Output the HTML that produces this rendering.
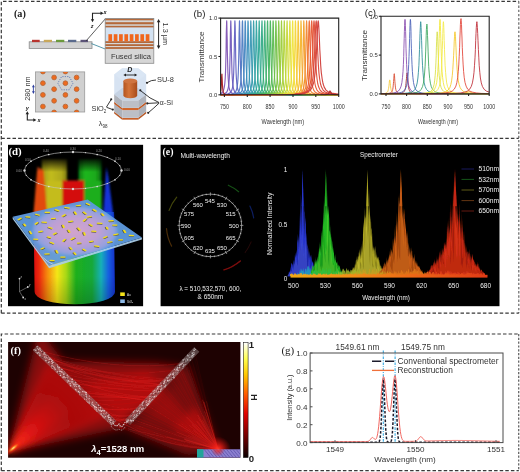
<!DOCTYPE html>
<html><head><meta charset="utf-8"><title>Figure</title>
<style>html,body{margin:0;padding:0;background:#fff;}body{width:520px;height:472px;overflow:hidden;}svg{display:block;filter:blur(0.5px);}</style>
</head><body>
<svg width="520" height="472" viewBox="0 0 520 472">
<defs><linearGradient id="cylg" x1="0" x2="1" y1="0" y2="0"><stop offset="0" stop-color="#b4541f"/><stop offset="0.4" stop-color="#d4743a"/><stop offset="1" stop-color="#a84c1c"/></linearGradient>
<filter id="blur05" x="-5%" y="-5%" width="110%" height="110%"><feGaussianBlur stdDeviation="0.5"/></filter>
<filter id="blur1" x="-10%" y="-10%" width="120%" height="120%"><feGaussianBlur stdDeviation="1.1"/></filter>
<filter id="blur2" x="-10%" y="-10%" width="120%" height="120%"><feGaussianBlur stdDeviation="2.2"/></filter>
<filter id="blur3" x="-20%" y="-20%" width="140%" height="140%"><feGaussianBlur stdDeviation="3.2"/></filter>
<filter id="blur4" x="-20%" y="-20%" width="140%" height="140%"><feGaussianBlur stdDeviation="4.5"/></filter>
<linearGradient id="dyel" x1="0" x2="1" y1="0" y2="0"><stop offset="0" stop-color="#a09a16"/><stop offset="0.35" stop-color="#c2bc1e"/><stop offset="0.8" stop-color="#aea81a"/><stop offset="1" stop-color="#7a760e"/></linearGradient>
<linearGradient id="dgrn" x1="0" x2="1" y1="0" y2="0"><stop offset="0" stop-color="#0d7a10"/><stop offset="0.3" stop-color="#1fb81f"/><stop offset="0.75" stop-color="#1aa81a"/><stop offset="1" stop-color="#0c6a0e"/></linearGradient>
<linearGradient id="dfade" x1="0" x2="0" y1="0" y2="1"><stop offset="0" stop-color="#000" stop-opacity="1"/><stop offset="0.35" stop-color="#000" stop-opacity="0.95"/><stop offset="1" stop-color="#000" stop-opacity="0"/></linearGradient>
<linearGradient id="drain" gradientUnits="userSpaceOnUse" x1="33.5" x2="115" y1="0" y2="0">
<stop offset="0" stop-color="#d80a0a"/><stop offset="0.07" stop-color="#ee2a0c"/><stop offset="0.17" stop-color="#f58a10"/><stop offset="0.29" stop-color="#f4e614"/><stop offset="0.40" stop-color="#a8d818"/><stop offset="0.52" stop-color="#1fb01c"/><stop offset="0.72" stop-color="#12a83a"/><stop offset="0.83" stop-color="#12b0b8"/><stop offset="0.92" stop-color="#1560e0"/><stop offset="1" stop-color="#1230c8"/></linearGradient>
<linearGradient id="dshade" x1="0" x2="0" y1="0" y2="1"><stop offset="0" stop-color="#000" stop-opacity="0"/><stop offset="0.7" stop-color="#000" stop-opacity="0"/><stop offset="1" stop-color="#000" stop-opacity="0.18"/></linearGradient>
<radialGradient id="dpink" cx="0.5" cy="0.5" r="0.5"><stop offset="0" stop-color="#d2a4cc"/><stop offset="0.55" stop-color="#bea0d4"/><stop offset="0.9" stop-color="#94a0de"/><stop offset="1" stop-color="#7aa0e2" stop-opacity="0.6"/></radialGradient>

<linearGradient id="eband" gradientUnits="userSpaceOnUse" x1="290" x2="487" y1="0" y2="0"><stop offset="0" stop-color="#f0a818"/><stop offset="0.3" stop-color="#f29018"/><stop offset="0.6" stop-color="#ee6a14"/><stop offset="1" stop-color="#e03a12"/></linearGradient>

<radialGradient id="fsrc" gradientUnits="userSpaceOnUse" cx="8" cy="452.5" r="110"><stop offset="0" stop-color="#ff9a30"/><stop offset="0.08" stop-color="#ff3014"/><stop offset="0.3" stop-color="#d01212" stop-opacity="0.9"/><stop offset="0.6" stop-color="#a00d0d" stop-opacity="0.6"/><stop offset="1" stop-color="#800a0a" stop-opacity="0"/></radialGradient>
<radialGradient id="fsrc3" gradientUnits="userSpaceOnUse" cx="8" cy="452.5" r="80"><stop offset="0" stop-color="#ff9a30"/><stop offset="0.1" stop-color="#ff3014"/><stop offset="0.4" stop-color="#e01414" stop-opacity="0.8"/><stop offset="1" stop-color="#c01010" stop-opacity="0"/></radialGradient>
<radialGradient id="fsrc2" cx="0.5" cy="0.5" r="0.5"><stop offset="0" stop-color="#fff2a0"/><stop offset="0.2" stop-color="#ffa030" stop-opacity="0.9"/><stop offset="0.5" stop-color="#ff3010" stop-opacity="0.5"/><stop offset="1" stop-color="#e01010" stop-opacity="0"/></radialGradient>
<radialGradient id="ffoc" cx="0.5" cy="0.5" r="0.5"><stop offset="0" stop-color="#ff3c28"/><stop offset="0.3" stop-color="#f02018" stop-opacity="0.8"/><stop offset="1" stop-color="#d01010" stop-opacity="0"/></radialGradient>
<linearGradient id="hot" x1="0" x2="0" y1="1" y2="0"><stop offset="0" stop-color="#0a0000"/><stop offset="0.18" stop-color="#700000"/><stop offset="0.38" stop-color="#e00000"/><stop offset="0.55" stop-color="#ff5a00"/><stop offset="0.72" stop-color="#ffc800"/><stop offset="0.86" stop-color="#ffff50"/><stop offset="1" stop-color="#ffffff"/></linearGradient>
</defs>
<rect width="520" height="472" fill="#fff"/>
<path d="M1.3 313.2 V1.3 H518.8" stroke="#383838" stroke-width="1.2" fill="none" stroke-dasharray="3.5 2.1"/>
<path d="M518.8 1.3 V313.2" stroke="#666" stroke-width="1.2" fill="none" stroke-dasharray="2.4 1.8"/>
<path d="M1.3 313.2 H518.8" stroke="#383838" stroke-width="1.2" fill="none" stroke-dasharray="3.5 2.1"/>
<path d="M1.3 138.3 H518.8" stroke="#383838" stroke-width="1.2" fill="none" stroke-dasharray="3.5 2.1"/>
<path d="M1.3 470.7 V334 H518.8" stroke="#383838" stroke-width="1.2" fill="none" stroke-dasharray="3.5 2.1"/>
<path d="M518.7 334 V470.7" stroke="#666" stroke-width="1.3" fill="none" stroke-dasharray="2.2 1.6"/>
<path d="M1.3 470.7 H518.8" stroke="#383838" stroke-width="1.2" fill="none" stroke-dasharray="3.5 2.1"/>
<g id="pa">
<text x="13.9" y="16.9" font-family="Liberation Serif, serif" font-weight="bold" font-size="10.2" fill="#222">(a)</text>
<rect x="29.2" y="41.8" width="62.8" height="6.6" fill="#d2d2d2" stroke="#8a8a8a" stroke-width="0.8"/>
<rect x="32" y="39.8" width="7.7" height="2.3" fill="#b8332d"/>
<rect x="43.8" y="39.8" width="8.2" height="2.3" fill="#c9a85a"/>
<rect x="56" y="39.8" width="8.3" height="2.3" fill="#6c9a3c"/>
<rect x="68" y="39.8" width="8.3" height="2.3" fill="#5a6a8c"/>
<rect x="80.5" y="39.8" width="7.5" height="2.3" fill="#5c5478"/>
<path d="M92.5 20 V13.3 H101" stroke="#222" stroke-width="1.1" fill="none"/>
<path d="M100.5 11.6 L103.6 13.3 L100.5 15 Z" fill="#222"/>
<path d="M90.8 19.2 L92.5 22.3 L94.2 19.2 Z" fill="#222"/>
<text x="103.6" y="13.5" font-family="Liberation Sans, sans-serif" font-style="italic" font-weight="bold" font-size="5.5" fill="#222">x</text>
<text x="90.8" y="28" font-family="Liberation Sans, sans-serif" font-style="italic" font-weight="bold" font-size="5.5" fill="#222">z</text>
<path d="M86 41 L105.2 19" stroke="#333" stroke-width="0.8" fill="none"/>
<path d="M91.5 43.6 L105.2 49" stroke="#2d7f95" stroke-width="0.8" fill="none"/>
<rect x="105.2" y="18.5" width="48.6" height="44.8" fill="#d6d6d6"/>
<rect x="105.2" y="26.5" width="48.6" height="15" fill="#d3e2f2"/>
<rect x="105.2" y="18.5" width="48.6" height="1.8" fill="#b4683a"/>
<rect x="105.2" y="22.2" width="48.6" height="2.1" fill="#b4683a"/>
<rect x="105.2" y="25.8" width="48.6" height="1.6" fill="#b4683a"/>
<rect x="105.2" y="41.2" width="48.6" height="1.8" fill="#b4683a"/>
<rect x="105.2" y="44.2" width="48.6" height="1.8" fill="#b4683a"/>
<rect x="105.2" y="47.1" width="48.6" height="1.8" fill="#b4683a"/>
<rect x="108.40" y="34.2" width="3.7" height="7" fill="#f0661c"/>
<rect x="113.73" y="34.2" width="3.7" height="7" fill="#f0661c"/>
<rect x="119.06" y="34.2" width="3.7" height="7" fill="#f0661c"/>
<rect x="124.39" y="34.2" width="3.7" height="7" fill="#f0661c"/>
<rect x="129.72" y="34.2" width="3.7" height="7" fill="#f0661c"/>
<rect x="135.05" y="34.2" width="3.7" height="7" fill="#f0661c"/>
<rect x="140.38" y="34.2" width="3.7" height="7" fill="#f0661c"/>
<rect x="145.71" y="34.2" width="3.7" height="7" fill="#f0661c"/>
<rect x="105.2" y="18.5" width="48.6" height="44.8" fill="none" stroke="#8c8c8c" stroke-width="0.8"/>
<text x="131" y="58.7" text-anchor="middle" font-family="Liberation Sans, sans-serif" font-size="7.8" fill="#333" textLength="40" lengthAdjust="spacingAndGlyphs">Fused silica</text>
<path d="M158.6 21.5 V46.5" stroke="#222" stroke-width="1" fill="none"/>
<path d="M156.8 22.3 L158.6 19 L160.4 22.3 Z" fill="#222"/>
<path d="M156.8 45.6 L158.6 48.9 L160.4 45.6 Z" fill="#222"/>
<text transform="translate(162.8 33.8) rotate(90)" text-anchor="middle" font-family="Liberation Sans, sans-serif" font-size="7.3" fill="#333">1.3 µm</text>
<clipPath id="latclip"><rect x="35.4" y="71.9" width="49.3" height="40.1"/></clipPath>
<rect x="35.4" y="71.9" width="49.3" height="40.1" fill="#d0d0d0" stroke="#9a9a9a" stroke-width="0.8"/>
<g clip-path="url(#latclip)">
<circle cx="42.9" cy="71.6" r="2.35" fill="#ee6a1e" stroke="#b8693a" stroke-width="0.9"/>
<circle cx="42.9" cy="83.2" r="2.35" fill="#ee6a1e" stroke="#b8693a" stroke-width="0.9"/>
<circle cx="42.9" cy="94.9" r="2.35" fill="#ee6a1e" stroke="#b8693a" stroke-width="0.9"/>
<circle cx="42.9" cy="106.5" r="2.35" fill="#ee6a1e" stroke="#b8693a" stroke-width="0.9"/>
<circle cx="54.1" cy="77.5" r="2.35" fill="#ee6a1e" stroke="#b8693a" stroke-width="0.9"/>
<circle cx="54.1" cy="89.2" r="2.35" fill="#ee6a1e" stroke="#b8693a" stroke-width="0.9"/>
<circle cx="54.1" cy="100.8" r="2.35" fill="#ee6a1e" stroke="#b8693a" stroke-width="0.9"/>
<circle cx="54.1" cy="112.4" r="2.35" fill="#ee6a1e" stroke="#b8693a" stroke-width="0.9"/>
<circle cx="65.4" cy="71.6" r="2.35" fill="#ee6a1e" stroke="#b8693a" stroke-width="0.9"/>
<circle cx="65.4" cy="83.2" r="2.35" fill="#ee6a1e" stroke="#b8693a" stroke-width="0.9"/>
<circle cx="65.4" cy="94.9" r="2.35" fill="#ee6a1e" stroke="#b8693a" stroke-width="0.9"/>
<circle cx="65.4" cy="106.5" r="2.35" fill="#ee6a1e" stroke="#b8693a" stroke-width="0.9"/>
<circle cx="76.6" cy="77.5" r="2.35" fill="#ee6a1e" stroke="#b8693a" stroke-width="0.9"/>
<circle cx="76.6" cy="89.2" r="2.35" fill="#ee6a1e" stroke="#b8693a" stroke-width="0.9"/>
<circle cx="76.6" cy="100.8" r="2.35" fill="#ee6a1e" stroke="#b8693a" stroke-width="0.9"/>
<circle cx="76.6" cy="112.4" r="2.35" fill="#ee6a1e" stroke="#b8693a" stroke-width="0.9"/>
</g>
<polygon points="73.0,83.2 69.2,89.8 61.6,89.8 57.8,83.2 61.6,76.6 69.2,76.6" fill="none" stroke="#4f6fb0" stroke-width="0.8" stroke-dasharray="1.2 1.2"/>
<text transform="translate(29.6 88.6) rotate(-90)" text-anchor="middle" font-family="Liberation Sans, sans-serif" font-size="7.3" fill="#333">280 nm</text>
<path d="M33.4 86.5 V92" stroke="#2c3e9e" stroke-width="0.9"/>
<path d="M32 87.2 L33.4 84.6 L34.8 87.2 Z" fill="#2c3e9e"/><path d="M32 91.3 L33.4 93.9 L34.8 91.3 Z" fill="#2c3e9e"/>
<path d="M27.3 113.5 V120 H34" stroke="#222" stroke-width="1.1" fill="none"/>
<path d="M25.6 114.3 L27.3 111.2 L29 114.3 Z" fill="#222"/><path d="M33.3 118.3 L36.4 120 L33.3 121.7 Z" fill="#222"/>
<text x="25.8" y="109.6" font-family="Liberation Sans, sans-serif" font-style="italic" font-weight="bold" font-size="5.5" fill="#222">y</text>
<text x="37.6" y="121.8" font-family="Liberation Sans, sans-serif" font-style="italic" font-weight="bold" font-size="5.5" fill="#222">x</text>
<polygon points="114.2,111.6 122.2,117.8 122.2,119.7 114.2,113.5" fill="#b85a28" /><polygon points="122.2,117.8 138.2,117.8 138.2,119.7 122.2,119.7" fill="#c8602a" /><polygon points="138.2,117.8 146.2,111.6 146.2,113.5 138.2,119.7" fill="#b85a28" />
<polygon points="114.2,103.9 122.2,110.1 122.2,117.8 114.2,111.6" fill="#aeb2ba" /><polygon points="122.2,110.1 138.2,110.1 138.2,117.8 122.2,117.8" fill="#bcbfc6" /><polygon points="138.2,110.1 146.2,103.9 146.2,111.6 138.2,117.8" fill="#aeb2ba" />
<polygon points="114.2,101.7 122.2,107.9 122.2,110.1 114.2,103.9" fill="#c05c28" /><polygon points="122.2,107.9 138.2,107.9 138.2,110.1 122.2,110.1" fill="#d0662c" /><polygon points="138.2,107.9 146.2,101.7 146.2,103.9 138.2,110.1" fill="#c05c28" />
<polygon points="114.2,94.3 122.2,100.5 122.2,107.9 114.2,101.7" fill="#aeb2ba" /><polygon points="122.2,100.5 138.2,100.5 138.2,107.9 122.2,107.9" fill="#bcbfc6" /><polygon points="138.2,100.5 146.2,94.3 146.2,101.7 138.2,107.9" fill="#aeb2ba" />
<polygon points="146.2,94.3 138.2,100.5 122.2,100.5 114.2,94.3 122.2,88.1 138.2,88.1" fill="#b9bcc3" />
<polygon points="114.2,74.5 122.2,68.3 138.2,68.3 146.2,74.5 146.2,94.3 138.2,100.5 122.2,100.5 114.2,94.3" fill="#c9d9ee" opacity="0.75"/>
<polygon points="146.2,74.5 138.2,80.7 122.2,80.7 114.2,74.5 122.2,68.3 138.2,68.3" fill="#dbe6f4" opacity="0.8"/>
<path d="M123.4 81 V95.6 A6.9 2.6 0 0 0 137.2 95.6 V81 Z" fill="url(#cylg)"/>
<ellipse cx="130.3" cy="81" rx="6.9" ry="2.4" fill="#cf7440"/>
<text x="129.8" y="72.3" text-anchor="middle" font-family="Liberation Sans, sans-serif" font-style="italic" font-weight="bold" font-size="7" fill="#222">D</text>
<path d="M125.2 75 H135.4" stroke="#222" stroke-width="0.9"/><path d="M126 73.6 L123.4 75 L126 76.4 Z" fill="#222"/><path d="M134.6 73.6 L137.2 75 L134.6 76.4 Z" fill="#222"/>
<text x="157" y="82.3" font-family="Liberation Sans, sans-serif" font-size="7.4" fill="#333">SU-8</text>
<text x="159.6" y="104.6" font-family="Liberation Sans, sans-serif" font-size="7.4" fill="#333">α-Si</text>
<text x="91.5" y="110.6" font-family="Liberation Sans, sans-serif" font-size="7.4" fill="#333">SiO<tspan font-size="4.5" dy="2">2</tspan></text>
<text x="98.8" y="126.4" font-family="Liberation Sans, sans-serif" font-size="7.4" fill="#333">λ<tspan font-size="4.5" dy="1.6">98</tspan></text>
<path d="M156 80 Q151 80 147.5 82.5" stroke="#222" stroke-width="0.9" fill="none"/><circle cx="147" cy="82.8" r="1.1" fill="#222"/>
<path d="M159 102.5 Q150 99 141 91" stroke="#222" stroke-width="0.9" fill="none"/><circle cx="140.3" cy="90.3" r="1.1" fill="#222"/>
<path d="M159 102.8 L148 103.4" stroke="#222" stroke-width="0.9" fill="none"/><circle cx="147.3" cy="103.4" r="1.1" fill="#222"/>
<path d="M159 103.2 Q154 108 148.8 112.3" stroke="#222" stroke-width="0.9" fill="none"/><circle cx="148.2" cy="112.8" r="1.1" fill="#222"/>
<path d="M106.5 107 L110.8 100" stroke="#222" stroke-width="0.9" fill="none"/><circle cx="111.2" cy="99.3" r="1.1" fill="#222"/>
<path d="M106.5 107.3 L112 109.3" stroke="#222" stroke-width="0.9" fill="none"/><circle cx="112.8" cy="109.6" r="1.1" fill="#222"/>
</g>
<g id="pb">
<clipPath id="bclip"><rect x="220.6" y="18.1" width="118.1" height="77.3"/></clipPath>
<g clip-path="url(#bclip)" fill="none" stroke-width="1.15" stroke-linejoin="round">
<path d="M220.6,93.5 L221.5,93.1 L222.7,92.0 L223.6,90.1 L224.3,87.1 L224.8,83.5 L225.2,78.5 L225.5,72.6 L225.7,65.5 L225.9,57.8 L226.1,49.4 L226.2,39.8 L226.3,32.8 L226.5,26.7 L226.6,22.4 L226.7,20.8 L226.8,22.4 L226.9,26.7 L227.0,32.8 L227.2,39.8 L227.3,49.4 L227.5,57.8 L227.7,65.5 L227.9,72.6 L228.2,78.5 L228.6,83.5 L229.0,87.1 L229.7,90.1 L230.7,92.0 L231.9,93.1 L233.7,93.9 L236.1,94.3 L239.9,94.5 L245.5,94.7 L254.9,94.7 L269.0,94.8 L292.6,94.8 L338.7,94.8" stroke="#8153b4" opacity="0.95"/>
<path d="M220.6,94.3 L221.4,94.3 L223.7,93.9 L225.6,93.1 L226.8,92.0 L227.7,90.1 L228.4,87.1 L228.9,83.5 L229.3,78.5 L229.6,72.6 L229.8,65.5 L230.0,57.8 L230.2,49.4 L230.3,39.8 L230.4,32.8 L230.6,26.7 L230.7,22.4 L230.8,20.8 L230.9,22.4 L231.0,26.7 L231.2,32.8 L231.3,39.8 L231.4,49.4 L231.6,57.8 L231.8,65.5 L232.0,72.6 L232.3,78.5 L232.7,83.5 L233.2,87.1 L233.9,90.1 L234.8,92.0 L236.0,93.1 L237.9,93.9 L240.2,94.3 L244.0,94.5 L249.6,94.7 L259.0,94.7 L273.2,94.8 L296.7,94.8 L338.7,94.8" stroke="#725abb" opacity="0.95"/>
<path d="M220.6,94.6 L221.7,94.5 L225.5,94.3 L227.9,93.9 L229.7,93.1 L230.9,92.0 L231.9,90.1 L232.6,87.1 L233.0,83.5 L233.4,78.5 L233.7,72.6 L233.9,65.5 L234.1,57.8 L234.3,49.4 L234.4,39.8 L234.6,32.8 L234.7,26.7 L234.8,22.4 L234.9,20.8 L235.0,22.4 L235.2,26.7 L235.3,32.8 L235.4,39.8 L235.6,49.4 L235.7,57.8 L235.9,65.5 L236.1,72.6 L236.4,78.5 L236.8,83.5 L237.3,87.1 L238.0,90.1 L238.9,92.0 L240.1,93.1 L242.0,93.9 L244.3,94.3 L248.1,94.5 L253.7,94.7 L263.2,94.7 L277.3,94.8 L300.8,94.8 L338.7,94.8" stroke="#6260c2" opacity="0.95"/>
<path d="M220.6,94.7 L220.7,94.7 L226.3,94.5 L230.1,94.3 L232.4,93.9 L234.3,93.1 L235.5,92.0 L236.4,90.1 L237.1,87.1 L237.6,83.5 L238.0,78.5 L238.3,72.6 L238.5,65.5 L238.7,57.8 L238.9,49.4 L239.0,39.8 L239.1,32.8 L239.3,26.7 L239.4,22.4 L239.5,20.8 L239.6,22.4 L239.7,26.7 L239.8,32.8 L240.0,39.8 L240.1,49.4 L240.3,57.8 L240.5,65.5 L240.7,72.6 L241.0,78.5 L241.4,83.5 L241.8,87.1 L242.5,90.1 L243.5,92.0 L244.7,93.1 L246.5,93.9 L248.9,94.3 L252.7,94.5 L258.3,94.7 L267.7,94.7 L281.8,94.8 L305.4,94.8 L338.7,94.8" stroke="#5570c3" opacity="0.95"/>
<path d="M220.6,94.7 L223.6,94.7 L229.3,94.5 L233.0,94.3 L235.4,93.9 L237.3,93.1 L238.5,92.0 L239.4,90.1 L240.1,87.1 L240.6,83.5 L241.0,78.5 L241.2,72.6 L241.5,65.5 L241.7,57.8 L241.8,49.4 L242.0,39.8 L242.1,32.8 L242.2,26.7 L242.3,22.4 L242.5,20.8 L242.6,22.4 L242.7,26.7 L242.8,32.8 L242.9,39.8 L243.1,49.4 L243.3,57.8 L243.4,65.5 L243.7,72.6 L244.0,78.5 L244.3,83.5 L244.8,87.1 L245.5,90.1 L246.5,92.0 L247.6,93.1 L249.5,93.9 L251.9,94.3 L255.6,94.5 L261.3,94.7 L270.7,94.7 L284.8,94.8 L308.3,94.8 L338.7,94.8" stroke="#4c7cc2" opacity="0.95"/>
<path d="M220.6,94.7 L226.4,94.7 L232.1,94.5 L235.8,94.3 L238.2,93.9 L240.1,93.1 L241.2,92.0 L242.2,90.1 L242.9,87.1 L243.4,83.5 L243.7,78.5 L244.0,72.6 L244.3,65.5 L244.4,57.8 L244.6,49.4 L244.8,39.8 L244.9,32.8 L245.0,26.7 L245.1,22.4 L245.2,20.8 L245.4,22.4 L245.5,26.7 L245.6,32.8 L245.7,39.8 L245.9,49.4 L246.0,57.8 L246.2,65.5 L246.5,72.6 L246.8,78.5 L247.1,83.5 L247.6,87.1 L248.3,90.1 L249.2,92.0 L250.4,93.1 L252.3,93.9 L254.7,94.3 L258.4,94.5 L264.1,94.7 L273.5,94.7 L287.6,94.8 L311.1,94.8 L338.7,94.8" stroke="#4587c1" opacity="0.95"/>
<path d="M220.6,94.7 L229.2,94.7 L234.9,94.5 L238.6,94.3 L241.0,93.9 L242.9,93.1 L244.0,92.0 L245.0,90.1 L245.7,87.1 L246.2,83.5 L246.5,78.5 L246.8,72.6 L247.0,65.5 L247.2,57.8 L247.4,49.4 L247.6,39.8 L247.7,32.8 L247.8,26.7 L247.9,22.4 L248.0,20.8 L248.2,22.4 L248.3,26.7 L248.4,32.8 L248.5,39.8 L248.7,49.4 L248.8,57.8 L249.0,65.5 L249.3,72.6 L249.5,78.5 L249.9,83.5 L250.4,87.1 L251.1,90.1 L252.0,92.0 L253.2,93.1 L255.1,93.9 L257.5,94.3 L261.2,94.5 L266.9,94.7 L276.3,94.7 L290.4,94.8 L313.9,94.8 L338.7,94.8" stroke="#3e91bd" opacity="0.95"/>
<path d="M220.6,94.7 L222.6,94.7 L232.0,94.7 L237.6,94.5 L241.4,94.3 L243.8,93.9 L245.6,93.1 L246.8,92.0 L247.8,90.1 L248.5,87.1 L248.9,83.5 L249.3,78.5 L249.6,72.6 L249.8,65.5 L250.0,57.8 L250.2,49.4 L250.4,39.8 L250.5,32.8 L250.6,26.7 L250.7,22.4 L250.8,20.8 L250.9,22.4 L251.1,26.7 L251.2,32.8 L251.3,39.8 L251.5,49.4 L251.6,57.8 L251.8,65.5 L252.0,72.6 L252.3,78.5 L252.7,83.5 L253.2,87.1 L253.9,90.1 L254.8,92.0 L256.0,93.1 L257.9,93.9 L260.2,94.3 L264.0,94.5 L269.7,94.7 L279.1,94.7 L293.2,94.8 L316.7,94.8 L338.7,94.8" stroke="#3a97b4" opacity="0.95"/>
<path d="M220.6,94.8 L225.4,94.7 L234.8,94.7 L240.4,94.5 L244.2,94.3 L246.6,93.9 L248.4,93.1 L249.6,92.0 L250.6,90.1 L251.3,87.1 L251.7,83.5 L252.1,78.5 L252.4,72.6 L252.6,65.5 L252.8,57.8 L253.0,49.4 L253.1,39.8 L253.3,32.8 L253.4,26.7 L253.5,22.4 L253.6,20.8 L253.7,22.4 L253.9,26.7 L254.0,32.8 L254.1,39.8 L254.3,49.4 L254.4,57.8 L254.6,65.5 L254.8,72.6 L255.1,78.5 L255.5,83.5 L256.0,87.1 L256.7,90.1 L257.6,92.0 L258.8,93.1 L260.7,93.9 L263.0,94.3 L266.8,94.5 L272.4,94.7 L281.9,94.7 L296.0,94.8 L319.5,94.8 L338.7,94.8" stroke="#369dab" opacity="0.95"/>
<path d="M220.6,94.8 L228.2,94.7 L237.6,94.7 L243.2,94.5 L247.0,94.3 L249.3,93.9 L251.2,93.1 L252.4,92.0 L253.3,90.1 L254.1,87.1 L254.5,83.5 L254.9,78.5 L255.2,72.6 L255.4,65.5 L255.6,57.8 L255.8,49.4 L255.9,39.8 L256.1,32.8 L256.2,26.7 L256.3,22.4 L256.4,20.8 L256.5,22.4 L256.6,26.7 L256.8,32.8 L256.9,39.8 L257.0,49.4 L257.2,57.8 L257.4,65.5 L257.6,72.6 L257.9,78.5 L258.3,83.5 L258.8,87.1 L259.5,90.1 L260.4,92.0 L261.6,93.1 L263.5,93.9 L265.8,94.3 L269.6,94.5 L275.2,94.7 L284.6,94.7 L298.8,94.8 L322.3,94.8 L338.7,94.8" stroke="#32a3a2" opacity="0.95"/>
<path d="M220.6,94.8 L231.0,94.7 L240.4,94.7 L246.0,94.5 L249.8,94.3 L252.1,93.9 L254.0,93.1 L255.2,92.0 L256.1,90.1 L256.8,87.1 L257.3,83.5 L257.7,78.5 L258.0,72.6 L258.2,65.5 L258.4,57.8 L258.6,49.4 L258.7,39.8 L258.8,32.8 L259.0,26.7 L259.1,22.4 L259.2,20.8 L259.3,22.4 L259.4,26.7 L259.5,32.8 L259.7,39.8 L259.8,49.4 L260.0,57.8 L260.2,65.5 L260.4,72.6 L260.7,78.5 L261.1,83.5 L261.5,87.1 L262.3,90.1 L263.2,92.0 L264.4,93.1 L266.3,93.9 L268.6,94.3 L272.4,94.5 L278.0,94.7 L287.4,94.7 L301.6,94.8 L325.1,94.8 L338.7,94.8" stroke="#30a997" opacity="0.95"/>
<path d="M220.6,94.8 L233.7,94.7 L243.2,94.7 L248.8,94.5 L252.6,94.3 L254.9,93.9 L256.8,93.1 L258.0,92.0 L258.9,90.1 L259.6,87.1 L260.1,83.5 L260.5,78.5 L260.8,72.6 L261.0,65.5 L261.2,57.8 L261.3,49.4 L261.5,39.8 L261.6,32.8 L261.7,26.7 L261.9,22.4 L262.0,20.8 L262.1,22.4 L262.2,26.7 L262.3,32.8 L262.5,39.8 L262.6,49.4 L262.8,57.8 L263.0,65.5 L263.2,72.6 L263.5,78.5 L263.9,83.5 L264.3,87.1 L265.0,90.1 L266.0,92.0 L267.2,93.1 L269.0,93.9 L271.4,94.3 L275.2,94.5 L280.8,94.7 L290.2,94.7 L304.3,94.8 L327.9,94.8 L338.7,94.8" stroke="#35ab88" opacity="0.95"/>
<path d="M220.6,94.8 L222.4,94.8 L236.5,94.7 L245.9,94.7 L251.6,94.5 L255.4,94.3 L257.7,93.9 L259.6,93.1 L260.8,92.0 L261.7,90.1 L262.4,87.1 L262.9,83.5 L263.3,78.5 L263.5,72.6 L263.8,65.5 L264.0,57.8 L264.1,49.4 L264.3,39.8 L264.4,32.8 L264.5,26.7 L264.7,22.4 L264.8,20.8 L264.9,22.4 L265.0,26.7 L265.1,32.8 L265.2,39.8 L265.4,49.4 L265.6,57.8 L265.8,65.5 L266.0,72.6 L266.3,78.5 L266.7,83.5 L267.1,87.1 L267.8,90.1 L268.8,92.0 L269.9,93.1 L271.8,93.9 L274.2,94.3 L277.9,94.5 L283.6,94.7 L293.0,94.7 L307.1,94.8 L330.7,94.8 L338.7,94.8" stroke="#3bae78" opacity="0.95"/>
<path d="M220.6,94.8 L225.2,94.8 L239.3,94.7 L248.7,94.7 L254.4,94.5 L258.1,94.3 L260.5,93.9 L262.4,93.1 L263.6,92.0 L264.5,90.1 L265.2,87.1 L265.7,83.5 L266.1,78.5 L266.3,72.6 L266.6,65.5 L266.8,57.8 L266.9,49.4 L267.1,39.8 L267.2,32.8 L267.3,26.7 L267.4,22.4 L267.6,20.8 L267.7,22.4 L267.8,26.7 L267.9,32.8 L268.0,39.8 L268.2,49.4 L268.4,57.8 L268.5,65.5 L268.8,72.6 L269.1,78.5 L269.4,83.5 L269.9,87.1 L270.6,90.1 L271.6,92.0 L272.7,93.1 L274.6,93.9 L277.0,94.3 L280.7,94.5 L286.4,94.7 L295.8,94.7 L309.9,94.8 L333.5,94.8 L338.7,94.8" stroke="#40b168" opacity="0.95"/>
<path d="M220.6,94.8 L228.0,94.8 L242.1,94.7 L251.5,94.7 L257.2,94.5 L260.9,94.3 L263.3,93.9 L265.2,93.1 L266.3,92.0 L267.3,90.1 L268.0,87.1 L268.5,83.5 L268.8,78.5 L269.1,72.6 L269.4,65.5 L269.5,57.8 L269.7,49.4 L269.9,39.8 L270.0,32.8 L270.1,26.7 L270.2,22.4 L270.3,20.8 L270.5,22.4 L270.6,26.7 L270.7,32.8 L270.8,39.8 L271.0,49.4 L271.1,57.8 L271.3,65.5 L271.6,72.6 L271.9,78.5 L272.2,83.5 L272.7,87.1 L273.4,90.1 L274.3,92.0 L275.5,93.1 L277.4,93.9 L279.8,94.3 L283.5,94.5 L289.2,94.7 L298.6,94.7 L312.7,94.8 L336.2,94.8 L338.7,94.8" stroke="#47b459" opacity="0.95"/>
<path d="M220.6,94.8 L230.8,94.8 L244.9,94.7 L254.3,94.7 L260.0,94.5 L263.7,94.3 L266.1,93.9 L268.0,93.1 L269.1,92.0 L270.1,90.1 L270.8,87.1 L271.3,83.5 L271.6,78.5 L271.9,72.6 L272.1,65.5 L272.3,57.8 L272.5,49.4 L272.7,39.8 L272.8,32.8 L272.9,26.7 L273.0,22.4 L273.1,20.8 L273.3,22.4 L273.4,26.7 L273.5,32.8 L273.6,39.8 L273.8,49.4 L273.9,57.8 L274.1,65.5 L274.4,72.6 L274.6,78.5 L275.0,83.5 L275.5,87.1 L276.2,90.1 L277.1,92.0 L278.3,93.1 L280.2,93.9 L282.6,94.3 L286.3,94.5 L292.0,94.7 L301.4,94.7 L315.5,94.8 L338.7,94.8" stroke="#5cba52" opacity="0.95"/>
<path d="M220.6,94.8 L233.6,94.8 L247.7,94.7 L257.1,94.7 L262.7,94.5 L266.5,94.3 L268.9,93.9 L270.7,93.1 L271.9,92.0 L272.9,90.1 L273.6,87.1 L274.0,83.5 L274.4,78.5 L274.7,72.6 L274.9,65.5 L275.1,57.8 L275.3,49.4 L275.5,39.8 L275.6,32.8 L275.7,26.7 L275.8,22.4 L275.9,20.8 L276.0,22.4 L276.2,26.7 L276.3,32.8 L276.4,39.8 L276.6,49.4 L276.7,57.8 L276.9,65.5 L277.2,72.6 L277.4,78.5 L277.8,83.5 L278.3,87.1 L279.0,90.1 L279.9,92.0 L281.1,93.1 L283.0,93.9 L285.3,94.3 L289.1,94.5 L294.8,94.7 L304.2,94.7 L318.3,94.8 L338.7,94.8" stroke="#71c04a" opacity="0.95"/>
<path d="M220.6,94.8 L236.4,94.8 L250.5,94.7 L259.9,94.7 L265.5,94.5 L269.3,94.3 L271.7,93.9 L273.5,93.1 L274.7,92.0 L275.7,90.1 L276.4,87.1 L276.8,83.5 L277.2,78.5 L277.5,72.6 L277.7,65.5 L277.9,57.8 L278.1,49.4 L278.2,39.8 L278.4,32.8 L278.5,26.7 L278.6,22.4 L278.7,20.8 L278.8,22.4 L279.0,26.7 L279.1,32.8 L279.2,39.8 L279.4,49.4 L279.5,57.8 L279.7,65.5 L279.9,72.6 L280.2,78.5 L280.6,83.5 L281.1,87.1 L281.8,90.1 L282.7,92.0 L283.9,93.1 L285.8,93.9 L288.1,94.3 L291.9,94.5 L297.5,94.7 L307.0,94.7 L321.1,94.8 L338.7,94.8" stroke="#86c642" opacity="0.95"/>
<path d="M220.6,94.8 L239.1,94.8 L253.3,94.7 L262.7,94.7 L268.3,94.5 L272.1,94.3 L274.4,93.9 L276.3,93.1 L277.5,92.0 L278.4,90.1 L279.2,87.1 L279.6,83.5 L280.0,78.5 L280.3,72.6 L280.5,65.5 L280.7,57.8 L280.9,49.4 L281.0,39.8 L281.2,32.8 L281.3,26.7 L281.4,22.4 L281.5,20.8 L281.6,22.4 L281.7,26.7 L281.9,32.8 L282.0,39.8 L282.1,49.4 L282.3,57.8 L282.5,65.5 L282.7,72.6 L283.0,78.5 L283.4,83.5 L283.9,87.1 L284.6,90.1 L285.5,92.0 L286.7,93.1 L288.6,93.9 L290.9,94.3 L294.7,94.5 L300.3,94.7 L309.7,94.7 L323.9,94.8 L338.7,94.8" stroke="#9ccc3a" opacity="0.95"/>
<path d="M220.6,94.8 L241.9,94.8 L256.1,94.7 L265.5,94.7 L271.1,94.5 L274.9,94.3 L277.2,93.9 L279.1,93.1 L280.3,92.0 L281.2,90.1 L281.9,87.1 L282.4,83.5 L282.8,78.5 L283.1,72.6 L283.3,65.5 L283.5,57.8 L283.7,49.4 L283.8,39.8 L283.9,32.8 L284.1,26.7 L284.2,22.4 L284.3,20.8 L284.4,22.4 L284.5,26.7 L284.6,32.8 L284.8,39.8 L284.9,49.4 L285.1,57.8 L285.3,65.5 L285.5,72.6 L285.8,78.5 L286.2,83.5 L286.6,87.1 L287.4,90.1 L288.3,92.0 L289.5,93.1 L291.4,93.9 L293.7,94.3 L297.5,94.5 L303.1,94.7 L312.5,94.7 L326.7,94.8 L338.7,94.8" stroke="#b1d23a" opacity="0.95"/>
<path d="M220.6,94.8 L221.2,94.8 L244.7,94.8 L258.8,94.7 L268.3,94.7 L273.9,94.5 L277.7,94.3 L280.0,93.9 L281.9,93.1 L283.1,92.0 L284.0,90.1 L284.7,87.1 L285.2,83.5 L285.6,78.5 L285.9,72.6 L286.1,65.5 L286.3,57.8 L286.4,49.4 L286.6,39.8 L286.7,32.8 L286.8,26.7 L287.0,22.4 L287.1,20.8 L287.2,22.4 L287.3,26.7 L287.4,32.8 L287.6,39.8 L287.7,49.4 L287.9,57.8 L288.1,65.5 L288.3,72.6 L288.6,78.5 L289.0,83.5 L289.4,87.1 L290.1,90.1 L291.1,92.0 L292.3,93.1 L294.1,93.9 L296.5,94.3 L300.3,94.5 L305.9,94.7 L315.3,94.7 L329.4,94.8 L338.7,94.8" stroke="#c6d83a" opacity="0.95"/>
<path d="M220.6,94.8 L224.0,94.8 L247.5,94.8 L261.6,94.7 L271.0,94.7 L276.7,94.5 L280.5,94.3 L282.8,93.9 L284.7,93.1 L285.9,92.0 L286.8,90.1 L287.5,87.1 L288.0,83.5 L288.4,78.5 L288.6,72.6 L288.9,65.5 L289.1,57.8 L289.2,49.4 L289.4,39.8 L289.5,32.8 L289.6,26.7 L289.8,22.4 L289.9,20.8 L290.0,22.4 L290.1,26.7 L290.2,32.8 L290.3,39.8 L290.5,49.4 L290.7,57.8 L290.9,65.5 L291.1,72.6 L291.4,78.5 L291.8,83.5 L292.2,87.1 L292.9,90.1 L293.9,92.0 L295.0,93.1 L296.9,93.9 L299.3,94.3 L303.0,94.5 L308.7,94.7 L318.1,94.7 L332.2,94.8 L338.7,94.8" stroke="#dbdd3a" opacity="0.95"/>
<path d="M220.6,94.8 L226.8,94.8 L250.3,94.8 L264.4,94.7 L273.8,94.7 L279.5,94.5 L283.2,94.3 L285.6,93.9 L287.5,93.1 L288.7,92.0 L289.6,90.1 L290.3,87.1 L290.8,83.5 L291.2,78.5 L291.4,72.6 L291.7,65.5 L291.9,57.8 L292.0,49.4 L292.2,39.8 L292.3,32.8 L292.4,26.7 L292.5,22.4 L292.7,20.8 L292.8,22.4 L292.9,26.7 L293.0,32.8 L293.1,39.8 L293.3,49.4 L293.5,57.8 L293.6,65.5 L293.9,72.6 L294.2,78.5 L294.5,83.5 L295.0,87.1 L295.7,90.1 L296.7,92.0 L297.8,93.1 L299.7,93.9 L302.1,94.3 L305.8,94.5 L311.5,94.7 L320.9,94.7 L335.0,94.8 L338.7,94.8" stroke="#f0e33a" opacity="0.95"/>
<path d="M220.6,94.8 L229.6,94.8 L253.1,94.8 L267.2,94.7 L276.6,94.7 L282.3,94.5 L286.0,94.3 L288.4,93.9 L290.3,93.1 L291.4,92.0 L292.4,90.1 L293.1,87.1 L293.6,83.5 L293.9,78.5 L294.2,72.6 L294.5,65.5 L294.6,57.8 L294.8,49.4 L295.0,39.8 L295.1,32.8 L295.2,26.7 L295.3,22.4 L295.4,20.8 L295.6,22.4 L295.7,26.7 L295.8,32.8 L295.9,39.8 L296.1,49.4 L296.2,57.8 L296.4,65.5 L296.7,72.6 L297.0,78.5 L297.3,83.5 L297.8,87.1 L298.5,90.1 L299.4,92.0 L300.6,93.1 L302.5,93.9 L304.9,94.3 L308.6,94.5 L314.3,94.7 L323.7,94.7 L337.8,94.8 L338.7,94.8" stroke="#f3d637" opacity="0.95"/>
<path d="M220.6,94.8 L232.3,94.8 L255.9,94.8 L270.0,94.7 L279.4,94.7 L285.1,94.5 L288.8,94.3 L291.2,93.9 L293.1,93.1 L294.2,92.0 L295.2,90.1 L295.9,87.1 L296.4,83.5 L296.7,78.5 L297.0,72.6 L297.2,65.5 L297.4,57.8 L297.6,49.4 L297.8,39.8 L297.9,32.8 L298.0,26.7 L298.1,22.4 L298.2,20.8 L298.4,22.4 L298.5,26.7 L298.6,32.8 L298.7,39.8 L298.9,49.4 L299.0,57.8 L299.2,65.5 L299.5,72.6 L299.7,78.5 L300.1,83.5 L300.6,87.1 L301.3,90.1 L302.2,92.0 L303.4,93.1 L305.3,93.9 L307.7,94.3 L311.4,94.5 L317.1,94.7 L326.5,94.7 L338.7,94.8" stroke="#f4c534" opacity="0.95"/>
<path d="M220.6,94.8 L235.1,94.8 L258.7,94.8 L272.8,94.7 L282.2,94.7 L287.8,94.5 L291.6,94.3 L294.0,93.9 L295.8,93.1 L297.0,92.0 L298.0,90.1 L298.7,87.1 L299.1,83.5 L299.5,78.5 L299.8,72.6 L300.0,65.5 L300.2,57.8 L300.4,49.4 L300.6,39.8 L300.7,32.8 L300.8,26.7 L300.9,22.4 L301.0,20.8 L301.1,22.4 L301.3,26.7 L301.4,32.8 L301.5,39.8 L301.7,49.4 L301.8,57.8 L302.0,65.5 L302.3,72.6 L302.5,78.5 L302.9,83.5 L303.4,87.1 L304.1,90.1 L305.0,92.0 L306.2,93.1 L308.1,93.9 L310.4,94.3 L314.2,94.5 L319.9,94.7 L329.3,94.7 L338.7,94.8" stroke="#f4b530" opacity="0.95"/>
<path d="M220.6,94.8 L236.3,94.8 L260.4,94.8 L274.9,94.7 L284.5,94.7 L290.3,94.5 L294.2,94.3 L296.6,93.9 L298.5,93.1 L299.7,92.0 L300.7,90.1 L301.4,87.1 L301.9,83.5 L302.3,78.5 L302.6,72.6 L302.8,65.5 L303.0,57.8 L303.2,49.4 L303.3,39.8 L303.5,32.8 L303.6,26.7 L303.7,22.4 L303.8,20.8 L303.9,22.4 L304.1,26.7 L304.2,32.8 L304.3,39.8 L304.5,49.4 L304.6,57.8 L304.8,65.5 L305.1,72.6 L305.4,78.5 L305.7,83.5 L306.2,87.1 L306.9,90.1 L307.9,92.0 L309.1,93.1 L311.0,93.9 L313.5,94.3 L317.3,94.5 L323.1,94.7 L332.7,94.7 L338.7,94.8" stroke="#f4a22f" opacity="0.95"/>
<path d="M220.6,94.8 L227.3,94.8 L255.6,94.8 L272.6,94.7 L283.9,94.7 L290.7,94.5 L295.3,94.3 L298.1,93.9 L300.4,93.1 L301.8,92.0 L302.9,90.1 L303.8,87.1 L304.3,83.5 L304.8,78.5 L305.1,72.6 L305.4,65.5 L305.6,57.8 L305.8,49.4 L306.0,39.8 L306.2,32.8 L306.3,26.7 L306.5,22.4 L306.6,20.8 L306.7,22.4 L306.9,26.7 L307.0,32.8 L307.2,39.8 L307.4,49.4 L307.6,57.8 L307.8,65.5 L308.1,72.6 L308.4,78.5 L308.9,83.5 L309.4,87.1 L310.3,90.1 L311.4,92.0 L312.8,93.1 L315.1,93.9 L317.9,94.3 L322.5,94.5 L329.3,94.7 L338.7,94.7" stroke="#f08731" opacity="0.95"/>
<path d="M220.6,94.8 L248.1,94.8 L268.5,94.7 L282.1,94.7 L290.2,94.5 L295.7,94.3 L299.1,93.9 L301.8,93.1 L303.5,92.0 L304.8,90.1 L305.9,87.1 L306.5,83.5 L307.1,78.5 L307.5,72.6 L307.8,65.5 L308.1,57.8 L308.3,49.4 L308.6,39.8 L308.7,32.8 L308.9,26.7 L309.1,22.4 L309.3,20.8 L309.4,22.4 L309.6,26.7 L309.8,32.8 L309.9,39.8 L310.2,49.4 L310.4,57.8 L310.7,65.5 L311.0,72.6 L311.4,78.5 L312.0,83.5 L312.7,87.1 L313.7,90.1 L315.0,92.0 L316.7,93.1 L319.4,93.9 L322.8,94.3 L328.3,94.5 L336.4,94.7 L338.7,94.7" stroke="#ed6d33" opacity="0.95"/>
<path d="M220.6,94.8 L239.4,94.8 L263.5,94.7 L279.6,94.7 L289.2,94.5 L295.6,94.3 L299.7,93.9 L302.9,93.1 L304.9,92.0 L306.5,90.1 L307.7,87.1 L308.5,83.5 L309.2,78.5 L309.6,72.6 L310.0,65.5 L310.4,57.8 L310.6,49.4 L310.9,39.8 L311.1,32.8 L311.3,26.7 L311.5,22.4 L311.7,20.8 L311.9,22.4 L312.1,26.7 L312.3,32.8 L312.5,39.8 L312.8,49.4 L313.1,57.8 L313.4,65.5 L313.8,72.6 L314.3,78.5 L314.9,83.5 L315.7,87.1 L317.0,90.1 L318.6,92.0 L320.6,93.1 L323.8,93.9 L327.8,94.3 L334.2,94.5 L338.7,94.6" stroke="#e85834" opacity="0.95"/>
<path d="M220.6,94.8 L230.0,94.8 L258.0,94.7 L276.7,94.7 L287.9,94.5 L295.3,94.3 L300.0,93.9 L303.7,93.1 L306.1,92.0 L307.9,90.1 L309.3,87.1 L310.3,83.5 L311.0,78.5 L311.6,72.6 L312.1,65.5 L312.4,57.8 L312.8,49.4 L313.1,39.8 L313.3,32.8 L313.5,26.7 L313.8,22.4 L314.0,20.8 L314.2,22.4 L314.5,26.7 L314.7,32.8 L314.9,39.8 L315.3,49.4 L315.6,57.8 L316.0,65.5 L316.4,72.6 L317.0,78.5 L317.7,83.5 L318.7,87.1 L320.1,90.1 L321.9,92.0 L324.3,93.1 L328.0,93.9 L332.7,94.3 L338.7,94.5" stroke="#e04f37" opacity="0.95"/>
<path d="M220.6,94.8 L252.3,94.7 L273.6,94.7 L286.4,94.5 L294.9,94.3 L300.2,93.9 L304.4,93.1 L307.1,92.0 L309.2,90.1 L310.8,87.1 L311.9,83.5 L312.8,78.5 L313.4,72.6 L313.9,65.5 L314.4,57.8 L314.7,49.4 L315.1,39.8 L315.4,32.8 L315.6,26.7 L315.9,22.4 L316.2,20.8 L316.4,22.4 L316.7,26.7 L317.0,32.8 L317.2,39.8 L317.6,49.4 L318.0,57.8 L318.4,65.5 L318.9,72.6 L319.6,78.5 L320.4,83.5 L321.5,87.1 L323.1,90.1 L325.2,92.0 L327.9,93.1 L332.1,93.9 L337.5,94.3 L338.7,94.3" stroke="#d84739" opacity="0.95"/>
<path d="M220.6,94.8 L246.3,94.7 L270.3,94.7 L284.6,94.5 L294.2,94.3 L300.2,93.9 L305.0,93.1 L308.0,92.0 L310.4,90.1 L312.2,87.1 L313.4,83.5 L314.4,78.5 L315.1,72.6 L315.7,65.5 L316.2,57.8 L316.6,49.4 L317.0,39.8 L317.3,32.8 L317.6,26.7 L317.9,22.4 L318.2,20.8 L318.5,22.4 L318.8,26.7 L319.1,32.8 L319.4,39.8 L319.8,49.4 L320.3,57.8 L320.7,65.5 L321.3,72.6 L322.1,78.5 L323.0,83.5 L324.2,87.1 L326.0,90.1 L328.4,92.0 L331.4,93.1 L336.2,93.9 L338.7,94.1" stroke="#d13f3b" opacity="0.95"/>
<path d="M220.6,91.6 L220.9,90.2 L221.0,88.6 L221.2,86.6 L221.3,84.4 L221.4,82.1 L221.6,79.4 L221.6,77.5 L221.7,75.7 L221.8,74.5 L221.9,74.1 L222.0,74.5 L222.0,75.7 L222.1,77.5 L222.2,79.4 L222.3,82.1 L222.4,84.4 L222.6,86.6 L222.7,88.6 L222.9,90.2 L223.2,91.6 L223.5,92.7 L224.0,93.5 L224.6,94.0 L225.4,94.3 L226.7,94.5 L228.3,94.7 L230.9,94.7 L233.5,94.8" stroke="#b02a2a"/>
<path d="M320.4,94.7 L322.6,94.7 L324.3,94.7 L325.6,94.6 L326.7,94.4 L327.3,94.2 L327.9,94.0 L328.3,93.7 L328.6,93.3 L328.9,92.9 L329.1,92.4 L329.3,92.0 L329.5,91.6 L329.7,91.3 L329.8,91.0 L330.0,91.0 L330.2,91.0 L330.3,91.3 L330.5,91.6 L330.7,92.0 L330.9,92.4 L331.2,92.9 L331.4,93.3 L331.8,93.7 L332.2,94.0 L332.7,94.2 L333.4,94.4 L334.4,94.6 L335.7,94.7 L337.4,94.7 L338.7,94.7" stroke="#b02a2a"/>
</g>
<path d="M220.6 18.1 H338.7 V94.8 H220.6 Z" stroke="#222" stroke-width="1.1" fill="none"/>
<path d="M218.4 94.8 H220.6" stroke="#222" stroke-width="1.1" fill="none"/>
<path d="M218.4 56.5 H220.6" stroke="#222" stroke-width="1.1" fill="none"/>
<path d="M218.4 18.1 H220.6" stroke="#222" stroke-width="1.1" fill="none"/>
<path d="M224.4 94.8 V97.0" stroke="#222" stroke-width="1.1" fill="none"/>
<path d="M247.3 94.8 V97.0" stroke="#222" stroke-width="1.1" fill="none"/>
<path d="M270.1 94.8 V97.0" stroke="#222" stroke-width="1.1" fill="none"/>
<path d="M293.0 94.8 V97.0" stroke="#222" stroke-width="1.1" fill="none"/>
<path d="M315.8 94.8 V97.0" stroke="#222" stroke-width="1.1" fill="none"/>
<path d="M338.7 94.8 V97.0" stroke="#222" stroke-width="1.1" fill="none"/>
<text x="217.2" y="97.0" text-anchor="end" font-size="6.2" textLength="8.2" lengthAdjust="spacingAndGlyphs" font-family="Liberation Sans, sans-serif" fill="#333">0.0</text>
<text x="217.2" y="58.7" text-anchor="end" font-size="6.2" textLength="8.2" lengthAdjust="spacingAndGlyphs" font-family="Liberation Sans, sans-serif" fill="#333">0.5</text>
<text x="217.2" y="20.3" text-anchor="end" font-size="6.2" textLength="8.2" lengthAdjust="spacingAndGlyphs" font-family="Liberation Sans, sans-serif" fill="#333">1.0</text>
<text x="224.4" y="109.3" text-anchor="middle" font-size="6.4" textLength="9" lengthAdjust="spacingAndGlyphs" font-family="Liberation Sans, sans-serif" fill="#333">750</text>
<text x="247.3" y="109.3" text-anchor="middle" font-size="6.4" textLength="9" lengthAdjust="spacingAndGlyphs" font-family="Liberation Sans, sans-serif" fill="#333">800</text>
<text x="270.1" y="109.3" text-anchor="middle" font-size="6.4" textLength="9" lengthAdjust="spacingAndGlyphs" font-family="Liberation Sans, sans-serif" fill="#333">850</text>
<text x="293.0" y="109.3" text-anchor="middle" font-size="6.4" textLength="9" lengthAdjust="spacingAndGlyphs" font-family="Liberation Sans, sans-serif" fill="#333">900</text>
<text x="315.8" y="109.3" text-anchor="middle" font-size="6.4" textLength="9" lengthAdjust="spacingAndGlyphs" font-family="Liberation Sans, sans-serif" fill="#333">950</text>
<text x="338.7" y="109.3" text-anchor="middle" font-size="6.4" textLength="12" lengthAdjust="spacingAndGlyphs" font-family="Liberation Sans, sans-serif" fill="#333">1000</text>
<text x="282.8" y="123.8" text-anchor="middle" font-size="6.8" textLength="42.5" lengthAdjust="spacingAndGlyphs" font-family="Liberation Sans, sans-serif" fill="#333">Wavelength (nm)</text>
<text transform="translate(203.6 57) rotate(-90)" text-anchor="middle" font-size="7.2" textLength="51" lengthAdjust="spacingAndGlyphs" font-family="Liberation Sans, sans-serif" fill="#333">Transmittance</text>
<text x="193.6" y="16.8" font-size="9.7" font-family="Liberation Sans, sans-serif" fill="#222">(b)</text>
</g>
<g id="pc">
<clipPath id="cclip"><rect x="381" y="16.3" width="108.2" height="78.2"/></clipPath>
<g clip-path="url(#cclip)" fill="none" stroke-width="0.95" stroke-linejoin="round">
<path d="M381.0,93.7 L381.7,93.7 L383.8,93.6 L385.2,93.4 L386.2,93.0 L387.0,92.5 L387.6,91.8 L388.0,90.8 L388.3,89.7 L388.6,88.4 L388.8,86.9 L389.0,85.3 L389.2,83.5 L389.3,82.2 L389.4,81.0 L389.6,80.2 L389.7,79.9 L389.9,80.2 L390.0,81.0 L390.1,82.2 L390.3,83.5 L390.4,85.3 L390.6,86.9 L390.8,88.4 L391.1,89.7 L391.4,90.8 L391.9,91.8 L392.4,92.5 L393.2,93.0 L394.3,93.4 L395.6,93.6 L397.7,93.7 L400.4,93.8 L404.7,93.8 L411.1,93.9 L421.8,93.9 L437.8,93.9 L464.5,93.9 L489.2,93.9" stroke="#f5c93a" opacity="0.92"/>
<path d="M381.0,93.8 L384.5,93.8 L387.0,93.6 L388.9,93.4 L390.1,93.1 L391.1,92.6 L391.8,91.8 L392.3,90.8 L392.7,89.5 L393.0,87.9 L393.2,85.9 L393.4,83.8 L393.6,81.5 L393.8,78.9 L393.9,77.0 L394.0,75.3 L394.1,74.2 L394.3,73.7 L394.4,74.2 L394.5,75.3 L394.6,77.0 L394.7,78.9 L394.9,81.5 L395.1,83.8 L395.3,85.9 L395.5,87.9 L395.8,89.5 L396.2,90.8 L396.7,91.8 L397.4,92.6 L398.4,93.1 L399.6,93.4 L401.5,93.6 L404.0,93.8 L407.9,93.8 L413.7,93.9 L423.4,93.9 L438.0,93.9 L462.3,93.9 L489.2,93.9" stroke="#d84a30" opacity="0.92"/>
<path d="M381.0,93.9 L382.8,93.9 L390.1,93.8 L394.9,93.7 L398.0,93.6 L400.4,93.4 L401.9,93.1 L403.1,92.6 L404.0,91.7 L404.6,90.7 L405.1,89.3 L405.5,87.6 L405.8,85.6 L406.0,83.4 L406.2,81.1 L406.5,78.3 L406.6,76.4 L406.8,74.6 L406.9,73.4 L407.1,72.9 L407.2,73.4 L407.4,74.6 L407.5,76.4 L407.7,78.3 L407.9,81.1 L408.1,83.4 L408.3,85.6 L408.6,87.6 L409.0,89.3 L409.5,90.7 L410.1,91.7 L411.0,92.6 L412.2,93.1 L413.7,93.4 L416.2,93.6 L419.2,93.7 L424.1,93.8 L431.4,93.9 L443.5,93.9 L461.7,93.9 L489.2,93.9" stroke="#a02830" opacity="0.92"/>
<path d="M381.0,93.7 L383.2,93.6 L389.4,93.4 L393.3,93.0 L396.4,92.2 L398.4,91.0 L399.9,89.1 L401.1,86.2 L401.9,82.5 L402.5,77.5 L403.0,71.6 L403.4,64.4 L403.7,56.7 L403.9,48.2 L404.2,38.6 L404.4,31.5 L404.6,25.3 L404.8,21.0 L405.0,19.4 L405.2,21.0 L405.4,25.3 L405.6,31.5 L405.8,38.6 L406.0,48.2 L406.3,56.7 L406.6,64.4 L407.0,71.6 L407.5,77.5 L408.1,82.5 L408.9,86.2 L410.1,89.1 L411.6,91.0 L413.5,92.2 L416.7,93.0 L420.5,93.4 L426.8,93.6 L436.1,93.8 L451.6,93.8 L475.0,93.9 L489.2,93.9" stroke="#8a4fb0" opacity="0.92"/>
<path d="M381.0,93.7 L388.6,93.6 L394.8,93.4 L398.7,93.0 L401.8,92.2 L403.8,91.0 L405.3,89.1 L406.5,86.2 L407.3,82.5 L407.9,77.5 L408.3,71.6 L408.7,64.4 L409.0,56.7 L409.3,48.2 L409.6,38.6 L409.8,31.5 L410.0,25.3 L410.2,21.0 L410.4,19.4 L410.6,21.0 L410.8,25.3 L411.0,31.5 L411.1,38.6 L411.4,48.2 L411.7,56.7 L412.0,64.4 L412.4,71.6 L412.9,77.5 L413.5,82.5 L414.3,86.2 L415.4,89.1 L417.0,91.0 L418.9,92.2 L422.0,93.0 L425.9,93.4 L432.1,93.6 L441.5,93.8 L457.0,93.8 L480.3,93.9 L489.2,93.9" stroke="#4a62b8" opacity="0.92"/>
<path d="M381.0,93.8 L385.7,93.8 L396.2,93.6 L403.2,93.4 L407.6,93.0 L411.1,92.2 L413.3,91.1 L415.0,89.3 L416.3,86.4 L417.2,82.9 L417.9,78.0 L418.4,72.3 L418.9,65.3 L419.2,57.8 L419.5,49.6 L419.8,40.3 L420.0,33.5 L420.3,27.5 L420.5,23.3 L420.7,21.7 L420.9,23.3 L421.1,27.5 L421.3,33.5 L421.6,40.3 L421.9,49.6 L422.2,57.8 L422.5,65.3 L423.0,72.3 L423.5,78.0 L424.2,82.9 L425.1,86.4 L426.4,89.3 L428.1,91.1 L430.3,92.2 L433.8,93.0 L438.2,93.4 L445.2,93.6 L455.7,93.8 L473.2,93.8 L489.2,93.9" stroke="#2f8f9a" opacity="0.92"/>
<path d="M381.0,93.8 L391.9,93.8 L402.4,93.6 L409.4,93.4 L413.8,93.0 L417.3,92.3 L419.5,91.2 L421.2,89.4 L422.5,86.7 L423.4,83.2 L424.1,78.5 L424.6,73.0 L425.1,66.3 L425.4,59.0 L425.7,51.1 L426.0,42.0 L426.2,35.4 L426.4,29.6 L426.7,25.5 L426.9,24.1 L427.1,25.5 L427.3,29.6 L427.5,35.4 L427.8,42.0 L428.1,51.1 L428.4,59.0 L428.7,66.3 L429.2,73.0 L429.7,78.5 L430.4,83.2 L431.3,86.7 L432.6,89.4 L434.3,91.2 L436.5,92.3 L440.0,93.0 L444.4,93.4 L451.4,93.6 L461.9,93.8 L479.4,93.8 L489.2,93.9" stroke="#3fa860" opacity="0.92"/>
<path d="M381.0,93.9 L390.6,93.9 L406.1,93.8 L415.4,93.7 L421.7,93.5 L425.6,93.1 L428.7,92.5 L430.6,91.5 L432.2,89.9 L433.3,87.5 L434.1,84.4 L434.7,80.2 L435.2,75.3 L435.6,69.3 L435.9,62.9 L436.2,55.8 L436.4,47.8 L436.6,41.9 L436.8,36.8 L437.0,33.1 L437.2,31.8 L437.4,33.1 L437.6,36.8 L437.8,41.9 L438.0,47.8 L438.3,55.8 L438.5,62.9 L438.8,69.3 L439.2,75.3 L439.7,80.2 L440.3,84.4 L441.1,87.5 L442.3,89.9 L443.8,91.5 L445.8,92.5 L448.9,93.1 L452.8,93.5 L459.0,93.7 L468.3,93.8 L483.9,93.9 L489.2,93.9" stroke="#d8e04a" opacity="0.92"/>
<path d="M381.0,93.9 L390.4,93.8 L406.9,93.8 L416.9,93.6 L423.5,93.4 L427.6,93.0 L430.9,92.2 L433.0,91.0 L434.6,89.1 L435.8,86.2 L436.7,82.5 L437.3,77.5 L437.8,71.6 L438.2,64.4 L438.6,56.7 L438.9,48.2 L439.2,38.6 L439.4,31.5 L439.6,25.3 L439.8,21.0 L440.0,19.4 L440.2,21.0 L440.4,25.3 L440.6,31.5 L440.8,38.6 L441.1,48.2 L441.4,56.7 L441.7,64.4 L442.1,71.6 L442.6,77.5 L443.3,82.5 L444.1,86.2 L445.3,89.1 L447.0,91.0 L449.1,92.2 L452.4,93.0 L456.5,93.4 L463.1,93.6 L473.0,93.8 L489.2,93.8" stroke="#f2e83a" opacity="0.92"/>
<path d="M381.0,93.9 L393.8,93.8 L410.4,93.8 L420.3,93.6 L426.9,93.4 L431.0,93.0 L434.3,92.2 L436.4,91.1 L438.0,89.3 L439.3,86.4 L440.1,82.9 L440.8,78.0 L441.3,72.3 L441.7,65.3 L442.0,57.8 L442.3,49.6 L442.6,40.3 L442.8,33.5 L443.0,27.5 L443.2,23.3 L443.4,21.7 L443.6,23.3 L443.8,27.5 L444.0,33.5 L444.2,40.3 L444.5,49.6 L444.8,57.8 L445.1,65.3 L445.6,72.3 L446.1,78.0 L446.7,82.9 L447.5,86.4 L448.8,89.3 L450.4,91.1 L452.5,92.2 L455.8,93.0 L459.9,93.4 L466.5,93.6 L476.4,93.8 L489.2,93.8" stroke="#f4ea4a" opacity="0.92"/>
<path d="M381.0,93.9 L393.7,93.9 L414.2,93.8 L426.4,93.7 L434.6,93.5 L439.7,93.1 L443.7,92.5 L446.3,91.5 L448.3,89.9 L449.9,87.5 L450.9,84.4 L451.7,80.2 L452.3,75.3 L452.8,69.3 L453.2,62.9 L453.6,55.8 L454.0,47.8 L454.2,41.9 L454.5,36.8 L454.7,33.1 L455.0,31.8 L455.2,33.1 L455.5,36.8 L455.7,41.9 L456.0,47.8 L456.3,55.8 L456.7,62.9 L457.1,69.3 L457.6,75.3 L458.2,80.2 L459.1,84.4 L460.1,87.5 L461.6,89.9 L463.6,91.5 L466.2,92.5 L470.3,93.1 L475.4,93.5 L483.5,93.7 L489.2,93.7" stroke="#f6c830" opacity="0.92"/>
<path d="M381.0,93.9 L399.7,93.8 L420.1,93.8 L432.4,93.6 L440.6,93.4 L445.7,92.9 L449.7,92.1 L452.3,91.0 L454.3,89.1 L455.9,86.1 L456.9,82.4 L457.7,77.3 L458.3,71.4 L458.8,64.1 L459.2,56.3 L459.6,47.7 L459.9,38.0 L460.2,30.9 L460.4,24.6 L460.7,20.2 L461.0,18.6 L461.2,20.2 L461.5,24.6 L461.7,30.9 L462.0,38.0 L462.3,47.7 L462.7,56.3 L463.1,64.1 L463.6,71.4 L464.2,77.3 L465.0,82.4 L466.1,86.1 L467.6,89.1 L469.6,91.0 L472.2,92.1 L476.3,92.9 L481.4,93.4 L489.2,93.6" stroke="#e2463a" opacity="0.92"/>
<path d="M381.0,93.9 L409.8,93.8 L432.2,93.8 L445.6,93.6 L454.5,93.4 L460.1,93.0 L464.6,92.2 L467.4,91.1 L469.6,89.3 L471.3,86.4 L472.4,82.9 L473.3,78.0 L474.0,72.3 L474.5,65.3 L475.0,57.8 L475.4,49.6 L475.7,40.3 L476.0,33.5 L476.3,27.5 L476.6,23.3 L476.9,21.7 L477.1,23.3 L477.4,27.5 L477.7,33.5 L478.0,40.3 L478.4,49.6 L478.8,57.8 L479.2,65.3 L479.8,72.3 L480.4,78.0 L481.3,82.9 L482.4,86.4 L484.1,89.3 L486.4,91.1 L489.2,92.2 L489.2,92.2" stroke="#c0303a" opacity="0.92"/>
<path d="M447.9,93.9 L452.6,93.8 L456.2,93.8 L459.1,93.7 L461.3,93.6 L462.8,93.5 L463.9,93.3 L464.8,93.1 L465.5,92.8 L466.1,92.5 L466.6,92.2 L467.1,91.9 L467.5,91.6 L467.9,91.4 L468.2,91.2 L468.6,91.2 L469.0,91.2 L469.3,91.4 L469.7,91.6 L470.1,91.9 L470.6,92.2 L471.1,92.5 L471.7,92.8 L472.4,93.1 L473.3,93.3 L474.4,93.5 L475.9,93.6 L478.1,93.7 L481.0,93.8 L484.6,93.8 L489.2,93.9" stroke="#f0a030"/>
</g>
<path d="M381 16.3 H489.2 V93.9 H381 Z" stroke="#222" stroke-width="1.1" fill="none"/>
<path d="M378.8 93.9 H381" stroke="#222" stroke-width="1.1" fill="none"/>
<path d="M378.8 55.1 H381" stroke="#222" stroke-width="1.1" fill="none"/>
<path d="M378.8 16.3 H381" stroke="#222" stroke-width="1.1" fill="none"/>
<path d="M386.0 93.9 V96.10000000000001" stroke="#222" stroke-width="1.1" fill="none"/>
<path d="M406.6 93.9 V96.10000000000001" stroke="#222" stroke-width="1.1" fill="none"/>
<path d="M427.3 93.9 V96.10000000000001" stroke="#222" stroke-width="1.1" fill="none"/>
<path d="M447.9 93.9 V96.10000000000001" stroke="#222" stroke-width="1.1" fill="none"/>
<path d="M468.6 93.9 V96.10000000000001" stroke="#222" stroke-width="1.1" fill="none"/>
<path d="M489.2 93.9 V96.10000000000001" stroke="#222" stroke-width="1.1" fill="none"/>
<text x="377.8" y="96.1" text-anchor="end" font-size="6.2" textLength="8.2" lengthAdjust="spacingAndGlyphs" font-family="Liberation Sans, sans-serif" fill="#333">0.0</text>
<text x="377.8" y="57.3" text-anchor="end" font-size="6.2" textLength="8.2" lengthAdjust="spacingAndGlyphs" font-family="Liberation Sans, sans-serif" fill="#333">0.5</text>
<text x="377.8" y="18.5" text-anchor="end" font-size="6.2" textLength="8.2" lengthAdjust="spacingAndGlyphs" font-family="Liberation Sans, sans-serif" fill="#333">1.0</text>
<text x="386.0" y="109.4" text-anchor="middle" font-size="6.4" textLength="9" lengthAdjust="spacingAndGlyphs" font-family="Liberation Sans, sans-serif" fill="#333">750</text>
<text x="406.6" y="109.4" text-anchor="middle" font-size="6.4" textLength="9" lengthAdjust="spacingAndGlyphs" font-family="Liberation Sans, sans-serif" fill="#333">800</text>
<text x="427.3" y="109.4" text-anchor="middle" font-size="6.4" textLength="9" lengthAdjust="spacingAndGlyphs" font-family="Liberation Sans, sans-serif" fill="#333">850</text>
<text x="447.9" y="109.4" text-anchor="middle" font-size="6.4" textLength="9" lengthAdjust="spacingAndGlyphs" font-family="Liberation Sans, sans-serif" fill="#333">900</text>
<text x="468.6" y="109.4" text-anchor="middle" font-size="6.4" textLength="9" lengthAdjust="spacingAndGlyphs" font-family="Liberation Sans, sans-serif" fill="#333">950</text>
<text x="489.2" y="109.4" text-anchor="middle" font-size="6.4" textLength="12" lengthAdjust="spacingAndGlyphs" font-family="Liberation Sans, sans-serif" fill="#333">1000</text>
<text x="438" y="124.4" text-anchor="middle" font-size="6.8" textLength="40" lengthAdjust="spacingAndGlyphs" font-family="Liberation Sans, sans-serif" fill="#333">Wavelength (nm)</text>
<text transform="translate(366.6 55.4) rotate(-90)" text-anchor="middle" font-size="7.2" textLength="51" lengthAdjust="spacingAndGlyphs" font-family="Liberation Sans, sans-serif" fill="#333">Transmittance</text>
<text x="364.8" y="16.4" font-size="9.7" font-family="Liberation Sans, sans-serif" fill="#222">(c)</text>
</g>
<g id="pd">
<clipPath id="dclip"><rect x="8" y="144.8" width="135.1" height="161.4"/></clipPath>
<rect x="8" y="144.8" width="135.1" height="161.4" fill="#000"/>
<g clip-path="url(#dclip)">
<g filter="url(#blur1)">
<rect x="41.8" y="158.5" width="25.2" height="62" fill="url(#dyel)"/>
<rect x="78.5" y="158.5" width="23" height="62" fill="url(#dgrn)"/>
<polygon points="37.4,166.5 33,220 47.5,220 43.6,170" fill="#e2480e"/>
<polygon points="106.4,166.5 102.8,220 114,220 108.5,178" fill="#1234d8"/>
<rect x="62.5" y="180.5" width="22" height="40" fill="#d40f10"/>
<rect x="47" y="181" width="15" height="40" fill="#c4bc1c"/>
<rect x="84.5" y="181" width="17" height="40" fill="#1fae1c"/>
</g>
<rect x="30" y="150" width="90" height="22" fill="url(#dfade)"/>
<path d="M33.5 212 L34.6 292 A40.2 12.3 0 0 0 115 292 L113.8 212 Z" fill="url(#drain)" filter="url(#blur05)"/>
<path d="M33.5 212 L34.6 292 A40.2 12.3 0 0 0 115 292 L113.8 212 Z" fill="url(#dshade)"/>
<ellipse cx="73" cy="170.5" rx="48.5" ry="18.5" fill="none" stroke="#c4c4c4" stroke-width="0.75" opacity="0.85"/>
<circle cx="121.5" cy="170.5" r="1.2" fill="#e6e6e6" opacity="0.9"/>
<circle cx="119.8" cy="175.3" r="0.6" fill="#e6e6e6" opacity="0.9"/>
<circle cx="115.0" cy="179.8" r="0.85" fill="#e6e6e6" opacity="0.9"/>
<circle cx="107.3" cy="183.6" r="0.6" fill="#e6e6e6" opacity="0.9"/>
<circle cx="97.2" cy="186.5" r="0.85" fill="#e6e6e6" opacity="0.9"/>
<circle cx="85.6" cy="188.4" r="0.6" fill="#e6e6e6" opacity="0.9"/>
<circle cx="73.0" cy="189.0" r="1.2" fill="#e6e6e6" opacity="0.9"/>
<circle cx="60.4" cy="188.4" r="0.6" fill="#e6e6e6" opacity="0.9"/>
<circle cx="48.8" cy="186.5" r="0.85" fill="#e6e6e6" opacity="0.9"/>
<circle cx="38.7" cy="183.6" r="0.6" fill="#e6e6e6" opacity="0.9"/>
<circle cx="31.0" cy="179.8" r="0.85" fill="#e6e6e6" opacity="0.9"/>
<circle cx="26.2" cy="175.3" r="0.6" fill="#e6e6e6" opacity="0.9"/>
<circle cx="24.5" cy="170.5" r="1.2" fill="#e6e6e6" opacity="0.9"/>
<circle cx="26.2" cy="165.7" r="0.6" fill="#e6e6e6" opacity="0.9"/>
<circle cx="31.0" cy="161.2" r="0.85" fill="#e6e6e6" opacity="0.9"/>
<circle cx="38.7" cy="157.4" r="0.6" fill="#e6e6e6" opacity="0.9"/>
<circle cx="48.7" cy="154.5" r="0.85" fill="#e6e6e6" opacity="0.9"/>
<circle cx="60.4" cy="152.6" r="0.6" fill="#e6e6e6" opacity="0.9"/>
<circle cx="73.0" cy="152.0" r="1.2" fill="#e6e6e6" opacity="0.9"/>
<circle cx="85.6" cy="152.6" r="0.6" fill="#e6e6e6" opacity="0.9"/>
<circle cx="97.2" cy="154.5" r="0.85" fill="#e6e6e6" opacity="0.9"/>
<circle cx="107.3" cy="157.4" r="0.6" fill="#e6e6e6" opacity="0.9"/>
<circle cx="115.0" cy="161.2" r="0.85" fill="#e6e6e6" opacity="0.9"/>
<circle cx="119.8" cy="165.7" r="0.6" fill="#e6e6e6" opacity="0.9"/>
<text x="127" y="171.4" text-anchor="middle" font-family="Liberation Sans, sans-serif" font-size="3" fill="#9a9a9a">0.00</text>
<text x="118" y="159.5" text-anchor="middle" font-family="Liberation Sans, sans-serif" font-size="3" fill="#9a9a9a">0.10</text>
<text x="99" y="151.8" text-anchor="middle" font-family="Liberation Sans, sans-serif" font-size="3" fill="#9a9a9a">0.20</text>
<text x="73" y="149.6" text-anchor="middle" font-family="Liberation Sans, sans-serif" font-size="3" fill="#9a9a9a">0.30</text>
<text x="46" y="152.4" text-anchor="middle" font-family="Liberation Sans, sans-serif" font-size="3" fill="#9a9a9a">0.40</text>
<text x="28" y="160.8" text-anchor="middle" font-family="Liberation Sans, sans-serif" font-size="3" fill="#9a9a9a">0.50</text>
<text x="19" y="171.6" text-anchor="middle" font-family="Liberation Sans, sans-serif" font-size="3" fill="#9a9a9a">0.60</text>
<polygon points="12.7,216.7 49.1,265.8 141.9,237.4 141.9,239.6 49.1,268.2 12.7,218.89999999999998" fill="#a9cdea" opacity="0.92"/>
<clipPath id="plclip"><polygon points="12.7,216.7 87.6,199.6 141.9,237.4 49.1,265.8"/></clipPath>
<polygon points="12.7,216.7 87.6,199.6 141.9,237.4 49.1,265.8" fill="#5e9ade" opacity="0.95"/>
<g clip-path="url(#plclip)">
<ellipse cx="75" cy="231" rx="43" ry="25" fill="url(#dpink)" filter="url(#blur1)"/>
<path d="M30 240 Q38 258 56 266" stroke="#cfe0f4" stroke-width="1" fill="none" opacity="0.7"/>
</g>
<g transform="translate(19.8 219.1) scale(1 0.62) rotate(-42)"><rect x="-2.6" y="-0.3" width="5.2" height="2.0" rx="0.8" fill="#4a4420" opacity="0.75"/><rect x="-2.6" y="-1.3" width="5.2" height="2.0" rx="0.8" fill="#f0dc1c"/></g>
<g transform="translate(24.5 225.1) scale(1 0.62) rotate(65)"><rect x="-2.4" y="-0.3" width="4.7" height="2.0" rx="0.8" fill="#4a4420" opacity="0.75"/><rect x="-2.4" y="-1.3" width="4.7" height="2.0" rx="0.8" fill="#f0dc1c"/></g>
<g transform="translate(30.3 232.6) scale(1 0.62) rotate(69)"><rect x="-2.8" y="-0.3" width="5.6" height="2.0" rx="0.8" fill="#4a4420" opacity="0.75"/><rect x="-2.8" y="-1.3" width="5.6" height="2.0" rx="0.8" fill="#f0dc1c"/></g>
<g transform="translate(35.6 239.4) scale(1 0.62) rotate(7)"><rect x="-2.6" y="-0.3" width="5.3" height="2.0" rx="0.8" fill="#4a4420" opacity="0.75"/><rect x="-2.6" y="-1.3" width="5.3" height="2.0" rx="0.8" fill="#f0dc1c"/></g>
<g transform="translate(42.6 248.5) scale(1 0.62) rotate(-34)"><rect x="-2.4" y="-0.3" width="4.8" height="2.0" rx="0.8" fill="#4a4420" opacity="0.75"/><rect x="-2.4" y="-1.3" width="4.8" height="2.0" rx="0.8" fill="#f0dc1c"/></g>
<g transform="translate(47.0 254.2) scale(1 0.62) rotate(-3)"><rect x="-2.8" y="-0.3" width="5.6" height="2.0" rx="0.8" fill="#4a4420" opacity="0.75"/><rect x="-2.8" y="-1.3" width="5.6" height="2.0" rx="0.8" fill="#f0dc1c"/></g>
<g transform="translate(52.0 260.7) scale(1 0.62) rotate(8)"><rect x="-2.6" y="-0.3" width="5.3" height="2.0" rx="0.8" fill="#4a4420" opacity="0.75"/><rect x="-2.6" y="-1.3" width="5.3" height="2.0" rx="0.8" fill="#f0dc1c"/></g>
<g transform="translate(27.9 217.2) scale(1 0.62) rotate(10)"><rect x="-2.6" y="-0.3" width="5.2" height="2.0" rx="0.8" fill="#4a4420" opacity="0.75"/><rect x="-2.6" y="-1.3" width="5.2" height="2.0" rx="0.8" fill="#f0dc1c"/></g>
<g transform="translate(36.6 223.5) scale(1 0.62) rotate(-52)"><rect x="-2.4" y="-0.3" width="4.9" height="2.0" rx="0.8" fill="#4a4420" opacity="0.75"/><rect x="-2.4" y="-1.3" width="4.9" height="2.0" rx="0.8" fill="#f0dc1c"/></g>
<g transform="translate(40.6 231.7) scale(1 0.62) rotate(-19)"><rect x="-2.6" y="-0.3" width="5.2" height="2.0" rx="0.8" fill="#4a4420" opacity="0.75"/><rect x="-2.6" y="-1.3" width="5.2" height="2.0" rx="0.8" fill="#f0dc1c"/></g>
<g transform="translate(49.0 237.5) scale(1 0.62) rotate(27)"><rect x="-2.3" y="-0.3" width="4.7" height="2.0" rx="0.8" fill="#4a4420" opacity="0.75"/><rect x="-2.3" y="-1.3" width="4.7" height="2.0" rx="0.8" fill="#f0dc1c"/></g>
<g transform="translate(51.8 243.1) scale(1 0.62) rotate(34)"><rect x="-2.6" y="-0.3" width="5.2" height="2.0" rx="0.8" fill="#4a4420" opacity="0.75"/><rect x="-2.6" y="-1.3" width="5.2" height="2.0" rx="0.8" fill="#f0dc1c"/></g>
<g transform="translate(56.6 251.8) scale(1 0.62) rotate(71)"><rect x="-2.8" y="-0.3" width="5.7" height="2.0" rx="0.8" fill="#4a4420" opacity="0.75"/><rect x="-2.8" y="-1.3" width="5.7" height="2.0" rx="0.8" fill="#f0dc1c"/></g>
<g transform="translate(62.9 257.4) scale(1 0.62) rotate(-0)"><rect x="-2.8" y="-0.3" width="5.6" height="2.0" rx="0.8" fill="#4a4420" opacity="0.75"/><rect x="-2.8" y="-1.3" width="5.6" height="2.0" rx="0.8" fill="#f0dc1c"/></g>
<g transform="translate(37.4 214.9) scale(1 0.62) rotate(25)"><rect x="-2.7" y="-0.3" width="5.4" height="2.0" rx="0.8" fill="#4a4420" opacity="0.75"/><rect x="-2.7" y="-1.3" width="5.4" height="2.0" rx="0.8" fill="#f0dc1c"/></g>
<g transform="translate(44.2 222.4) scale(1 0.62) rotate(8)"><rect x="-2.8" y="-0.3" width="5.6" height="2.0" rx="0.8" fill="#4a4420" opacity="0.75"/><rect x="-2.8" y="-1.3" width="5.6" height="2.0" rx="0.8" fill="#f0dc1c"/></g>
<g transform="translate(50.2 227.9) scale(1 0.62) rotate(32)"><rect x="-2.6" y="-0.3" width="5.2" height="2.0" rx="0.8" fill="#4a4420" opacity="0.75"/><rect x="-2.6" y="-1.3" width="5.2" height="2.0" rx="0.8" fill="#f0dc1c"/></g>
<g transform="translate(55.1 233.8) scale(1 0.62) rotate(-40)"><rect x="-2.5" y="-0.3" width="4.9" height="2.0" rx="0.8" fill="#4a4420" opacity="0.75"/><rect x="-2.5" y="-1.3" width="4.9" height="2.0" rx="0.8" fill="#f0dc1c"/></g>
<g transform="translate(64.2 240.4) scale(1 0.62) rotate(-57)"><rect x="-2.6" y="-0.3" width="5.1" height="2.0" rx="0.8" fill="#4a4420" opacity="0.75"/><rect x="-2.6" y="-1.3" width="5.1" height="2.0" rx="0.8" fill="#f0dc1c"/></g>
<g transform="translate(70.6 248.5) scale(1 0.62) rotate(61)"><rect x="-2.5" y="-0.3" width="4.9" height="2.0" rx="0.8" fill="#4a4420" opacity="0.75"/><rect x="-2.5" y="-1.3" width="4.9" height="2.0" rx="0.8" fill="#f0dc1c"/></g>
<g transform="translate(74.7 253.7) scale(1 0.62) rotate(62)"><rect x="-2.4" y="-0.3" width="4.8" height="2.0" rx="0.8" fill="#4a4420" opacity="0.75"/><rect x="-2.4" y="-1.3" width="4.8" height="2.0" rx="0.8" fill="#f0dc1c"/></g>
<g transform="translate(47.3 212.6) scale(1 0.62) rotate(2)"><rect x="-2.8" y="-0.3" width="5.6" height="2.0" rx="0.8" fill="#4a4420" opacity="0.75"/><rect x="-2.8" y="-1.3" width="5.6" height="2.0" rx="0.8" fill="#f0dc1c"/></g>
<g transform="translate(53.4 218.7) scale(1 0.62) rotate(-11)"><rect x="-2.5" y="-0.3" width="5.0" height="2.0" rx="0.8" fill="#4a4420" opacity="0.75"/><rect x="-2.5" y="-1.3" width="5.0" height="2.0" rx="0.8" fill="#f0dc1c"/></g>
<g transform="translate(63.1 226.4) scale(1 0.62) rotate(77)"><rect x="-2.7" y="-0.3" width="5.4" height="2.0" rx="0.8" fill="#4a4420" opacity="0.75"/><rect x="-2.7" y="-1.3" width="5.4" height="2.0" rx="0.8" fill="#f0dc1c"/></g>
<g transform="translate(68.8 231.2) scale(1 0.62) rotate(68)"><rect x="-2.5" y="-0.3" width="5.1" height="2.0" rx="0.8" fill="#4a4420" opacity="0.75"/><rect x="-2.5" y="-1.3" width="5.1" height="2.0" rx="0.8" fill="#f0dc1c"/></g>
<g transform="translate(72.9 238.8) scale(1 0.62) rotate(-40)"><rect x="-2.9" y="-0.3" width="5.8" height="2.0" rx="0.8" fill="#4a4420" opacity="0.75"/><rect x="-2.9" y="-1.3" width="5.8" height="2.0" rx="0.8" fill="#f0dc1c"/></g>
<g transform="translate(79.2 243.3) scale(1 0.62) rotate(-7)"><rect x="-2.3" y="-0.3" width="4.6" height="2.0" rx="0.8" fill="#4a4420" opacity="0.75"/><rect x="-2.3" y="-1.3" width="4.6" height="2.0" rx="0.8" fill="#f0dc1c"/></g>
<g transform="translate(84.2 250.0) scale(1 0.62) rotate(42)"><rect x="-2.3" y="-0.3" width="4.7" height="2.0" rx="0.8" fill="#4a4420" opacity="0.75"/><rect x="-2.3" y="-1.3" width="4.7" height="2.0" rx="0.8" fill="#f0dc1c"/></g>
<g transform="translate(57.0 210.4) scale(1 0.62) rotate(32)"><rect x="-2.7" y="-0.3" width="5.3" height="2.0" rx="0.8" fill="#4a4420" opacity="0.75"/><rect x="-2.7" y="-1.3" width="5.3" height="2.0" rx="0.8" fill="#f0dc1c"/></g>
<g transform="translate(63.9 215.6) scale(1 0.62) rotate(-42)"><rect x="-2.6" y="-0.3" width="5.2" height="2.0" rx="0.8" fill="#4a4420" opacity="0.75"/><rect x="-2.6" y="-1.3" width="5.2" height="2.0" rx="0.8" fill="#f0dc1c"/></g>
<g transform="translate(70.5 221.6) scale(1 0.62) rotate(-16)"><rect x="-2.7" y="-0.3" width="5.5" height="2.0" rx="0.8" fill="#4a4420" opacity="0.75"/><rect x="-2.7" y="-1.3" width="5.5" height="2.0" rx="0.8" fill="#f0dc1c"/></g>
<g transform="translate(78.8 229.3) scale(1 0.62) rotate(62)"><rect x="-2.9" y="-0.3" width="5.7" height="2.0" rx="0.8" fill="#4a4420" opacity="0.75"/><rect x="-2.9" y="-1.3" width="5.7" height="2.0" rx="0.8" fill="#f0dc1c"/></g>
<g transform="translate(84.2 233.9) scale(1 0.62) rotate(77)"><rect x="-2.8" y="-0.3" width="5.5" height="2.0" rx="0.8" fill="#4a4420" opacity="0.75"/><rect x="-2.8" y="-1.3" width="5.5" height="2.0" rx="0.8" fill="#f0dc1c"/></g>
<g transform="translate(91.2 241.6) scale(1 0.62) rotate(-17)"><rect x="-2.5" y="-0.3" width="4.9" height="2.0" rx="0.8" fill="#4a4420" opacity="0.75"/><rect x="-2.5" y="-1.3" width="4.9" height="2.0" rx="0.8" fill="#f0dc1c"/></g>
<g transform="translate(96.8 246.4) scale(1 0.62) rotate(11)"><rect x="-2.8" y="-0.3" width="5.5" height="2.0" rx="0.8" fill="#4a4420" opacity="0.75"/><rect x="-2.8" y="-1.3" width="5.5" height="2.0" rx="0.8" fill="#f0dc1c"/></g>
<g transform="translate(67.0 208.0) scale(1 0.62) rotate(15)"><rect x="-2.8" y="-0.3" width="5.6" height="2.0" rx="0.8" fill="#4a4420" opacity="0.75"/><rect x="-2.8" y="-1.3" width="5.6" height="2.0" rx="0.8" fill="#f0dc1c"/></g>
<g transform="translate(75.1 213.2) scale(1 0.62) rotate(70)"><rect x="-2.7" y="-0.3" width="5.5" height="2.0" rx="0.8" fill="#4a4420" opacity="0.75"/><rect x="-2.7" y="-1.3" width="5.5" height="2.0" rx="0.8" fill="#f0dc1c"/></g>
<g transform="translate(84.8 220.2) scale(1 0.62) rotate(-54)"><rect x="-2.7" y="-0.3" width="5.4" height="2.0" rx="0.8" fill="#4a4420" opacity="0.75"/><rect x="-2.7" y="-1.3" width="5.4" height="2.0" rx="0.8" fill="#f0dc1c"/></g>
<g transform="translate(90.7 225.3) scale(1 0.62) rotate(47)"><rect x="-2.5" y="-0.3" width="5.0" height="2.0" rx="0.8" fill="#4a4420" opacity="0.75"/><rect x="-2.5" y="-1.3" width="5.0" height="2.0" rx="0.8" fill="#f0dc1c"/></g>
<g transform="translate(93.8 231.5) scale(1 0.62) rotate(7)"><rect x="-2.6" y="-0.3" width="5.2" height="2.0" rx="0.8" fill="#4a4420" opacity="0.75"/><rect x="-2.6" y="-1.3" width="5.2" height="2.0" rx="0.8" fill="#f0dc1c"/></g>
<g transform="translate(105.3 237.4) scale(1 0.62) rotate(-35)"><rect x="-2.7" y="-0.3" width="5.4" height="2.0" rx="0.8" fill="#4a4420" opacity="0.75"/><rect x="-2.7" y="-1.3" width="5.4" height="2.0" rx="0.8" fill="#f0dc1c"/></g>
<g transform="translate(109.9 242.2) scale(1 0.62) rotate(-13)"><rect x="-2.8" y="-0.3" width="5.5" height="2.0" rx="0.8" fill="#4a4420" opacity="0.75"/><rect x="-2.8" y="-1.3" width="5.5" height="2.0" rx="0.8" fill="#f0dc1c"/></g>
<g transform="translate(78.4 205.7) scale(1 0.62) rotate(-11)"><rect x="-2.7" y="-0.3" width="5.4" height="2.0" rx="0.8" fill="#4a4420" opacity="0.75"/><rect x="-2.7" y="-1.3" width="5.4" height="2.0" rx="0.8" fill="#f0dc1c"/></g>
<g transform="translate(84.6 213.1) scale(1 0.62) rotate(54)"><rect x="-2.7" y="-0.3" width="5.5" height="2.0" rx="0.8" fill="#4a4420" opacity="0.75"/><rect x="-2.7" y="-1.3" width="5.5" height="2.0" rx="0.8" fill="#f0dc1c"/></g>
<g transform="translate(89.4 217.0) scale(1 0.62) rotate(-18)"><rect x="-2.7" y="-0.3" width="5.3" height="2.0" rx="0.8" fill="#4a4420" opacity="0.75"/><rect x="-2.7" y="-1.3" width="5.3" height="2.0" rx="0.8" fill="#f0dc1c"/></g>
<g transform="translate(99.7 223.5) scale(1 0.62) rotate(5)"><rect x="-2.9" y="-0.3" width="5.8" height="2.0" rx="0.8" fill="#4a4420" opacity="0.75"/><rect x="-2.9" y="-1.3" width="5.8" height="2.0" rx="0.8" fill="#f0dc1c"/></g>
<g transform="translate(106.9 228.2) scale(1 0.62) rotate(71)"><rect x="-2.3" y="-0.3" width="4.6" height="2.0" rx="0.8" fill="#4a4420" opacity="0.75"/><rect x="-2.3" y="-1.3" width="4.6" height="2.0" rx="0.8" fill="#f0dc1c"/></g>
<g transform="translate(116.0 234.6) scale(1 0.62) rotate(-20)"><rect x="-2.9" y="-0.3" width="5.7" height="2.0" rx="0.8" fill="#4a4420" opacity="0.75"/><rect x="-2.9" y="-1.3" width="5.7" height="2.0" rx="0.8" fill="#f0dc1c"/></g>
<g transform="translate(120.6 240.0) scale(1 0.62) rotate(2)"><rect x="-2.4" y="-0.3" width="4.9" height="2.0" rx="0.8" fill="#4a4420" opacity="0.75"/><rect x="-2.4" y="-1.3" width="4.9" height="2.0" rx="0.8" fill="#f0dc1c"/></g>
<g transform="translate(87.9 204.3) scale(1 0.62) rotate(36)"><rect x="-2.6" y="-0.3" width="5.1" height="2.0" rx="0.8" fill="#4a4420" opacity="0.75"/><rect x="-2.6" y="-1.3" width="5.1" height="2.0" rx="0.8" fill="#f0dc1c"/></g>
<g transform="translate(94.5 210.5) scale(1 0.62) rotate(46)"><rect x="-2.7" y="-0.3" width="5.4" height="2.0" rx="0.8" fill="#4a4420" opacity="0.75"/><rect x="-2.7" y="-1.3" width="5.4" height="2.0" rx="0.8" fill="#f0dc1c"/></g>
<g transform="translate(102.5 214.7) scale(1 0.62) rotate(64)"><rect x="-2.4" y="-0.3" width="4.8" height="2.0" rx="0.8" fill="#4a4420" opacity="0.75"/><rect x="-2.4" y="-1.3" width="4.8" height="2.0" rx="0.8" fill="#f0dc1c"/></g>
<g transform="translate(111.1 221.0) scale(1 0.62) rotate(-8)"><rect x="-2.8" y="-0.3" width="5.5" height="2.0" rx="0.8" fill="#4a4420" opacity="0.75"/><rect x="-2.8" y="-1.3" width="5.5" height="2.0" rx="0.8" fill="#f0dc1c"/></g>
<g transform="translate(114.8 225.3) scale(1 0.62) rotate(4)"><rect x="-2.6" y="-0.3" width="5.3" height="2.0" rx="0.8" fill="#4a4420" opacity="0.75"/><rect x="-2.6" y="-1.3" width="5.3" height="2.0" rx="0.8" fill="#f0dc1c"/></g>
<g transform="translate(124.4 231.5) scale(1 0.62) rotate(70)"><rect x="-2.8" y="-0.3" width="5.5" height="2.0" rx="0.8" fill="#4a4420" opacity="0.75"/><rect x="-2.8" y="-1.3" width="5.5" height="2.0" rx="0.8" fill="#f0dc1c"/></g>
<g transform="translate(131.5 235.6) scale(1 0.62) rotate(6)"><rect x="-2.8" y="-0.3" width="5.5" height="2.0" rx="0.8" fill="#4a4420" opacity="0.75"/><rect x="-2.8" y="-1.3" width="5.5" height="2.0" rx="0.8" fill="#f0dc1c"/></g>
<path d="M19.5 279 V291.5 L27.5 287.2 M19.5 291.5 L23 297.2" stroke="#b0b0b0" stroke-width="0.5" fill="none"/>
<circle cx="19.5" cy="278.6" r="0.9" fill="#e0e0e0"/>
<circle cx="27.8" cy="287" r="0.9" fill="#e0e0e0"/>
<circle cx="23.2" cy="297.5" r="0.9" fill="#e0e0e0"/>
<text x="20.6" y="277.8" font-family="Liberation Sans, sans-serif" fill="#d0d0d0" font-size="2.8">z</text><text x="29" y="286.2" font-family="Liberation Sans, sans-serif" fill="#d0d0d0" font-size="2.8">y</text><text x="24.6" y="299.6" font-family="Liberation Sans, sans-serif" fill="#d0d0d0" font-size="2.8">x</text>
<rect x="120.2" y="292.4" width="4.6" height="3.6" fill="#f5e31a"/>
<rect x="120.2" y="299.4" width="4.6" height="3.6" fill="#8db9e6"/>
<text x="127" y="295.6" font-family="Liberation Sans, sans-serif" fill="#e0e0e0" font-size="3">Au</text>
<text x="127" y="302.6" font-family="Liberation Sans, sans-serif" fill="#e0e0e0" font-size="3">SiO<tspan font-size="2" dy="0.8">2</tspan></text>
</g>
<text x="8.4" y="155.2" font-family="Liberation Serif, serif" font-weight="bold" font-size="10.8" fill="#fff">(d)</text>
</g>
<g id="pe">
<clipPath id="eclip"><rect x="160.6" y="144.8" width="338.9" height="161.4"/></clipPath>
<rect x="160.6" y="144.8" width="338.9" height="161.4" fill="#000"/>
<g clip-path="url(#eclip)">
<text x="162.6" y="155" font-family="Liberation Serif, serif" font-weight="bold" font-size="9.8" fill="#fff">(e)</text>
<text x="180.4" y="158.2" font-size="6.6" font-family="Liberation Sans, sans-serif" fill="#f0f0f0">Multi-wavelength</text>
<circle cx="210.4" cy="225.4" r="31.3" fill="none" stroke="#c8c8c8" stroke-width="0.7"/>
<path d="M240.0 225.4 L243.4 225.4" stroke="#d0d0d0" stroke-width="0.6"/>
<path d="M240.6 229.4 L242.2 229.6" stroke="#d0d0d0" stroke-width="0.6"/>
<path d="M239.9 233.3 L241.4 233.7" stroke="#d0d0d0" stroke-width="0.6"/>
<path d="M238.6 237.1 L240.1 237.7" stroke="#d0d0d0" stroke-width="0.6"/>
<path d="M236.0 240.2 L239.0 241.9" stroke="#d0d0d0" stroke-width="0.6"/>
<path d="M234.6 244.0 L235.9 244.9" stroke="#d0d0d0" stroke-width="0.6"/>
<path d="M232.0 247.0 L233.1 248.1" stroke="#d0d0d0" stroke-width="0.6"/>
<path d="M229.0 249.6 L229.9 250.9" stroke="#d0d0d0" stroke-width="0.6"/>
<path d="M225.2 251.0 L226.9 254.0" stroke="#d0d0d0" stroke-width="0.6"/>
<path d="M222.1 253.6 L222.7 255.1" stroke="#d0d0d0" stroke-width="0.6"/>
<path d="M218.3 254.9 L218.7 256.4" stroke="#d0d0d0" stroke-width="0.6"/>
<path d="M214.4 255.6 L214.6 257.2" stroke="#d0d0d0" stroke-width="0.6"/>
<path d="M210.4 255.0 L210.4 258.4" stroke="#d0d0d0" stroke-width="0.6"/>
<path d="M206.4 255.6 L206.2 257.2" stroke="#d0d0d0" stroke-width="0.6"/>
<path d="M202.5 254.9 L202.1 256.4" stroke="#d0d0d0" stroke-width="0.6"/>
<path d="M198.7 253.6 L198.1 255.1" stroke="#d0d0d0" stroke-width="0.6"/>
<path d="M195.6 251.0 L193.9 254.0" stroke="#d0d0d0" stroke-width="0.6"/>
<path d="M191.8 249.6 L190.9 250.9" stroke="#d0d0d0" stroke-width="0.6"/>
<path d="M188.8 247.0 L187.7 248.1" stroke="#d0d0d0" stroke-width="0.6"/>
<path d="M186.2 244.0 L184.9 244.9" stroke="#d0d0d0" stroke-width="0.6"/>
<path d="M184.8 240.2 L181.8 241.9" stroke="#d0d0d0" stroke-width="0.6"/>
<path d="M182.2 237.1 L180.7 237.7" stroke="#d0d0d0" stroke-width="0.6"/>
<path d="M180.9 233.3 L179.4 233.7" stroke="#d0d0d0" stroke-width="0.6"/>
<path d="M180.2 229.4 L178.6 229.6" stroke="#d0d0d0" stroke-width="0.6"/>
<path d="M180.8 225.4 L177.4 225.4" stroke="#d0d0d0" stroke-width="0.6"/>
<path d="M180.2 221.4 L178.6 221.2" stroke="#d0d0d0" stroke-width="0.6"/>
<path d="M180.9 217.5 L179.4 217.1" stroke="#d0d0d0" stroke-width="0.6"/>
<path d="M182.2 213.7 L180.7 213.1" stroke="#d0d0d0" stroke-width="0.6"/>
<path d="M184.8 210.6 L181.8 208.9" stroke="#d0d0d0" stroke-width="0.6"/>
<path d="M186.2 206.8 L184.9 205.9" stroke="#d0d0d0" stroke-width="0.6"/>
<path d="M188.8 203.8 L187.7 202.7" stroke="#d0d0d0" stroke-width="0.6"/>
<path d="M191.8 201.2 L190.9 199.9" stroke="#d0d0d0" stroke-width="0.6"/>
<path d="M195.6 199.8 L193.9 196.8" stroke="#d0d0d0" stroke-width="0.6"/>
<path d="M198.7 197.2 L198.1 195.7" stroke="#d0d0d0" stroke-width="0.6"/>
<path d="M202.5 195.9 L202.1 194.4" stroke="#d0d0d0" stroke-width="0.6"/>
<path d="M206.4 195.2 L206.2 193.6" stroke="#d0d0d0" stroke-width="0.6"/>
<path d="M210.4 195.8 L210.4 192.4" stroke="#d0d0d0" stroke-width="0.6"/>
<path d="M214.4 195.2 L214.6 193.6" stroke="#d0d0d0" stroke-width="0.6"/>
<path d="M218.3 195.9 L218.7 194.4" stroke="#d0d0d0" stroke-width="0.6"/>
<path d="M222.1 197.2 L222.7 195.7" stroke="#d0d0d0" stroke-width="0.6"/>
<path d="M225.2 199.8 L226.9 196.8" stroke="#d0d0d0" stroke-width="0.6"/>
<path d="M229.0 201.2 L229.9 199.9" stroke="#d0d0d0" stroke-width="0.6"/>
<path d="M232.0 203.8 L233.1 202.7" stroke="#d0d0d0" stroke-width="0.6"/>
<path d="M234.6 206.8 L235.9 205.9" stroke="#d0d0d0" stroke-width="0.6"/>
<path d="M236.0 210.6 L239.0 208.9" stroke="#d0d0d0" stroke-width="0.6"/>
<path d="M238.6 213.7 L240.1 213.1" stroke="#d0d0d0" stroke-width="0.6"/>
<path d="M239.9 217.5 L241.4 217.1" stroke="#d0d0d0" stroke-width="0.6"/>
<path d="M240.6 221.4 L242.2 221.2" stroke="#d0d0d0" stroke-width="0.6"/>
<text x="209.9" y="203.2" text-anchor="middle" font-size="6" font-family="Liberation Sans, sans-serif" fill="#f0f0f0">545</text>
<text x="221.9" y="206.5" text-anchor="middle" font-size="6" font-family="Liberation Sans, sans-serif" fill="#f0f0f0">530</text>
<text x="230.7" y="215.6" text-anchor="middle" font-size="6" font-family="Liberation Sans, sans-serif" fill="#f0f0f0">515</text>
<text x="233.9" y="228.0" text-anchor="middle" font-size="6" font-family="Liberation Sans, sans-serif" fill="#f0f0f0">500</text>
<text x="230.7" y="240.4" text-anchor="middle" font-size="6" font-family="Liberation Sans, sans-serif" fill="#f0f0f0">665</text>
<text x="221.9" y="249.5" text-anchor="middle" font-size="6" font-family="Liberation Sans, sans-serif" fill="#f0f0f0">650</text>
<text x="209.9" y="252.8" text-anchor="middle" font-size="6" font-family="Liberation Sans, sans-serif" fill="#f0f0f0">635</text>
<text x="197.9" y="249.5" text-anchor="middle" font-size="6" font-family="Liberation Sans, sans-serif" fill="#f0f0f0">620</text>
<text x="189.1" y="240.4" text-anchor="middle" font-size="6" font-family="Liberation Sans, sans-serif" fill="#f0f0f0">605</text>
<text x="185.9" y="228.0" text-anchor="middle" font-size="6" font-family="Liberation Sans, sans-serif" fill="#f0f0f0">590</text>
<text x="189.1" y="215.6" text-anchor="middle" font-size="6" font-family="Liberation Sans, sans-serif" fill="#f0f0f0">575</text>
<text x="197.9" y="206.5" text-anchor="middle" font-size="6" font-family="Liberation Sans, sans-serif" fill="#f0f0f0">560</text>
<g filter="url(#blur05)">
<path d="M228.3 185.2 A44 44 0 0 1 238.7 191.7" stroke="#2fb02f" stroke-width="1.2" fill="none" opacity="0.45" stroke-linecap="round"/>
<path d="M249.9 206.1 A44 44 0 0 1 253.7 217.8" stroke="#2040d0" stroke-width="1.2" fill="none" opacity="0.45" stroke-linecap="round"/>
<path d="M240.3 261.0 A46.5 46.5 0 0 1 224.0 269.9" stroke="#d01818" stroke-width="1.5" fill="none" opacity="0.6" stroke-linecap="round"/>
<path d="M171.6 246.1 A44 44 0 0 1 166.5 228.5" stroke="#d07a18" stroke-width="1.2" fill="none" opacity="0.35" stroke-linecap="round"/>
<path d="M169.1 210.4 A44 44 0 0 1 176.7 197.1" stroke="#a8b020" stroke-width="1.2" fill="none" opacity="0.4" stroke-linecap="round"/>
<path d="M251.2 241.9 A44 44 0 0 1 245.1 252.5" stroke="#802020" stroke-width="1.2" fill="none" opacity="0.25" stroke-linecap="round"/>
</g>
<text x="210.4" y="291" text-anchor="middle" font-size="6.4" font-family="Liberation Sans, sans-serif" fill="#f0f0f0">λ = 510,532,570, 600,</text>
<text x="210.4" y="298.6" text-anchor="middle" font-size="6.4" font-family="Liberation Sans, sans-serif" fill="#f0f0f0">&amp; 650nm</text>
<text transform="translate(272.2 223.8) rotate(-90)" text-anchor="middle" font-size="6.9" font-family="Liberation Sans, sans-serif" fill="#f0f0f0">Normalized Intensity</text>
<text x="287.4" y="172.2" text-anchor="end" font-size="6.4" font-family="Liberation Sans, sans-serif" fill="#f0f0f0">1</text>
<text x="287.4" y="227.4" text-anchor="end" font-size="6.4" font-family="Liberation Sans, sans-serif" fill="#f0f0f0">0.5</text>
<text x="287.2" y="281" text-anchor="end" font-size="6.4" font-family="Liberation Sans, sans-serif" fill="#f0f0f0">0</text>
<text x="293.4" y="287.9" text-anchor="middle" font-size="6.5" font-family="Liberation Sans, sans-serif" fill="#f0f0f0">500</text>
<text x="325.4" y="287.9" text-anchor="middle" font-size="6.5" font-family="Liberation Sans, sans-serif" fill="#f0f0f0">530</text>
<text x="357.5" y="287.9" text-anchor="middle" font-size="6.5" font-family="Liberation Sans, sans-serif" fill="#f0f0f0">560</text>
<text x="389.5" y="287.9" text-anchor="middle" font-size="6.5" font-family="Liberation Sans, sans-serif" fill="#f0f0f0">590</text>
<text x="421.6" y="287.9" text-anchor="middle" font-size="6.5" font-family="Liberation Sans, sans-serif" fill="#f0f0f0">620</text>
<text x="453.6" y="287.9" text-anchor="middle" font-size="6.5" font-family="Liberation Sans, sans-serif" fill="#f0f0f0">650</text>
<text x="485.6" y="287.9" text-anchor="middle" font-size="6.5" font-family="Liberation Sans, sans-serif" fill="#f0f0f0">680</text>
<text x="386" y="300" text-anchor="middle" font-size="6.3" font-family="Liberation Sans, sans-serif" fill="#f0f0f0">Wavelength (nm)</text>
<text x="379" y="157.2" text-anchor="middle" font-size="6.3" font-family="Liberation Sans, sans-serif" fill="#f0f0f0">Spectrometer</text>
<path d="M461.5 169.0 H474" stroke="#1c1c66" stroke-width="0.9"/>
<text x="478.6" y="171.39999999999998" font-size="6.7" font-family="Liberation Sans, sans-serif" fill="#f0f0f0">510nm</text>
<path d="M461.5 179.4 H474" stroke="#17601c" stroke-width="0.9"/>
<text x="478.6" y="181.79999999999998" font-size="6.7" font-family="Liberation Sans, sans-serif" fill="#f0f0f0">532nm</text>
<path d="M461.5 190.0 H474" stroke="#6a6418" stroke-width="0.9"/>
<text x="478.6" y="192.39999999999998" font-size="6.7" font-family="Liberation Sans, sans-serif" fill="#f0f0f0">570nm</text>
<path d="M461.5 200.60000000000002 H474" stroke="#6e3a14" stroke-width="0.9"/>
<text x="478.6" y="203.0" font-size="6.7" font-family="Liberation Sans, sans-serif" fill="#f0f0f0">600nm</text>
<path d="M461.5 211.0 H474" stroke="#701c12" stroke-width="0.9"/>
<text x="478.6" y="213.39999999999998" font-size="6.7" font-family="Liberation Sans, sans-serif" fill="#f0f0f0">650nm</text>
<g filter="url(#blur05)">
<polygon points="286.5,276.2 286.5,276.2 286.8,276.2 287.1,276.2 287.4,276.2 287.7,275.6 288.0,275.7 288.3,274.1 288.6,274.7 288.9,271.8 289.2,272.6 289.5,271.2 289.8,272.9 290.1,269.7 290.4,270.8 290.7,266.0 291.0,270.4 291.3,262.8 291.6,264.3 291.9,262.4 292.2,265.6 292.5,263.3 292.8,269.0 293.1,259.4 293.4,266.6 293.7,259.9 294.0,265.9 294.3,259.6 294.6,264.4 294.9,254.7 295.2,258.0 295.5,252.2 295.8,257.7 296.1,250.6 296.4,256.2 296.7,249.3 297.0,258.8 297.3,238.9 297.6,242.7 297.9,233.3 298.2,242.0 298.5,234.8 298.8,250.1 299.1,229.1 299.4,249.2 299.7,212.6 300.0,232.3 300.3,203.3 300.6,226.3 300.9,192.9 301.2,205.6 301.5,213.4 301.8,237.0 302.1,178.9 302.4,206.7 302.7,170.2 303.0,181.6 303.3,197.0 303.6,230.6 303.9,196.7 304.2,210.8 304.5,213.1 304.8,239.5 305.1,217.6 305.4,224.2 305.7,214.7 306.0,239.8 306.3,231.6 306.6,250.1 306.9,240.6 307.2,246.7 307.5,244.4 307.8,252.5 308.1,247.2 308.4,258.3 308.7,247.0 309.0,258.8 309.3,249.7 309.6,260.6 309.9,250.9 310.2,260.4 310.5,254.9 310.8,257.3 311.1,254.2 311.4,261.7 311.7,255.6 312.0,263.4 312.3,260.7 312.6,263.0 312.9,261.0 313.2,267.3 313.5,261.2 313.8,266.9 314.1,266.4 314.4,268.1 314.7,267.8 315.0,270.7 315.3,270.1 315.6,272.7 315.9,270.6 316.2,272.6 316.5,272.4 316.8,273.6 317.1,274.3 317.4,274.5 317.7,276.1 318.0,276.1 318.3,276.1 318.6,276.1 318.7,276.2" fill="#2634cc" opacity="1.0"/>
<polygon points="286.5,276.2 286.5,276.2 287.0,276.2 287.5,276.2 288.0,276.2 288.5,275.1 289.0,275.3 289.5,270.5 290.0,272.6 290.5,267.5 291.0,268.7 291.5,267.8 292.0,270.4 292.5,271.5 293.0,273.5 293.5,258.7 294.0,265.1 294.5,259.9 295.0,265.8 295.5,255.4 296.0,260.4 296.5,263.8 297.0,268.6 297.5,249.5 298.0,260.9 298.5,257.7 299.0,262.4 299.5,226.3 300.0,238.0 300.5,245.9 301.0,249.8 301.5,245.5 302.0,259.1 302.5,236.7 303.0,248.3 303.5,253.4 304.0,262.2 304.5,240.0 305.0,249.0 305.5,256.4 306.0,262.8 306.5,232.4 307.0,237.1 307.5,249.2 308.0,254.8 308.5,257.2 309.0,264.8 309.5,269.7 310.0,272.6 310.5,254.2 311.0,258.7 311.5,258.0 312.0,266.0 312.5,264.8 313.0,268.0 313.5,266.1 314.0,269.5 314.5,266.5 315.0,270.6 315.5,271.8 316.0,272.6 316.5,272.8 317.0,273.4 317.5,275.6 318.0,275.7 318.5,276.1 319.0,276.2 318.7,276.2" fill="#141c88" opacity="0.5"/>
<polygon points="286.5,276.2 286.5,276.2 287.1,276.2 287.8,275.5 288.4,275.7 289.1,272.7 289.7,273.2 290.4,271.1 291.0,272.3 291.7,270.6 292.3,271.9 293.0,266.2 293.6,270.4 294.3,263.4 294.9,264.7 295.6,256.8 296.2,260.6 296.9,263.5 297.5,265.9 298.2,251.7 298.8,258.9 299.5,233.0 300.1,251.2 300.8,226.3 301.4,248.2 302.1,225.0 302.7,239.4 303.4,248.3 304.0,254.0 304.7,240.4 305.3,248.8 306.0,232.1 306.6,248.0 307.3,269.0 307.9,271.5 308.6,258.2 309.2,265.0 309.9,268.4 310.5,269.4 311.2,263.6 311.8,267.3 312.5,263.5 313.1,267.8 313.8,268.5 314.4,271.5 315.1,272.4 315.7,273.0 316.4,272.9 317.0,273.4 317.7,276.1 318.3,276.2 318.7,276.2" fill="#5a68e6" opacity="0.4"/>
<polygon points="301.7,206.2 302.6,169.2 303.5,206.2" fill="#2634cc"/>
<polygon points="307.6,276.2 307.6,276.2 307.9,276.2 308.2,276.2 308.5,276.2 308.8,275.6 309.1,275.7 309.4,273.8 309.7,274.6 310.0,273.0 310.3,273.9 310.6,271.4 310.9,273.2 311.2,269.7 311.5,271.2 311.8,267.9 312.1,270.7 312.4,265.0 312.7,266.2 313.0,265.0 313.3,269.7 313.6,265.5 313.9,267.1 314.2,264.2 314.5,266.6 314.8,259.6 315.1,265.3 315.4,256.6 315.7,265.3 316.0,259.6 316.3,264.4 316.6,259.2 316.9,261.9 317.2,256.1 317.5,264.1 317.8,256.4 318.1,261.0 318.4,251.2 318.7,257.0 319.0,247.6 319.3,252.4 319.6,241.6 319.9,248.9 320.2,245.0 320.5,253.9 320.8,240.2 321.1,256.3 321.4,229.9 321.7,239.2 322.0,230.1 322.3,246.4 322.6,221.3 322.9,232.6 323.2,211.6 323.5,226.8 323.8,199.5 324.1,223.5 324.4,192.1 324.7,203.3 325.0,207.6 325.3,216.1 325.6,172.4 325.9,192.9 326.2,172.9 326.5,214.7 326.8,196.6 327.1,215.0 327.4,189.2 327.7,216.9 328.0,204.9 328.3,215.0 328.6,205.3 328.9,213.8 329.2,219.1 329.5,231.8 329.8,229.9 330.1,239.0 330.4,224.2 330.7,235.9 331.0,232.2 331.3,248.7 331.6,236.1 331.9,240.3 332.2,241.8 332.5,250.9 332.8,242.0 333.1,253.6 333.4,246.9 333.7,251.3 334.0,253.8 334.3,263.2 334.6,254.4 334.9,260.0 335.2,253.4 335.5,259.8 335.8,260.5 336.1,263.1 336.4,261.5 336.7,264.0 337.0,262.2 337.3,266.8 337.6,260.2 337.9,266.6 338.2,265.0 338.5,268.0 338.8,263.9 339.1,265.8 339.4,265.7 339.7,267.0 340.0,268.0 340.3,269.0 340.6,270.6 340.9,272.7 341.2,271.1 341.5,272.8 341.8,272.4 342.1,273.2 342.4,274.2 342.7,274.5 343.0,275.7 343.3,275.9 343.6,275.9 343.9,275.9 344.2,276.2" fill="#22b822" opacity="1.0"/>
<polygon points="307.6,276.2 307.6,276.2 308.1,276.2 308.6,276.2 309.1,276.2 309.6,274.5 310.1,274.9 310.6,274.2 311.1,274.7 311.6,271.3 312.1,272.5 312.6,273.5 313.1,273.8 313.6,267.9 314.1,270.5 314.6,262.8 315.1,266.2 315.6,264.9 316.1,267.3 316.6,270.2 317.1,271.8 317.6,263.1 318.1,264.6 318.6,251.4 319.1,260.2 319.6,258.4 320.1,265.6 320.6,253.8 321.1,257.5 321.6,230.7 322.1,243.6 322.6,248.0 323.1,258.8 323.6,227.5 324.1,233.7 324.6,250.0 325.1,254.6 325.6,253.9 326.1,262.4 326.6,241.9 327.1,249.1 327.6,240.5 328.1,252.1 328.6,230.5 329.1,249.4 329.6,232.7 330.1,250.4 330.6,248.1 331.1,258.2 331.6,262.6 332.1,266.2 332.6,260.4 333.1,265.4 333.6,262.3 334.1,266.0 334.6,268.1 335.1,271.2 335.6,261.9 336.1,265.2 336.6,265.1 337.1,266.8 337.6,265.9 338.1,267.5 338.6,271.2 339.1,272.2 339.6,268.2 340.1,269.3 340.6,273.0 341.1,274.1 341.6,272.3 342.1,273.8 342.6,274.7 343.1,274.9 343.6,276.1 344.1,276.1 344.2,276.2" fill="#0f7a14" opacity="0.5"/>
<polygon points="307.6,276.2 307.6,276.2 308.3,276.2 308.9,276.0 309.6,276.0 310.2,274.2 310.9,274.6 311.5,274.2 312.2,274.8 312.8,268.9 313.5,272.1 314.1,271.6 314.8,272.6 315.4,261.5 316.1,263.2 316.7,270.7 317.4,272.2 318.0,258.6 318.7,263.4 319.3,257.6 320.0,264.7 320.6,267.3 321.3,270.9 321.9,265.6 322.6,268.3 323.2,241.2 323.9,250.0 324.5,254.5 325.2,262.9 325.8,247.3 326.5,251.8 327.1,207.0 327.8,215.7 328.4,260.0 329.1,266.9 329.7,230.6 330.4,243.8 331.0,246.8 331.7,256.6 332.3,261.7 333.0,265.6 333.6,264.1 334.3,267.0 334.9,272.2 335.6,273.0 336.2,262.1 336.9,267.5 337.5,268.8 338.2,270.2 338.8,270.9 339.5,272.9 340.1,273.8 340.8,274.5 341.4,275.3 342.1,275.5 342.7,275.3 343.4,275.5 344.0,276.0 344.7,276.1 344.2,276.2" fill="#7ede3a" opacity="0.4"/>
<polygon points="324.9,206.2 325.9,169.2 326.9,206.2" fill="#22b822"/>
<polygon points="348.7,276.2 348.7,276.2 349.0,276.2 349.3,276.1 349.6,276.1 349.9,275.6 350.2,275.8 350.5,273.9 350.8,274.3 351.1,272.3 351.4,272.9 351.7,271.3 352.0,272.0 352.3,268.7 352.6,270.2 352.9,267.3 353.2,268.9 353.5,267.0 353.8,268.8 354.1,266.9 354.4,270.0 354.7,263.7 355.0,269.3 355.3,262.9 355.6,265.9 355.9,259.8 356.2,265.9 356.5,256.1 356.8,260.5 357.1,258.7 357.4,262.5 357.7,255.5 358.0,260.9 358.3,255.4 358.6,257.5 358.9,251.7 359.2,256.7 359.5,249.0 359.8,251.9 360.1,254.7 360.4,259.8 360.7,245.9 361.0,256.8 361.3,245.6 361.6,258.8 361.9,243.1 362.2,253.6 362.5,239.7 362.8,252.9 363.1,220.0 363.4,234.5 363.7,221.8 364.0,227.9 364.3,214.8 364.6,221.1 364.9,207.3 365.2,218.8 365.5,216.6 365.8,231.0 366.1,192.0 366.4,228.6 366.7,180.5 367.0,218.2 367.3,171.6 367.6,201.4 367.9,200.7 368.2,221.6 368.5,192.0 368.8,228.2 369.1,188.3 369.4,214.9 369.7,206.0 370.0,222.9 370.3,215.5 370.6,236.8 370.9,214.4 371.2,230.1 371.5,227.8 371.8,237.4 372.1,232.7 372.4,252.1 372.7,238.7 373.0,255.0 373.3,245.0 373.6,250.8 373.9,247.1 374.2,251.1 374.5,246.3 374.8,259.2 375.1,245.6 375.4,249.2 375.7,255.8 376.0,258.5 376.3,254.0 376.6,260.3 376.9,251.1 377.2,260.2 377.5,256.3 377.8,258.7 378.1,256.4 378.4,262.1 378.7,256.4 379.0,259.7 379.3,260.4 379.6,266.9 379.9,261.8 380.2,266.0 380.5,265.4 380.8,270.0 381.1,265.4 381.4,269.8 381.7,267.2 382.0,269.2 382.3,268.7 382.6,271.4 382.9,269.9 383.2,271.8 383.5,271.1 383.8,272.4 384.1,272.5 384.4,272.9 384.7,274.4 385.0,275.1 385.3,276.1 385.6,276.1 385.9,276.2 386.2,276.2 386.3,276.2" fill="#aca422" opacity="1.0"/>
<polygon points="348.7,276.2 348.7,276.2 349.2,276.2 349.7,276.1 350.2,276.2 350.7,274.4 351.2,274.8 351.7,272.1 352.2,273.6 352.7,272.9 353.2,273.3 353.7,266.7 354.2,268.0 354.7,272.8 355.2,274.3 355.7,269.4 356.2,271.5 356.7,263.5 357.2,268.7 357.7,262.9 358.2,268.6 358.7,269.3 359.2,270.8 359.7,259.5 360.2,263.3 360.7,261.6 361.2,265.7 361.7,261.9 362.2,266.6 362.7,239.6 363.2,245.4 363.7,260.2 364.2,266.7 364.7,221.3 365.2,234.0 365.7,215.5 366.2,238.3 366.7,229.6 367.2,246.4 367.7,199.9 368.2,224.4 368.7,217.5 369.2,223.6 369.7,242.1 370.2,250.9 370.7,227.1 371.2,233.4 371.7,247.3 372.2,256.5 372.7,263.2 373.2,265.1 373.7,266.6 374.2,270.6 374.7,258.1 375.2,263.2 375.7,257.5 376.2,264.0 376.7,257.9 377.2,265.7 377.7,268.4 378.2,270.1 378.7,271.2 379.2,272.9 379.7,264.8 380.2,267.2 380.7,270.9 381.2,273.0 381.7,271.5 382.2,272.4 382.7,272.7 383.2,274.1 383.7,272.9 384.2,273.8 384.7,274.7 385.2,274.9 385.7,276.2 386.2,276.2 386.3,276.2" fill="#6a6612" opacity="0.5"/>
<polygon points="348.7,276.2 348.7,276.2 349.3,276.2 350.0,275.9 350.6,276.0 351.3,272.8 351.9,273.3 352.6,273.6 353.2,274.4 353.9,271.5 354.5,273.0 355.2,269.8 355.8,271.8 356.5,270.7 357.1,272.1 357.8,260.9 358.4,264.9 359.1,257.8 359.7,262.5 360.4,268.0 361.0,269.5 361.7,247.5 362.3,257.6 363.0,266.9 363.6,269.4 364.3,242.3 364.9,250.8 365.6,213.7 366.2,227.6 366.9,212.9 367.5,239.9 368.2,228.7 368.8,236.9 369.5,259.2 370.1,266.3 370.8,234.4 371.4,240.1 372.1,264.9 372.7,267.5 373.4,266.3 374.0,268.2 374.7,259.0 375.3,265.2 376.0,268.3 376.6,269.7 377.3,265.0 377.9,267.1 378.6,268.4 379.2,271.0 379.9,264.3 380.5,266.8 381.2,270.7 381.8,272.1 382.5,271.2 383.1,272.2 383.8,273.0 384.4,274.0 385.1,275.7 385.7,275.8 386.3,276.2" fill="#d4cc40" opacity="0.4"/>
<polygon points="366.4,206.2 367.5,169.2 368.6,206.2" fill="#aca422"/>
<polygon points="376.1,276.2 376.1,276.2 376.4,276.2 376.7,276.2 377.0,276.2 377.3,275.8 377.6,275.9 377.9,274.7 378.2,275.0 378.5,273.2 378.8,274.1 379.1,272.5 379.4,274.0 379.7,270.8 380.0,271.4 380.3,270.4 380.6,272.7 380.9,269.8 381.2,271.7 381.5,268.5 381.8,269.4 382.1,268.3 382.4,271.0 382.7,267.2 383.0,269.2 383.3,263.2 383.6,268.3 383.9,265.5 384.2,268.6 384.5,261.8 384.8,263.7 385.1,263.7 385.4,268.9 385.7,261.9 386.0,267.2 386.3,260.6 386.6,263.7 386.9,257.0 387.2,264.1 387.5,258.9 387.8,265.0 388.1,258.0 388.4,261.4 388.7,255.8 389.0,261.1 389.3,250.3 389.6,257.6 389.9,254.2 390.2,257.3 390.5,246.9 390.8,256.5 391.1,249.2 391.4,252.3 391.7,248.8 392.0,259.0 392.3,251.4 392.6,254.3 392.9,238.1 393.2,250.1 393.5,237.4 393.8,247.9 394.1,237.3 394.4,241.3 394.7,226.6 395.0,244.8 395.3,234.7 395.6,246.5 395.9,223.7 396.2,232.7 396.5,212.0 396.8,227.3 397.1,220.9 397.4,242.8 397.7,213.0 398.0,235.7 398.3,194.1 398.6,216.2 398.9,196.1 399.2,204.3 399.5,203.0 399.8,222.2 400.1,202.9 400.4,216.1 400.7,170.5 401.0,218.0 401.3,178.8 401.6,193.8 401.9,183.5 402.2,222.5 402.5,204.7 402.8,218.9 403.1,213.4 403.4,231.1 403.7,207.0 404.0,215.0 404.3,208.2 404.6,218.4 404.9,219.2 405.2,229.1 405.5,220.6 405.8,227.8 406.1,231.3 406.4,238.5 406.7,232.6 407.0,244.0 407.3,231.0 407.6,248.8 407.9,230.5 408.2,246.1 408.5,242.4 408.8,256.7 409.1,246.4 409.4,254.9 409.7,245.7 410.0,255.6 410.3,247.2 410.6,259.2 410.9,251.3 411.2,258.5 411.5,247.0 411.8,251.6 412.1,251.1 412.4,262.3 412.7,254.7 413.0,259.0 413.3,256.9 413.6,261.8 413.9,256.2 414.2,265.2 414.5,253.5 414.8,257.3 415.1,260.2 415.4,264.0 415.7,260.7 416.0,265.6 416.3,260.2 416.6,265.7 416.9,262.5 417.2,266.8 417.5,261.9 417.8,267.0 418.1,265.3 418.4,267.4 418.7,265.7 419.0,267.0 419.3,265.9 419.6,267.9 419.9,267.8 420.2,269.2 420.5,269.6 420.8,272.3 421.1,270.6 421.4,271.8 421.7,270.2 422.0,272.5 422.3,272.0 422.6,272.6 422.9,272.8 423.2,274.2 423.5,274.3 423.8,275.1 424.1,275.4 424.4,275.6 424.7,276.2 425.0,276.2 425.3,276.2 425.6,276.2 425.7,276.2" fill="#c45a14" opacity="1.0"/>
<polygon points="376.1,276.2 376.1,276.2 376.6,276.2 377.1,276.2 377.6,276.2 378.1,275.3 378.6,275.6 379.1,275.3 379.6,275.5 380.1,271.8 380.6,272.2 381.1,269.8 381.6,271.2 382.1,269.5 382.6,272.5 383.1,270.6 383.6,272.4 384.1,266.4 384.6,270.4 385.1,268.2 385.6,270.4 386.1,261.8 386.6,264.1 387.1,262.7 387.6,268.1 388.1,258.9 388.6,261.2 389.1,261.2 389.6,266.1 390.1,260.8 390.6,267.0 391.1,255.3 391.6,257.5 392.1,258.0 392.6,261.6 393.1,244.7 393.6,256.7 394.1,234.9 394.6,244.4 395.1,256.8 395.6,265.0 396.1,252.0 396.6,258.0 397.1,226.8 397.6,243.3 398.1,208.7 398.6,230.5 399.1,229.9 399.6,248.7 400.1,192.4 400.6,226.1 401.1,193.5 401.6,215.0 402.1,221.6 402.6,235.5 403.1,243.4 403.6,247.7 404.1,208.6 404.6,219.7 405.1,233.8 405.6,251.1 406.1,229.6 406.6,245.8 407.1,233.1 407.6,248.9 408.1,249.5 408.6,253.7 409.1,263.9 409.6,267.1 410.1,268.0 410.6,271.6 411.1,266.5 411.6,267.6 412.1,253.3 412.6,258.4 413.1,265.8 413.6,268.1 414.1,260.1 414.6,265.2 415.1,263.7 415.6,265.8 416.1,272.2 416.6,273.7 417.1,267.7 417.6,271.1 418.1,269.6 418.6,271.2 419.1,272.3 419.6,273.4 420.1,272.4 420.6,273.4 421.1,272.9 421.6,273.6 422.1,274.9 422.6,275.2 423.1,275.2 423.6,275.3 424.1,275.5 424.6,275.7 425.1,276.2 425.6,276.2 425.7,276.2" fill="#84340a" opacity="0.5"/>
<polygon points="376.1,276.2 376.1,276.2 376.8,276.2 377.4,275.8 378.1,275.9 378.7,273.5 379.4,273.9 380.0,271.9 380.7,273.2 381.3,272.3 382.0,273.3 382.6,267.6 383.3,269.9 383.9,269.1 384.6,271.2 385.2,263.6 385.9,267.8 386.5,272.3 387.2,273.1 387.8,259.6 388.5,262.8 389.1,262.5 389.8,265.0 390.4,266.2 391.1,268.6 391.7,269.9 392.4,272.5 393.0,258.8 393.7,263.6 394.3,255.9 395.0,264.7 395.6,240.4 396.3,249.9 396.9,254.5 397.6,261.9 398.2,243.3 398.9,255.4 399.5,257.9 400.2,260.3 400.8,198.5 401.5,215.3 402.1,211.4 402.8,231.0 403.4,221.9 404.1,242.1 404.7,231.3 405.4,242.6 406.0,231.8 406.7,250.2 407.3,242.8 408.0,256.4 408.6,256.1 409.3,258.5 409.9,271.2 410.6,273.0 411.2,266.2 411.9,269.6 412.5,271.1 413.2,271.8 413.8,260.6 414.5,265.5 415.1,268.4 415.8,270.3 416.4,272.9 417.1,274.4 417.7,265.5 418.4,269.1 419.0,270.5 419.7,271.2 420.3,269.0 421.0,271.1 421.6,274.3 422.3,275.0 422.9,273.5 423.6,273.8 424.2,275.9 424.9,276.0 425.5,276.2 426.2,276.2 425.7,276.2" fill="#e87a1e" opacity="0.4"/>
<polygon points="399.5,206.2 400.9,169.2 402.3,206.2" fill="#c45a14"/>
<polygon points="422.9,276.2 422.9,276.2 423.2,276.2 423.6,276.2 423.9,276.2 424.2,275.9 424.5,276.0 424.8,274.9 425.1,275.4 425.4,274.5 425.7,274.8 426.0,273.5 426.3,273.9 426.6,271.9 426.9,272.8 427.2,272.2 427.5,273.0 427.8,269.8 428.1,271.7 428.4,270.9 428.7,272.8 429.0,269.5 429.3,270.8 429.6,269.0 429.9,271.8 430.2,268.1 430.5,269.9 430.8,265.3 431.1,268.8 431.4,264.8 431.7,266.4 432.0,264.2 432.3,268.7 432.6,264.7 432.9,266.1 433.2,262.0 433.5,267.0 433.8,261.3 434.1,267.5 434.4,258.4 434.7,263.7 435.0,260.1 435.3,264.4 435.6,262.3 435.9,265.7 436.2,260.0 436.5,265.9 436.8,255.5 437.1,264.2 437.4,258.4 437.7,261.7 438.0,257.9 438.3,264.3 438.6,254.7 438.9,263.0 439.2,250.9 439.5,253.5 439.8,257.4 440.1,262.8 440.4,250.2 440.7,258.4 441.0,247.6 441.3,255.4 441.6,253.8 441.9,259.5 442.2,248.4 442.5,257.4 442.8,247.3 443.1,252.4 443.4,247.9 443.7,255.7 444.0,241.5 444.3,248.8 444.6,242.0 444.9,246.0 445.2,243.7 445.5,249.4 445.8,241.0 446.1,249.3 446.4,237.0 446.7,248.6 447.0,224.6 447.3,233.6 447.6,220.7 447.9,241.1 448.2,223.2 448.5,243.0 448.8,218.1 449.1,234.1 449.4,227.1 449.7,239.0 450.0,208.2 450.3,225.2 450.6,200.8 450.9,230.0 451.2,216.1 451.5,242.8 451.8,203.8 452.1,225.4 452.4,202.2 452.7,228.7 453.0,188.3 453.3,225.6 453.6,181.3 453.9,205.1 454.2,189.5 454.5,204.5 454.8,170.8 455.1,209.4 455.4,200.1 455.7,226.0 456.0,206.2 456.3,230.0 456.6,190.9 456.9,213.6 457.2,204.9 457.5,222.3 457.8,212.8 458.1,223.1 458.4,213.3 458.7,236.0 459.0,216.4 459.3,228.8 459.6,202.4 459.9,215.3 460.2,224.3 460.5,240.2 460.8,220.2 461.1,241.1 461.4,210.3 461.7,239.0 462.0,223.7 462.3,233.4 462.6,217.6 462.9,241.0 463.2,230.8 463.5,239.4 463.8,240.7 464.1,253.7 464.4,230.5 464.7,248.8 465.0,241.1 465.3,253.2 465.6,243.8 465.9,257.5 466.2,251.4 466.5,253.9 466.8,245.5 467.1,251.4 467.4,251.9 467.7,260.7 468.0,249.5 468.3,259.2 468.6,251.2 468.9,254.3 469.2,253.0 469.5,260.7 469.8,248.3 470.1,254.9 470.4,257.5 470.7,263.3 471.0,253.1 471.3,263.0 471.6,256.5 471.9,260.5 472.2,253.3 472.5,258.9 472.8,254.1 473.1,260.5 473.4,258.6 473.7,261.3 474.0,259.5 474.3,262.4 474.6,261.4 474.9,266.2 475.2,262.3 475.5,265.9 475.8,263.2 476.1,268.1 476.4,263.7 476.7,267.3 477.0,264.0 477.3,267.6 477.6,261.6 477.9,264.7 478.2,263.2 478.5,268.1 478.8,266.1 479.1,270.4 479.4,265.8 479.7,269.2 480.0,268.1 480.3,271.7 480.6,269.2 480.9,271.7 481.2,269.4 481.5,270.3 481.8,269.5 482.1,271.9 482.4,271.1 482.7,273.1 483.0,271.0 483.3,272.7 483.6,272.2 483.9,273.0 484.2,273.0 484.5,274.4 484.8,274.4 485.1,275.0 485.4,275.3 485.7,275.5 486.0,276.1 486.3,276.1 486.6,276.2 486.9,276.2 487.1,276.2" fill="#c42812" opacity="1.0"/>
<polygon points="422.9,276.2 422.9,276.2 423.4,276.2 423.9,276.2 424.4,276.2 424.9,275.2 425.4,275.6 425.9,274.8 426.4,275.2 426.9,273.3 427.4,274.5 427.9,271.7 428.4,273.3 428.9,270.4 429.4,271.7 429.9,273.1 430.4,274.3 430.9,271.6 431.4,272.5 431.9,269.8 432.4,271.8 432.9,264.4 433.4,268.8 433.9,269.5 434.4,271.7 434.9,269.8 435.4,272.6 435.9,271.7 436.4,272.8 436.9,263.5 437.4,265.6 437.9,256.1 438.4,263.0 438.9,259.8 439.4,261.9 439.9,266.8 440.4,268.8 440.9,257.7 441.4,259.8 441.9,252.5 442.4,261.2 442.9,256.2 443.4,264.6 443.9,258.7 444.4,264.2 444.9,265.9 445.4,269.2 445.9,255.8 446.4,261.4 446.9,254.9 447.4,263.3 447.9,247.6 448.4,255.7 448.9,255.1 449.4,259.7 449.9,249.6 450.4,260.7 450.9,241.9 451.4,252.3 451.9,250.1 452.4,256.5 452.9,214.6 453.4,230.4 453.9,210.5 454.4,239.5 454.9,227.7 455.4,243.4 455.9,251.9 456.4,259.4 456.9,253.9 457.4,260.1 457.9,225.0 458.4,239.6 458.9,242.5 459.4,254.7 459.9,260.0 460.4,265.3 460.9,222.4 461.4,235.9 461.9,253.0 462.4,258.0 462.9,258.1 463.4,263.3 463.9,246.2 464.4,249.7 464.9,257.2 465.4,261.9 465.9,246.0 466.4,251.4 466.9,256.2 467.4,260.9 467.9,261.6 468.4,266.1 468.9,265.0 469.4,266.8 469.9,254.8 470.4,261.6 470.9,255.6 471.4,264.6 471.9,269.2 472.4,271.1 472.9,267.2 473.4,270.1 473.9,258.8 474.4,265.7 474.9,270.0 475.4,272.3 475.9,265.0 476.4,269.1 476.9,273.1 477.4,273.9 477.9,269.8 478.4,272.2 478.9,269.8 479.4,271.2 479.9,270.4 480.4,271.7 480.9,271.2 481.4,272.0 481.9,270.3 482.4,272.3 482.9,273.9 483.4,274.2 483.9,274.7 484.4,275.0 484.9,275.0 485.4,275.2 485.9,276.1 486.4,276.1 486.9,276.2 487.4,276.2 487.1,276.2" fill="#801006" opacity="0.5"/>
<polygon points="422.9,276.2 422.9,276.2 423.6,276.2 424.2,276.0 424.9,276.1 425.6,274.5 426.2,275.0 426.9,274.7 427.5,275.3 428.2,273.7 428.8,274.7 429.5,271.9 430.1,273.6 430.8,274.0 431.4,274.9 432.1,273.3 432.7,273.9 433.4,272.7 434.0,273.7 434.7,264.9 435.3,268.1 436.0,271.1 436.6,271.8 437.3,260.8 437.9,267.4 438.6,268.6 439.2,270.7 439.9,259.0 440.5,264.4 441.2,259.0 441.8,265.2 442.5,257.7 443.1,263.9 443.8,263.8 444.4,266.1 445.1,247.6 445.7,252.2 446.4,250.8 447.0,258.5 447.7,241.7 448.3,249.7 449.0,231.8 449.6,239.3 450.3,258.9 450.9,264.4 451.6,229.3 452.2,246.6 452.9,251.9 453.5,262.7 454.2,225.3 454.8,231.4 455.5,199.9 456.1,230.7 456.8,222.3 457.4,238.6 458.1,229.9 458.7,244.3 459.4,219.9 460.0,225.8 460.7,263.5 461.3,266.0 462.0,262.3 462.6,268.4 463.3,258.7 463.9,262.1 464.6,241.8 465.2,255.8 465.9,263.0 466.5,268.8 467.2,260.7 467.8,265.1 468.5,264.9 469.1,268.7 469.8,258.5 470.4,261.3 471.1,267.9 471.7,270.5 472.4,263.9 473.0,266.1 473.7,260.4 474.3,265.4 475.0,265.4 475.6,268.2 476.3,265.6 476.9,269.8 477.6,272.5 478.2,274.0 478.9,267.4 479.5,270.6 480.2,271.7 480.8,273.5 481.5,273.5 482.1,274.7 482.8,273.4 483.4,274.5 484.1,274.4 484.7,275.0 485.4,275.9 486.0,276.0 486.7,276.2 487.3,276.2 487.1,276.2" fill="#ea3e1a" opacity="0.4"/>
<polygon points="453.2,206.2 455.0,169.2 456.8,206.2" fill="#c42812"/>
<polygon points="296,276.2 296.00,276.2 296.60,275.4 297.20,272.2 297.80,273.8 298.40,274.6 299.00,273.8 299.60,271.8 300.20,268.2 300.80,273.1 301.40,268.2 302.00,270.7 302.60,271.1 303.20,267.8 303.80,271.0 304.40,273.7 305.00,269.5 305.60,268.5 306.20,268.8 306.80,271.7 307.40,266.0 308.00,266.7 308.60,265.7 309.20,270.4 309.80,267.3 310.40,268.4 311.00,272.9 311.60,274.1 312.20,273.1 312.80,273.6 313.40,274.0 314.00,272.4 314.60,270.3 315.20,273.2 315.80,272.6 316.40,275.1 317.00,274.7 317.60,273.7 318,276.2" fill="#20a0c0" opacity="0.85"/>
<polygon points="310,276.2 310.00,276.2 310.60,274.7 311.20,273.2 311.80,272.6 312.40,272.3 313.00,273.3 313.60,271.1 314.20,270.6 314.80,270.6 315.40,269.0 316.00,274.0 316.60,268.5 317.20,271.9 317.80,269.6 318.40,272.7 319.00,267.8 319.60,274.2 320.20,269.9 320.80,272.5 321.40,271.2 322.00,271.2 322.60,268.8 323.20,267.5 323.80,271.1 324.40,268.7 325.00,271.1 325.60,271.7 326.20,266.3 326.80,271.3 327.40,273.3 328.00,271.2 328.60,267.7 329.20,272.3 329.80,267.8 330.40,269.5 331.00,268.4 331.60,272.7 332.20,273.3 332.80,273.0 333.40,271.4 334.00,270.9 334.60,274.2 335.20,270.5 335.80,271.4 336.40,272.1 337.00,270.7 337.60,268.1 338.20,273.3 338.80,269.2 339.40,272.8 340.00,270.5 340.60,274.3 341.20,270.1 341.80,273.1 342.40,271.2 343.00,274.5 343.60,274.2 344.20,274.0 344.80,275.7 345,276.2" fill="#30c040" opacity="0.85"/>
<polygon points="335,276.2 335.00,276.2 335.60,274.4 336.20,272.9 336.80,274.3 337.40,274.5 338.00,273.6 338.60,270.4 339.20,274.2 339.80,271.5 340.40,272.7 341.00,270.9 341.60,273.4 342.20,270.7 342.80,268.7 343.40,268.7 344.00,270.1 344.60,270.9 345.20,270.3 345.80,273.5 346.40,268.1 347.00,269.1 347.60,270.9 348.20,269.2 348.80,271.1 349.40,271.3 350.00,272.5 350.60,269.7 351.20,269.9 351.80,270.4 352.40,274.1 353.00,269.6 353.60,271.0 354.20,270.0 354.80,270.1 355.40,267.8 356.00,273.4 356.60,271.3 357.20,268.0 357.80,269.9 358.40,272.7 359.00,270.4 359.60,269.2 360.20,272.7 360.80,270.6 361.40,274.4 362.00,270.9 362.60,273.4 363.20,274.6 363.80,273.2 364.40,274.5 365,276.2" fill="#a0b828" opacity="0.85"/>
<polygon points="350,276.2 350.00,276.2 350.60,274.7 351.20,274.1 351.80,274.4 352.40,272.7 353.00,275.2 353.60,272.4 354.20,272.7 354.80,274.2 355.40,271.8 356.00,273.1 356.60,272.6 357.20,270.9 357.80,274.0 358.40,273.5 359.00,271.5 359.60,274.5 360.20,271.7 360.80,270.3 361.40,271.9 362.00,273.3 362.60,269.9 363.20,269.4 363.80,269.9 364.40,271.2 365.00,268.8 365.60,269.5 366.20,273.6 366.80,272.2 367.40,273.9 368.00,274.3 368.60,272.2 369.20,268.7 369.80,268.8 370.40,273.7 371.00,273.3 371.60,271.8 372.20,268.7 372.80,270.3 373.40,268.3 374.00,274.0 374.60,267.8 375.20,273.1 375.80,270.3 376.40,268.6 377.00,269.7 377.60,273.2 378.20,270.2 378.80,271.8 379.40,274.5 380.00,272.4 380.60,272.6 381.20,270.7 381.80,273.0 382.40,271.1 383.00,270.6 383.60,273.7 384.20,274.1 384.80,271.0 385.40,272.3 386.00,274.2 386.60,274.3 387.20,270.3 387.80,272.1 388.40,273.4 389.00,274.3 389.60,271.0 390.20,272.5 390.80,272.6 391.40,274.1 392.00,274.5 392.60,274.4 393.20,275.2 393.80,274.5 394.40,275.3 395,276.2" fill="#c8a020" opacity="0.85"/>
<polygon points="380,276.2 380.00,276.2 380.60,275.5 381.20,275.1 381.80,274.8 382.40,273.7 383.00,274.8 383.60,273.7 384.20,274.8 384.80,273.7 385.40,274.5 386.00,272.5 386.60,274.3 387.20,272.2 387.80,272.7 388.40,273.4 389.00,271.4 389.60,273.5 390.20,272.0 390.80,272.5 391.40,273.1 392.00,274.8 392.60,273.1 393.20,273.7 393.80,272.8 394.40,270.2 395.00,273.5 395.60,271.4 396.20,271.4 396.80,273.6 397.40,272.7 398.00,274.1 398.60,270.0 399.20,273.4 399.80,272.5 400.40,272.9 401.00,270.1 401.60,269.9 402.20,271.4 402.80,271.6 403.40,274.2 404.00,269.5 404.60,274.2 405.20,272.6 405.80,272.5 406.40,270.4 407.00,270.7 407.60,272.7 408.20,269.3 408.80,269.0 409.40,274.6 410.00,270.9 410.60,271.9 411.20,272.5 411.80,271.9 412.40,272.8 413.00,270.7 413.60,271.1 414.20,269.0 414.80,269.0 415.40,268.9 416.00,272.4 416.60,269.9 417.20,271.0 417.80,270.7 418.40,269.1 419.00,274.4 419.60,272.2 420.20,272.6 420.80,271.2 421.40,273.6 422.00,269.5 422.60,273.8 423.20,272.9 423.80,274.2 424.40,272.9 425.00,271.2 425.60,274.5 426.20,274.2 426.80,271.9 427.40,272.1 428.00,271.6 428.60,273.9 429.20,271.5 429.80,272.0 430.40,271.9 431.00,274.7 431.60,273.4 432.20,275.2 432.80,272.2 433.40,272.0 434.00,272.4 434.60,275.3 435.20,274.4 435.80,274.0 436.40,274.2 437.00,275.3 437.60,274.0 438.20,275.2 438.80,275.1 439.40,275.8 440,276.2" fill="#e07818" opacity="0.85"/>
<polygon points="420,276.2 420.00,276.2 420.60,275.9 421.20,275.8 421.80,275.1 422.40,275.3 423.00,274.2 423.60,275.2 424.20,274.7 424.80,275.5 425.40,275.0 426.00,274.3 426.60,273.9 427.20,274.1 427.80,272.8 428.40,275.1 429.00,272.6 429.60,274.8 430.20,271.9 430.80,273.4 431.40,273.8 432.00,273.0 432.60,271.9 433.20,271.5 433.80,273.6 434.40,275.1 435.00,274.5 435.60,271.7 436.20,272.0 436.80,272.0 437.40,274.4 438.00,272.7 438.60,274.9 439.20,274.6 439.80,273.7 440.40,270.6 441.00,272.0 441.60,271.0 442.20,274.8 442.80,273.0 443.40,274.6 444.00,273.7 444.60,274.4 445.20,270.4 445.80,273.3 446.40,272.5 447.00,271.7 447.60,270.5 448.20,270.2 448.80,272.1 449.40,272.4 450.00,270.3 450.60,272.9 451.20,273.4 451.80,271.1 452.40,273.6 453.00,273.0 453.60,272.7 454.20,272.5 454.80,273.1 455.40,272.7 456.00,272.6 456.60,274.7 457.20,270.7 457.80,274.6 458.40,272.3 459.00,272.2 459.60,272.9 460.20,273.8 460.80,274.5 461.40,273.1 462.00,273.4 462.60,272.6 463.20,273.9 463.80,271.4 464.40,272.7 465.00,275.0 465.60,273.1 466.20,270.5 466.80,275.0 467.40,272.3 468.00,270.7 468.60,273.4 469.20,272.5 469.80,273.5 470.40,273.8 471.00,272.6 471.60,272.7 472.20,273.9 472.80,273.2 473.40,273.2 474.00,272.3 474.60,275.0 475.20,274.9 475.80,274.4 476.40,274.4 477.00,272.6 477.60,273.9 478.20,272.6 478.80,274.1 479.40,274.6 480.00,273.5 480.60,275.3 481.20,272.9 481.80,273.5 482.40,274.8 483.00,274.9 483.60,274.0 484.20,274.3 484.80,274.7 485.40,275.8 486.00,275.1 486.60,276.0 487,276.2" fill="#e04018" opacity="0.85"/>
<rect x="290.5" y="274.8" width="197" height="2.8" fill="url(#eband)"/>
<polygon points="290,276 290.0,273.9 290.9,274.1 291.8,273.2 292.7,273.9 293.6,275.3 294.5,273.2 295.4,273.6 296.3,274.0 297.2,275.4 298.1,273.6 299.0,274.4 299.9,273.8 300.8,273.0 301.7,273.2 302.6,275.2 303.5,273.5 304.4,274.3 305.3,273.6 306.2,274.5 307.1,274.3 308.0,274.4 308.9,275.1 309.8,274.6 310.7,273.6 311.6,275.2 312.5,275.1 313.4,273.4 314.3,273.8 315.2,274.1 316.1,275.1 317.0,275.1 317.9,274.7 318.8,273.1 319.7,274.1 320.6,273.2 321.5,274.9 322.4,274.4 323.3,274.1 324.2,273.4 325.1,275.1 326.0,273.3 326.9,274.3 327.8,275.3 328.7,274.4 329.6,274.5 330.5,273.8 331.4,273.2 332.3,274.2 333.2,273.7 334.1,274.5 335.0,273.5 335.9,275.1 336.8,273.6 337.7,275.0 338.6,274.0 339.5,274.9 340.4,274.6 341.3,275.0 342.2,274.6 343.1,274.0 344.0,274.2 344.9,274.5 345.8,274.0 346.7,273.4 347.6,274.5 348.5,274.0 349.4,274.2 350.3,273.0 351.2,274.6 352.1,273.7 353.0,274.8 353.9,274.8 354.8,273.6 355.7,274.0 356.6,274.8 357.5,275.2 358.4,273.4 359.3,274.5 360.2,273.7 361.1,274.4 362.0,273.9 362.9,274.1 363.8,273.1 364.7,273.2 365.6,274.3 366.5,274.2 367.4,274.8 368.3,273.6 369.2,275.2 370.1,274.7 371.0,273.4 371.9,275.3 372.8,273.7 373.7,274.0 374.6,274.1 375.5,274.6 376.4,275.0 377.3,273.1 378.2,273.6 379.1,273.5 380.0,275.2 380.9,273.5 381.8,274.9 382.7,274.9 383.6,274.1 384.5,273.9 385.4,275.1 386.3,273.6 387.2,274.0 388.1,273.2 389.0,273.2 389.9,273.7 390.8,274.5 391.7,273.1 392.6,273.7 393.5,274.7 394.4,273.3 395.3,273.7 396.2,274.8 397.1,274.8 398.0,275.4 398.9,274.1 399.8,274.8 400.7,274.7 401.6,274.8 402.5,275.1 403.4,274.2 404.3,274.7 405.2,274.7 406.1,274.7 407.0,274.2 407.9,273.3 408.8,275.0 409.7,273.3 410.6,273.3 411.5,273.9 412.4,274.1 413.3,273.6 414.2,274.1 415.1,273.8 416.0,273.2 416.9,273.5 417.8,274.8 418.7,275.3 419.6,273.2 420.5,274.5 421.4,273.5 422.3,274.8 423.2,274.3 424.1,274.5 425.0,273.6 425.9,273.1 426.8,274.2 427.7,274.0 428.6,274.6 429.5,274.8 430.4,273.1 431.3,275.1 432.2,273.1 433.1,273.8 434.0,275.2 434.9,273.2 435.8,275.2 436.7,274.0 437.6,275.1 438.5,273.0 439.4,274.7 440.3,273.3 441.2,275.3 442.1,273.8 443.0,275.2 443.9,275.3 444.8,274.0 445.7,273.0 446.6,273.8 447.5,273.3 448.4,273.5 449.3,274.1 450.2,275.2 451.1,274.1 452.0,275.0 452.9,274.1 453.8,274.5 454.7,274.2 455.6,274.9 456.5,273.7 457.4,274.4 458.3,274.2 459.2,275.2 460.1,274.2 461.0,274.1 461.9,273.1 462.8,274.1 463.7,275.1 464.6,274.7 465.5,274.6 466.4,273.7 467.3,273.1 468.2,273.1 469.1,273.1 470.0,273.2 470.9,273.3 471.8,273.2 472.7,275.4 473.6,274.2 474.5,274.0 475.4,273.8 476.3,273.9 477.2,273.9 478.1,273.2 479.0,275.2 479.9,274.2 480.8,273.1 481.7,275.3 482.6,275.1 483.5,273.3 484.4,273.1 485.3,275.3 486.2,275.3 487.5,276" fill="url(#eband)" opacity="0.9"/>
</g>
</g></g>
<g id="pf">
<clipPath id="fclip"><rect x="8.1" y="342" width="232.3" height="115.7"/></clipPath>
<rect x="8.1" y="342" width="232.3" height="115.7" fill="#1e0202"/>
<g clip-path="url(#fclip)">
<g filter="url(#blur4)">
<polygon points="8,452.5 39.0,328.3 76,379 130.3,426.5" fill="#860a0a"/>
<polygon points="8,452.5 50.7,356.6 113.2,414.2" fill="#b81010"/>
<polygon points="46,361 156,363 186,367 120,424" fill="#8c0c0c"/>
<polygon points="82,384 148,372 168,394 122,422" fill="#b01010"/>
<polygon points="126,430 188,365 218,449.5 188,455.5" fill="#740909"/>
<polygon points="150,412 166,391 218,449.5" fill="#960d0d"/>
<polygon points="173,427.5 196,407.5 220,449.5" fill="#aa1010"/>
</g>
<g filter="url(#blur3)">
<polygon points="8,452.5 123.9,405.7 119.1,395.3 113.4,385.3 106.8,376.0 99.4,367.3 91.2,359.2 82.4,352.0 72.8,345.6 62.8,340.2" fill="url(#fsrc)" opacity="0.9"/>
<polygon points="8,452.5 112.8,384.4 109.8,379.9 106.5,375.5 103.1,371.3 99.4,367.3 95.6,363.3 91.6,359.6 87.5,356.0 83.2,352.7" fill="url(#fsrc3)"/>
</g>
<ellipse transform="rotate(-40 8 452.5)" cx="15" cy="452.5" rx="13" ry="4" fill="url(#fsrc2)"/>
<g filter="url(#blur05)" fill="none">
<path d="M37.3 350.2 Q116.1 372.3 183.9 363.2" stroke="#e82222" stroke-width="0.6" opacity="0.41"/>
<path d="M39.9 352.6 Q105.5 388.5 168.0 379.4" stroke="#e82222" stroke-width="0.6" opacity="0.38"/>
<path d="M41.9 354.6 Q106.7 377.1 168.2 379.1" stroke="#e82222" stroke-width="0.6" opacity="0.34"/>
<path d="M43.5 356.0 Q102.9 380.7 165.1 382.3" stroke="#e82222" stroke-width="0.6" opacity="0.47"/>
<path d="M45.9 358.3 Q111.7 377.3 166.3 381.1" stroke="#e82222" stroke-width="0.6" opacity="0.37"/>
<path d="M46.9 359.3 Q111.2 382.3 162.5 385.0" stroke="#e82222" stroke-width="0.6" opacity="0.23"/>
<path d="M50.5 362.6 Q113.3 379.4 177.2 370.1" stroke="#e82222" stroke-width="0.6" opacity="0.34"/>
<path d="M52.0 364.1 Q114.8 389.6 162.9 384.6" stroke="#e82222" stroke-width="0.6" opacity="0.49"/>
<path d="M54.5 366.4 Q109.1 381.1 163.0 384.4" stroke="#e82222" stroke-width="0.6" opacity="0.20"/>
<path d="M55.2 367.1 Q112.1 378.9 162.6 384.9" stroke="#e82222" stroke-width="0.6" opacity="0.39"/>
<path d="M57.8 369.5 Q115.2 388.2 160.9 386.5" stroke="#e82222" stroke-width="0.6" opacity="0.26"/>
<path d="M60.1 371.7 Q110.3 389.9 167.1 380.3" stroke="#e82222" stroke-width="0.6" opacity="0.16"/>
<path d="M62.7 374.1 Q111.6 385.9 168.0 379.3" stroke="#e82222" stroke-width="0.6" opacity="0.28"/>
<path d="M64.5 375.8 Q103.9 394.3 150.2 397.4" stroke="#e82222" stroke-width="0.6" opacity="0.48"/>
<path d="M65.9 377.2 Q122.1 392.5 164.0 383.5" stroke="#e82222" stroke-width="0.6" opacity="0.27"/>
<path d="M68.3 379.4 Q118.3 385.5 157.7 389.8" stroke="#e82222" stroke-width="0.6" opacity="0.41"/>
<path d="M71.1 382.1 Q113.2 394.2 162.3 385.1" stroke="#e82222" stroke-width="0.6" opacity="0.18"/>
<path d="M72.5 383.3 Q121.5 390.5 156.5 391.0" stroke="#e82222" stroke-width="0.6" opacity="0.47"/>
<path d="M74.9 385.6 Q111.7 395.6 148.9 398.8" stroke="#e82222" stroke-width="0.6" opacity="0.18"/>
<path d="M76.4 387.0 Q123.8 388.8 155.3 392.2" stroke="#e82222" stroke-width="0.6" opacity="0.17"/>
<path d="M79.9 390.3 Q115.7 395.7 149.7 397.9" stroke="#e82222" stroke-width="0.6" opacity="0.36"/>
<path d="M81.7 392.0 Q115.4 395.6 146.9 400.7" stroke="#e82222" stroke-width="0.6" opacity="0.47"/>
<path d="M82.5 392.7 Q120.9 396.6 147.1 400.5" stroke="#e82222" stroke-width="0.6" opacity="0.41"/>
<path d="M86.1 396.1 Q122.1 396.1 147.3 400.4" stroke="#e82222" stroke-width="0.6" opacity="0.30"/>
<path d="M86.9 396.8 Q118.4 398.1 151.0 396.6" stroke="#e82222" stroke-width="0.6" opacity="0.50"/>
<path d="M90.1 399.9 Q122.1 401.7 151.2 396.4" stroke="#e82222" stroke-width="0.6" opacity="0.41"/>
<path d="M91.6 401.3 Q115.0 407.5 136.7 411.1" stroke="#e82222" stroke-width="0.6" opacity="0.28"/>
<path d="M94.6 404.1 Q124.7 406.1 147.8 399.8" stroke="#e82222" stroke-width="0.6" opacity="0.27"/>
<path d="M95.2 404.6 Q119.9 421.9 133.8 414.0" stroke="#e82222" stroke-width="0.6" opacity="0.28"/>
<path d="M98.4 407.7 Q124.3 412.3 141.4 406.3" stroke="#e82222" stroke-width="0.6" opacity="0.42"/>
<path d="M99.8 409.0 Q118.8 410.8 139.0 408.7" stroke="#e82222" stroke-width="0.6" opacity="0.42"/>
<path d="M102.5 411.5 Q123.1 423.2 129.1 418.8" stroke="#e82222" stroke-width="0.6" opacity="0.35"/>
<path d="M103.4 412.4 Q117.4 419.2 133.4 414.4" stroke="#e82222" stroke-width="0.6" opacity="0.31"/>
<path d="M106.9 415.7 Q125.5 415.2 132.9 414.9" stroke="#e82222" stroke-width="0.6" opacity="0.38"/>
<path d="M108.8 417.5 Q122.2 425.0 135.1 412.7" stroke="#e82222" stroke-width="0.6" opacity="0.45"/>
<path d="M110.9 419.4 Q131.2 421.7 136.6 411.2" stroke="#e82222" stroke-width="0.6" opacity="0.34"/>
<path d="M112.1 420.6 Q129.8 422.2 133.0 414.8" stroke="#e82222" stroke-width="0.6" opacity="0.39"/>
<path d="M115.1 423.4 Q120.0 429.9 128.8 419.1" stroke="#e82222" stroke-width="0.6" opacity="0.35"/>
<path d="M117.1 425.3 Q122.8 432.9 121.5 426.5" stroke="#e82222" stroke-width="0.6" opacity="0.37"/>
<path d="M119.3 427.4 Q118.3 428.4 121.5 426.5" stroke="#e82222" stroke-width="0.6" opacity="0.38"/>
<path d="M120.6 427.4 L218.3 449.0" stroke="#ea2020" stroke-width="0.6" opacity="0.32"/>
<path d="M123.3 424.7 L217.1 449.1" stroke="#ea2020" stroke-width="0.6" opacity="0.18"/>
<path d="M125.3 422.7 L217.4 448.9" stroke="#ea2020" stroke-width="0.6" opacity="0.17"/>
<path d="M127.8 420.1 L218.2 449.6" stroke="#ea2020" stroke-width="0.6" opacity="0.22"/>
<path d="M129.6 418.3 L217.0 449.4" stroke="#ea2020" stroke-width="0.6" opacity="0.37"/>
<path d="M131.9 415.9 L217.2 449.9" stroke="#ea2020" stroke-width="0.6" opacity="0.22"/>
<path d="M134.3 413.5 L218.2 449.0" stroke="#ea2020" stroke-width="0.6" opacity="0.12"/>
<path d="M136.8 410.9 L218.2 450.0" stroke="#ea2020" stroke-width="0.6" opacity="0.20"/>
<path d="M139.6 408.2 L218.6 449.7" stroke="#ea2020" stroke-width="0.6" opacity="0.21"/>
<path d="M141.0 406.7 L218.2 449.6" stroke="#ea2020" stroke-width="0.6" opacity="0.14"/>
<path d="M144.3 403.4 L218.2 449.3" stroke="#ea2020" stroke-width="0.6" opacity="0.34"/>
<path d="M146.4 401.2 L217.2 449.6" stroke="#ea2020" stroke-width="0.6" opacity="0.10"/>
<path d="M148.1 399.5 L218.3 450.0" stroke="#ea2020" stroke-width="0.6" opacity="0.13"/>
<path d="M150.0 397.7 L217.5 449.2" stroke="#ea2020" stroke-width="0.6" opacity="0.20"/>
<path d="M153.3 394.3 L218.9 450.0" stroke="#ea2020" stroke-width="0.6" opacity="0.18"/>
<path d="M154.8 392.7 L219.0 449.5" stroke="#ea2020" stroke-width="0.6" opacity="0.15"/>
<path d="M156.7 390.8 L219.0 449.5" stroke="#ea2020" stroke-width="0.6" opacity="0.16"/>
<path d="M158.7 388.8 L217.2 449.6" stroke="#ea2020" stroke-width="0.6" opacity="0.20"/>
<path d="M161.3 386.2 L218.6 449.9" stroke="#ea2020" stroke-width="0.6" opacity="0.15"/>
<path d="M162.7 384.7 L217.5 450.0" stroke="#ea2020" stroke-width="0.6" opacity="0.20"/>
<path d="M166.3 381.1 L217.5 449.1" stroke="#ea2020" stroke-width="0.6" opacity="0.13"/>
<path d="M168.9 378.4 L218.2 449.5" stroke="#ea2020" stroke-width="0.6" opacity="0.14"/>
<path d="M170.6 376.8 L218.5 449.0" stroke="#ea2020" stroke-width="0.6" opacity="0.20"/>
<path d="M173.0 374.3 L218.1 449.3" stroke="#ea2020" stroke-width="0.6" opacity="0.14"/>
<path d="M174.4 372.9 L217.9 449.3" stroke="#ea2020" stroke-width="0.6" opacity="0.18"/>
<path d="M177.4 369.8 L217.1 449.2" stroke="#ea2020" stroke-width="0.6" opacity="0.18"/>
<path d="M179.2 368.1 L218.8 449.6" stroke="#ea2020" stroke-width="0.6" opacity="0.24"/>
<path d="M180.6 366.6 L217.9 449.6" stroke="#ea2020" stroke-width="0.6" opacity="0.21"/>
<path d="M184.1 363.1 L218.0 450.0" stroke="#ea2020" stroke-width="0.6" opacity="0.18"/>
<path d="M185.7 361.4 L218.7 449.1" stroke="#ea2020" stroke-width="0.6" opacity="0.13"/>
<path d="M187.8 359.3 L217.1 449.9" stroke="#ea2020" stroke-width="0.6" opacity="0.20"/>
<path d="M190.8 356.3 L217.6 449.8" stroke="#ea2020" stroke-width="0.6" opacity="0.13"/>
<path d="M193.4 353.7 L218.0 449.6" stroke="#ea2020" stroke-width="0.6" opacity="0.08"/>
<path d="M194.9 352.1 L217.3 449.6" stroke="#ea2020" stroke-width="0.6" opacity="0.11"/>
<path d="M166.9 436.9 L218.0 449.5" stroke="#f02a22" stroke-width="0.7" opacity="0.27"/>
<path d="M185.3 440.1 L218.0 449.5" stroke="#f02a22" stroke-width="0.7" opacity="0.40"/>
<path d="M184.1 439.2 L218.0 449.5" stroke="#f02a22" stroke-width="0.7" opacity="0.49"/>
<path d="M185.6 437.1 L218.0 449.5" stroke="#f02a22" stroke-width="0.7" opacity="0.21"/>
<path d="M176.4 431.9 L218.0 449.5" stroke="#f02a22" stroke-width="0.7" opacity="0.39"/>
<path d="M187.9 435.0 L218.0 449.5" stroke="#f02a22" stroke-width="0.7" opacity="0.24"/>
<path d="M192.5 436.6 L218.0 449.5" stroke="#f02a22" stroke-width="0.7" opacity="0.24"/>
<path d="M184.1 429.9 L218.0 449.5" stroke="#f02a22" stroke-width="0.7" opacity="0.25"/>
<path d="M178.7 424.2 L218.0 449.5" stroke="#f02a22" stroke-width="0.7" opacity="0.23"/>
<path d="M180.5 423.2 L218.0 449.5" stroke="#f02a22" stroke-width="0.7" opacity="0.22"/>
<path d="M193.5 430.3 L218.0 449.5" stroke="#f02a22" stroke-width="0.7" opacity="0.46"/>
<path d="M189.2 425.3 L218.0 449.5" stroke="#f02a22" stroke-width="0.7" opacity="0.29"/>
<path d="M191.8 424.4 L218.0 449.5" stroke="#f02a22" stroke-width="0.7" opacity="0.48"/>
<path d="M186.5 416.7 L218.0 449.5" stroke="#f02a22" stroke-width="0.7" opacity="0.41"/>
<path d="M195.9 424.6 L218.0 449.5" stroke="#f02a22" stroke-width="0.7" opacity="0.35"/>
<path d="M196.7 421.4 L218.0 449.5" stroke="#f02a22" stroke-width="0.7" opacity="0.39"/>
<path d="M197.3 420.7 L218.0 449.5" stroke="#f02a22" stroke-width="0.7" opacity="0.28"/>
<path d="M198.5 418.4 L218.0 449.5" stroke="#f02a22" stroke-width="0.7" opacity="0.24"/>
<path d="M197.6 414.9 L218.0 449.5" stroke="#f02a22" stroke-width="0.7" opacity="0.42"/>
<path d="M202.5 420.3 L218.0 449.5" stroke="#f02a22" stroke-width="0.7" opacity="0.40"/>
<path d="M203.0 418.4 L218.0 449.5" stroke="#f02a22" stroke-width="0.7" opacity="0.23"/>
<path d="M203.5 415.7 L218.0 449.5" stroke="#f02a22" stroke-width="0.7" opacity="0.27"/>
<path d="M204.5 411.2 L218.0 449.5" stroke="#f02a22" stroke-width="0.7" opacity="0.30"/>
<path d="M202.5 399.7 L218.0 449.5" stroke="#f02a22" stroke-width="0.7" opacity="0.42"/>
<path d="M203.9 401.9 L218.0 449.5" stroke="#f02a22" stroke-width="0.7" opacity="0.49"/>
<path d="M206.6 401.3 L218.0 449.5" stroke="#f02a22" stroke-width="0.7" opacity="0.23"/>
<path d="M119.0 427.0 Q168.5 447.5 218.0 449.5" stroke="#d81c1c" stroke-width="0.6" opacity="0.27"/>
<path d="M87.5 397.4 Q152.7 447.0 218.0 449.5" stroke="#d81c1c" stroke-width="0.6" opacity="0.18"/>
<path d="M91.1 400.8 Q154.5 443.5 218.0 449.5" stroke="#d81c1c" stroke-width="0.6" opacity="0.23"/>
<path d="M95.4 404.8 Q156.7 444.1 218.0 449.5" stroke="#d81c1c" stroke-width="0.6" opacity="0.14"/>
<path d="M113.6 422.0 Q165.8 447.3 218.0 449.5" stroke="#d81c1c" stroke-width="0.6" opacity="0.26"/>
<path d="M98.6 407.9 Q158.3 449.7 218.0 449.5" stroke="#d81c1c" stroke-width="0.6" opacity="0.21"/>
<path d="M104.6 413.5 Q161.3 446.4 218.0 449.5" stroke="#d81c1c" stroke-width="0.6" opacity="0.25"/>
<path d="M97.2 406.5 Q157.6 440.7 218.0 449.5" stroke="#d81c1c" stroke-width="0.6" opacity="0.13"/>
<path d="M89.9 399.6 Q153.9 440.0 218.0 449.5" stroke="#d81c1c" stroke-width="0.6" opacity="0.28"/>
<path d="M100.4 409.5 Q159.2 448.6 218.0 449.5" stroke="#d81c1c" stroke-width="0.6" opacity="0.12"/>
<path d="M100.0 409.2 Q159.0 450.2 218.0 449.5" stroke="#d81c1c" stroke-width="0.6" opacity="0.23"/>
<path d="M98.4 407.7 Q158.2 445.1 218.0 449.5" stroke="#d81c1c" stroke-width="0.6" opacity="0.14"/>
</g>
<circle cx="218" cy="449.5" r="13" fill="url(#ffoc)"/>
<clipPath id="hclip"><rect x="197" y="449.3" width="43.4" height="8.4"/></clipPath>
<rect x="197" y="449.3" width="43.4" height="8.4" fill="#8c80d0"/>
<rect x="197" y="449.3" width="6.5" height="8.4" fill="#22a59a"/>
<g clip-path="url(#hclip)">
<path d="M203.0 448 L212.0 459" stroke="#5a50a8" stroke-width="0.9" opacity="0.8"/>
<path d="M206.2 448 L215.2 459" stroke="#5a50a8" stroke-width="0.9" opacity="0.8"/>
<path d="M209.4 448 L218.4 459" stroke="#5a50a8" stroke-width="0.9" opacity="0.8"/>
<path d="M212.6 448 L221.6 459" stroke="#5a50a8" stroke-width="0.9" opacity="0.8"/>
<path d="M215.8 448 L224.8 459" stroke="#5a50a8" stroke-width="0.9" opacity="0.8"/>
<path d="M219.0 448 L228.0 459" stroke="#5a50a8" stroke-width="0.9" opacity="0.8"/>
<path d="M222.2 448 L231.2 459" stroke="#5a50a8" stroke-width="0.9" opacity="0.8"/>
<path d="M225.4 448 L234.4 459" stroke="#5a50a8" stroke-width="0.9" opacity="0.8"/>
<path d="M228.6 448 L237.6 459" stroke="#5a50a8" stroke-width="0.9" opacity="0.8"/>
<path d="M231.8 448 L240.8 459" stroke="#5a50a8" stroke-width="0.9" opacity="0.8"/>
<path d="M235.0 448 L244.0 459" stroke="#5a50a8" stroke-width="0.9" opacity="0.8"/>
<path d="M238.2 448 L247.2 459" stroke="#5a50a8" stroke-width="0.9" opacity="0.8"/>
<path d="M241.4 448 L250.4 459" stroke="#5a50a8" stroke-width="0.9" opacity="0.8"/>
<path d="M244.6 448 L253.6 459" stroke="#5a50a8" stroke-width="0.9" opacity="0.8"/>
<circle cx="218" cy="449.5" r="7" fill="url(#ffoc)" opacity="0.8"/>
</g>
<g opacity="0.78"><path d="M35.3 347.8 L114.0 423.5" stroke="#9c8e8e" stroke-width="7" opacity="0.6"/><circle cx="37.1" cy="346.7" r="0.5" fill="#ddd"/><circle cx="34.1" cy="349.7" r="0.8" fill="#cbc3c3"/><circle cx="37.1" cy="346.6" r="0.6" fill="#ddd"/><circle cx="35.8" cy="350.3" r="0.7" fill="#fff"/><circle cx="36.9" cy="349.2" r="0.5" fill="#ddd"/><circle cx="37.6" cy="348.5" r="0.5" fill="#fff"/><circle cx="36.9" cy="349.1" r="0.6" fill="#4a2a2a"/><circle cx="36.1" cy="352.3" r="0.5" fill="#ddd"/><circle cx="38.8" cy="349.5" r="0.7" fill="#eee"/><circle cx="39.9" cy="348.3" r="0.7" fill="#eee"/><circle cx="37.5" cy="350.9" r="0.6" fill="#4a2a2a"/><circle cx="37.4" cy="353.3" r="0.7" fill="#ddd"/><circle cx="40.4" cy="350.1" r="0.6" fill="#fff"/><circle cx="38.2" cy="352.5" r="0.7" fill="#eee"/><circle cx="41.6" cy="351.2" r="0.5" fill="#fff"/><circle cx="39.7" cy="353.2" r="0.6" fill="#ddd"/><circle cx="42.3" cy="350.4" r="0.5" fill="#cbc3c3"/><circle cx="42.1" cy="350.6" r="0.6" fill="#4a2a2a"/><circle cx="40.0" cy="355.1" r="0.8" fill="#ddd"/><circle cx="39.6" cy="355.6" r="0.7" fill="#eee"/><circle cx="39.8" cy="355.4" r="0.6" fill="#cbc3c3"/><circle cx="42.5" cy="352.6" r="0.6" fill="#4a2a2a"/><circle cx="44.4" cy="352.9" r="0.6" fill="#fff"/><circle cx="44.5" cy="352.8" r="0.8" fill="#cbc3c3"/><circle cx="43.4" cy="354.0" r="0.5" fill="#fff"/><circle cx="45.0" cy="354.6" r="0.7" fill="#cbc3c3"/><circle cx="45.0" cy="354.6" r="0.5" fill="#ddd"/><circle cx="42.5" cy="357.2" r="0.5" fill="#eee"/><circle cx="42.3" cy="357.4" r="0.6" fill="#4a2a2a"/><circle cx="46.1" cy="355.8" r="0.5" fill="#ddd"/><circle cx="44.9" cy="357.0" r="0.7" fill="#cbc3c3"/><circle cx="44.8" cy="357.1" r="0.5" fill="#fff"/><circle cx="46.8" cy="357.3" r="0.6" fill="#eee"/><circle cx="45.8" cy="358.4" r="0.5" fill="#cbc3c3"/><circle cx="47.8" cy="356.3" r="0.8" fill="#cbc3c3"/><circle cx="47.5" cy="356.6" r="0.6" fill="#4a2a2a"/><circle cx="48.9" cy="357.4" r="0.5" fill="#fff"/><circle cx="45.9" cy="360.5" r="0.8" fill="#eee"/><circle cx="48.1" cy="358.3" r="0.6" fill="#eee"/><circle cx="48.4" cy="358.0" r="0.6" fill="#4a2a2a"/><circle cx="49.2" cy="359.4" r="0.6" fill="#fff"/><circle cx="50.1" cy="358.5" r="0.8" fill="#cbc3c3"/><circle cx="47.3" cy="361.4" r="0.7" fill="#ddd"/><circle cx="47.3" cy="361.4" r="0.6" fill="#4a2a2a"/><circle cx="49.2" cy="361.8" r="0.6" fill="#fff"/><circle cx="48.5" cy="362.4" r="0.7" fill="#ddd"/><circle cx="51.1" cy="359.8" r="0.8" fill="#eee"/><circle cx="50.3" cy="360.6" r="0.6" fill="#4a2a2a"/><circle cx="52.2" cy="361.0" r="0.6" fill="#ddd"/><circle cx="51.5" cy="361.6" r="0.5" fill="#fff"/><circle cx="52.6" cy="360.5" r="0.5" fill="#eee"/><circle cx="52.1" cy="363.4" r="0.6" fill="#fff"/><circle cx="52.9" cy="362.5" r="0.6" fill="#ddd"/><circle cx="53.0" cy="362.4" r="0.6" fill="#eee"/><circle cx="50.5" cy="365.0" r="0.6" fill="#4a2a2a"/><circle cx="52.0" cy="365.8" r="0.5" fill="#eee"/><circle cx="52.4" cy="365.3" r="0.5" fill="#cbc3c3"/><circle cx="51.7" cy="366.1" r="0.5" fill="#ddd"/><circle cx="54.0" cy="363.6" r="0.6" fill="#4a2a2a"/><circle cx="53.7" cy="366.3" r="0.5" fill="#fff"/><circle cx="53.0" cy="367.1" r="0.8" fill="#cbc3c3"/><circle cx="52.2" cy="367.9" r="0.7" fill="#fff"/><circle cx="52.7" cy="367.4" r="0.6" fill="#4a2a2a"/><circle cx="54.5" cy="367.8" r="0.5" fill="#fff"/><circle cx="57.2" cy="365.0" r="0.7" fill="#cbc3c3"/><circle cx="54.4" cy="367.9" r="0.6" fill="#cbc3c3"/><circle cx="56.2" cy="366.1" r="0.6" fill="#4a2a2a"/><circle cx="57.7" cy="366.8" r="0.7" fill="#ddd"/><circle cx="55.3" cy="369.3" r="0.8" fill="#ddd"/><circle cx="57.0" cy="367.5" r="0.5" fill="#fff"/><circle cx="56.8" cy="367.7" r="0.6" fill="#4a2a2a"/><circle cx="59.1" cy="367.7" r="0.8" fill="#cbc3c3"/><circle cx="58.1" cy="368.7" r="0.5" fill="#cbc3c3"/><circle cx="59.2" cy="367.5" r="0.7" fill="#eee"/><circle cx="57.7" cy="371.4" r="0.6" fill="#cbc3c3"/><circle cx="57.2" cy="371.9" r="0.7" fill="#eee"/><circle cx="59.2" cy="369.8" r="0.5" fill="#eee"/><circle cx="61.9" cy="369.4" r="0.7" fill="#ddd"/><circle cx="59.8" cy="371.5" r="0.7" fill="#cbc3c3"/><circle cx="60.1" cy="371.2" r="0.8" fill="#fff"/><circle cx="58.7" cy="372.7" r="0.6" fill="#4a2a2a"/><circle cx="61.6" cy="372.0" r="0.7" fill="#eee"/><circle cx="61.9" cy="371.6" r="0.5" fill="#fff"/><circle cx="59.9" cy="373.7" r="0.7" fill="#cbc3c3"/><circle cx="59.3" cy="374.3" r="0.6" fill="#4a2a2a"/><circle cx="63.1" cy="372.7" r="0.7" fill="#fff"/><circle cx="64.1" cy="371.7" r="0.5" fill="#ddd"/><circle cx="60.5" cy="375.4" r="0.7" fill="#eee"/><circle cx="63.8" cy="372.0" r="0.6" fill="#4a2a2a"/><circle cx="64.9" cy="373.1" r="0.6" fill="#cbc3c3"/><circle cx="63.8" cy="374.3" r="0.5" fill="#cbc3c3"/><circle cx="63.8" cy="374.2" r="0.8" fill="#eee"/><circle cx="64.0" cy="376.4" r="0.6" fill="#fff"/><circle cx="63.1" cy="377.4" r="0.8" fill="#ddd"/><circle cx="65.5" cy="374.8" r="0.5" fill="#ddd"/><circle cx="65.4" cy="374.9" r="0.6" fill="#4a2a2a"/><circle cx="65.1" cy="377.5" r="0.8" fill="#eee"/><circle cx="67.4" cy="375.2" r="0.6" fill="#eee"/><circle cx="66.8" cy="375.8" r="0.5" fill="#cbc3c3"/><circle cx="65.9" cy="376.7" r="0.6" fill="#4a2a2a"/><circle cx="66.7" cy="378.2" r="0.8" fill="#ddd"/><circle cx="67.1" cy="377.7" r="0.5" fill="#ddd"/><circle cx="68.1" cy="376.7" r="0.5" fill="#fff"/><circle cx="66.6" cy="378.3" r="0.6" fill="#4a2a2a"/><circle cx="67.7" cy="379.5" r="0.6" fill="#ddd"/><circle cx="67.6" cy="379.6" r="0.7" fill="#ddd"/><circle cx="67.0" cy="380.2" r="0.5" fill="#cbc3c3"/><circle cx="67.9" cy="379.3" r="0.6" fill="#4a2a2a"/><circle cx="70.9" cy="378.5" r="0.5" fill="#cbc3c3"/><circle cx="68.5" cy="380.9" r="0.8" fill="#eee"/><circle cx="67.5" cy="382.0" r="0.7" fill="#cbc3c3"/><circle cx="72.3" cy="379.3" r="0.7" fill="#fff"/><circle cx="71.9" cy="379.7" r="0.5" fill="#fff"/><circle cx="69.9" cy="381.7" r="0.6" fill="#ddd"/><circle cx="70.1" cy="383.8" r="0.7" fill="#fff"/><circle cx="72.0" cy="381.9" r="0.8" fill="#eee"/><circle cx="72.6" cy="381.3" r="0.6" fill="#cbc3c3"/><circle cx="70.5" cy="385.8" r="0.8" fill="#eee"/><circle cx="73.0" cy="383.2" r="0.7" fill="#cbc3c3"/><circle cx="74.6" cy="381.5" r="0.8" fill="#ddd"/><circle cx="74.6" cy="381.6" r="0.6" fill="#4a2a2a"/><circle cx="74.2" cy="384.2" r="0.6" fill="#fff"/><circle cx="73.8" cy="384.7" r="0.8" fill="#ddd"/><circle cx="75.7" cy="382.7" r="0.8" fill="#ddd"/><circle cx="76.1" cy="384.5" r="0.6" fill="#eee"/><circle cx="75.7" cy="385.0" r="0.6" fill="#fff"/><circle cx="74.6" cy="386.2" r="0.6" fill="#ddd"/><circle cx="77.8" cy="385.1" r="0.6" fill="#eee"/><circle cx="76.3" cy="386.6" r="0.5" fill="#fff"/><circle cx="77.5" cy="385.4" r="0.8" fill="#cbc3c3"/><circle cx="77.3" cy="385.6" r="0.6" fill="#4a2a2a"/><circle cx="75.7" cy="389.6" r="0.8" fill="#eee"/><circle cx="78.9" cy="386.3" r="0.6" fill="#fff"/><circle cx="79.2" cy="385.9" r="0.8" fill="#ddd"/><circle cx="80.3" cy="387.1" r="0.7" fill="#cbc3c3"/><circle cx="76.8" cy="390.8" r="0.5" fill="#eee"/><circle cx="79.6" cy="387.9" r="0.8" fill="#fff"/><circle cx="80.0" cy="387.5" r="0.6" fill="#4a2a2a"/><circle cx="80.4" cy="389.3" r="0.8" fill="#cbc3c3"/><circle cx="79.4" cy="390.3" r="0.5" fill="#cbc3c3"/><circle cx="78.4" cy="391.5" r="0.7" fill="#fff"/><circle cx="79.8" cy="390.0" r="0.6" fill="#4a2a2a"/><circle cx="79.7" cy="392.4" r="0.8" fill="#cbc3c3"/><circle cx="78.9" cy="393.2" r="0.6" fill="#eee"/><circle cx="79.0" cy="393.1" r="0.5" fill="#eee"/><circle cx="78.7" cy="393.4" r="0.6" fill="#4a2a2a"/><circle cx="79.7" cy="394.7" r="0.5" fill="#cbc3c3"/><circle cx="83.1" cy="391.2" r="0.5" fill="#ddd"/><circle cx="82.7" cy="391.6" r="0.7" fill="#fff"/><circle cx="81.9" cy="394.7" r="0.5" fill="#cbc3c3"/><circle cx="84.9" cy="391.6" r="0.6" fill="#eee"/><circle cx="84.2" cy="392.3" r="0.5" fill="#cbc3c3"/><circle cx="83.7" cy="395.2" r="0.5" fill="#eee"/><circle cx="85.9" cy="392.9" r="0.6" fill="#fff"/><circle cx="86.1" cy="392.6" r="0.8" fill="#fff"/><circle cx="83.1" cy="395.8" r="0.6" fill="#4a2a2a"/><circle cx="85.8" cy="395.3" r="0.8" fill="#eee"/><circle cx="86.1" cy="394.9" r="0.8" fill="#fff"/><circle cx="86.1" cy="394.9" r="0.5" fill="#cbc3c3"/><circle cx="85.8" cy="395.3" r="0.6" fill="#4a2a2a"/><circle cx="86.5" cy="396.9" r="0.7" fill="#eee"/><circle cx="84.5" cy="399.0" r="0.5" fill="#fff"/><circle cx="86.2" cy="397.1" r="0.7" fill="#eee"/><circle cx="85.7" cy="397.6" r="0.6" fill="#4a2a2a"/><circle cx="89.4" cy="396.1" r="0.5" fill="#eee"/><circle cx="87.9" cy="397.7" r="0.7" fill="#eee"/><circle cx="86.3" cy="399.3" r="0.5" fill="#eee"/><circle cx="88.0" cy="397.6" r="0.6" fill="#4a2a2a"/><circle cx="89.3" cy="398.5" r="0.5" fill="#ddd"/><circle cx="89.0" cy="398.9" r="0.5" fill="#fff"/><circle cx="86.9" cy="401.0" r="0.6" fill="#ddd"/><circle cx="88.0" cy="402.2" r="0.8" fill="#cbc3c3"/><circle cx="90.7" cy="399.4" r="0.5" fill="#fff"/><circle cx="89.3" cy="400.9" r="0.5" fill="#eee"/><circle cx="90.3" cy="399.8" r="0.6" fill="#4a2a2a"/><circle cx="89.2" cy="403.2" r="0.6" fill="#ddd"/><circle cx="89.6" cy="402.8" r="0.5" fill="#ddd"/><circle cx="92.8" cy="399.5" r="0.5" fill="#eee"/><circle cx="92.9" cy="399.5" r="0.6" fill="#4a2a2a"/><circle cx="91.2" cy="403.5" r="0.5" fill="#eee"/><circle cx="92.7" cy="402.0" r="0.6" fill="#ddd"/><circle cx="92.2" cy="402.4" r="0.5" fill="#fff"/><circle cx="90.8" cy="403.9" r="0.6" fill="#4a2a2a"/><circle cx="92.8" cy="404.1" r="0.6" fill="#eee"/><circle cx="92.5" cy="404.5" r="0.7" fill="#cbc3c3"/><circle cx="91.6" cy="405.4" r="0.8" fill="#eee"/><circle cx="91.7" cy="405.3" r="0.6" fill="#4a2a2a"/><circle cx="95.1" cy="404.1" r="0.5" fill="#cbc3c3"/><circle cx="96.4" cy="402.7" r="0.8" fill="#cbc3c3"/><circle cx="93.7" cy="405.5" r="0.7" fill="#fff"/><circle cx="96.0" cy="403.1" r="0.6" fill="#4a2a2a"/><circle cx="94.7" cy="406.8" r="0.7" fill="#eee"/><circle cx="95.5" cy="406.0" r="0.7" fill="#fff"/><circle cx="94.7" cy="406.8" r="0.7" fill="#fff"/><circle cx="95.8" cy="405.7" r="0.6" fill="#4a2a2a"/><circle cx="96.2" cy="407.6" r="0.8" fill="#fff"/><circle cx="94.9" cy="408.9" r="0.7" fill="#ddd"/><circle cx="98.4" cy="405.3" r="0.8" fill="#ddd"/><circle cx="97.6" cy="406.1" r="0.6" fill="#4a2a2a"/><circle cx="96.4" cy="409.7" r="0.6" fill="#cbc3c3"/><circle cx="98.1" cy="407.9" r="0.5" fill="#eee"/><circle cx="96.1" cy="410.0" r="0.6" fill="#eee"/><circle cx="99.3" cy="406.6" r="0.6" fill="#4a2a2a"/><circle cx="97.0" cy="411.3" r="0.7" fill="#cbc3c3"/><circle cx="98.6" cy="409.7" r="0.7" fill="#eee"/><circle cx="100.3" cy="407.8" r="0.8" fill="#eee"/><circle cx="99.3" cy="408.9" r="0.6" fill="#4a2a2a"/><circle cx="99.9" cy="410.6" r="0.8" fill="#eee"/><circle cx="100.5" cy="410.0" r="0.7" fill="#eee"/><circle cx="100.0" cy="410.5" r="0.7" fill="#cbc3c3"/><circle cx="101.2" cy="409.2" r="0.6" fill="#4a2a2a"/><circle cx="102.2" cy="410.6" r="0.7" fill="#eee"/><circle cx="102.4" cy="410.3" r="0.6" fill="#ddd"/><circle cx="101.4" cy="411.3" r="0.7" fill="#fff"/><circle cx="104.1" cy="410.8" r="0.8" fill="#ddd"/><circle cx="104.2" cy="410.7" r="0.8" fill="#ddd"/><circle cx="101.1" cy="414.0" r="0.7" fill="#fff"/><circle cx="103.5" cy="413.8" r="0.5" fill="#ddd"/><circle cx="102.8" cy="414.6" r="0.6" fill="#cbc3c3"/><circle cx="102.2" cy="415.1" r="0.8" fill="#ddd"/><circle cx="102.8" cy="414.5" r="0.6" fill="#4a2a2a"/><circle cx="105.2" cy="414.3" r="0.8" fill="#fff"/><circle cx="106.7" cy="412.8" r="0.5" fill="#fff"/><circle cx="103.0" cy="416.6" r="0.8" fill="#cbc3c3"/><circle cx="105.2" cy="414.3" r="0.6" fill="#4a2a2a"/><circle cx="107.1" cy="414.6" r="0.5" fill="#ddd"/><circle cx="105.4" cy="416.5" r="0.7" fill="#ddd"/><circle cx="104.2" cy="417.7" r="0.8" fill="#cbc3c3"/><circle cx="107.3" cy="414.4" r="0.6" fill="#4a2a2a"/><circle cx="108.2" cy="415.8" r="0.7" fill="#fff"/><circle cx="108.9" cy="415.1" r="0.8" fill="#cbc3c3"/><circle cx="107.4" cy="416.6" r="0.6" fill="#cbc3c3"/><circle cx="108.6" cy="417.7" r="0.5" fill="#eee"/><circle cx="108.8" cy="417.5" r="0.7" fill="#eee"/><circle cx="109.0" cy="417.3" r="0.8" fill="#fff"/><circle cx="110.1" cy="416.2" r="0.6" fill="#4a2a2a"/><circle cx="107.6" cy="421.0" r="0.6" fill="#cbc3c3"/><circle cx="109.2" cy="419.4" r="0.8" fill="#ddd"/><circle cx="110.4" cy="418.2" r="0.7" fill="#ddd"/><circle cx="109.8" cy="418.7" r="0.6" fill="#4a2a2a"/><circle cx="109.7" cy="421.2" r="0.5" fill="#eee"/><circle cx="110.8" cy="420.1" r="0.8" fill="#fff"/><circle cx="110.8" cy="420.0" r="0.5" fill="#eee"/><circle cx="112.3" cy="418.5" r="0.6" fill="#4a2a2a"/><circle cx="112.0" cy="421.1" r="0.7" fill="#eee"/><circle cx="110.5" cy="422.7" r="0.6" fill="#ddd"/><circle cx="111.4" cy="421.7" r="0.6" fill="#ddd"/><circle cx="111.6" cy="421.5" r="0.6" fill="#4a2a2a"/><circle cx="112.7" cy="422.7" r="0.5" fill="#fff"/><circle cx="113.6" cy="421.8" r="0.7" fill="#cbc3c3"/><circle cx="111.4" cy="424.1" r="0.7" fill="#ddd"/><circle cx="114.7" cy="420.6" r="0.6" fill="#4a2a2a"/></g>
<g opacity="0.78"><path d="M127.5 422.5 L196.8 349.3" stroke="#9c8e8e" stroke-width="7" opacity="0.6"/><circle cx="126.9" cy="421.3" r="0.7" fill="#ddd"/><circle cx="127.5" cy="421.8" r="0.8" fill="#eee"/><circle cx="126.9" cy="421.3" r="0.5" fill="#fff"/><circle cx="129.7" cy="423.9" r="0.6" fill="#4a2a2a"/><circle cx="128.1" cy="420.2" r="0.8" fill="#ddd"/><circle cx="128.6" cy="420.6" r="0.8" fill="#cbc3c3"/><circle cx="128.2" cy="420.3" r="0.7" fill="#ddd"/><circle cx="130.5" cy="420.3" r="0.8" fill="#eee"/><circle cx="130.4" cy="420.1" r="0.7" fill="#cbc3c3"/><circle cx="131.2" cy="420.9" r="0.8" fill="#fff"/><circle cx="127.9" cy="417.8" r="0.6" fill="#4a2a2a"/><circle cx="133.2" cy="420.6" r="0.7" fill="#eee"/><circle cx="133.2" cy="420.6" r="0.8" fill="#eee"/><circle cx="131.9" cy="419.3" r="0.6" fill="#fff"/><circle cx="131.8" cy="419.2" r="0.6" fill="#4a2a2a"/><circle cx="131.1" cy="416.4" r="0.6" fill="#fff"/><circle cx="131.0" cy="416.3" r="0.5" fill="#fff"/><circle cx="133.3" cy="418.5" r="0.7" fill="#cbc3c3"/><circle cx="131.1" cy="416.4" r="0.6" fill="#4a2a2a"/><circle cx="131.6" cy="414.7" r="0.7" fill="#cbc3c3"/><circle cx="134.6" cy="417.5" r="0.7" fill="#ddd"/><circle cx="133.5" cy="416.5" r="0.5" fill="#cbc3c3"/><circle cx="131.3" cy="414.4" r="0.6" fill="#4a2a2a"/><circle cx="135.6" cy="416.3" r="0.5" fill="#cbc3c3"/><circle cx="136.1" cy="416.8" r="0.8" fill="#cbc3c3"/><circle cx="134.3" cy="415.1" r="0.7" fill="#fff"/><circle cx="136.4" cy="414.8" r="0.7" fill="#cbc3c3"/><circle cx="137.0" cy="415.4" r="0.7" fill="#eee"/><circle cx="133.5" cy="412.0" r="0.8" fill="#eee"/><circle cx="137.5" cy="413.7" r="0.5" fill="#ddd"/><circle cx="138.3" cy="414.4" r="0.5" fill="#cbc3c3"/><circle cx="134.5" cy="410.8" r="0.6" fill="#ddd"/><circle cx="138.2" cy="414.3" r="0.6" fill="#4a2a2a"/><circle cx="137.3" cy="411.2" r="0.8" fill="#fff"/><circle cx="139.5" cy="413.3" r="0.7" fill="#eee"/><circle cx="136.1" cy="410.2" r="0.8" fill="#eee"/><circle cx="135.7" cy="409.8" r="0.6" fill="#4a2a2a"/><circle cx="138.7" cy="410.3" r="0.8" fill="#ddd"/><circle cx="140.0" cy="411.6" r="0.8" fill="#cbc3c3"/><circle cx="140.1" cy="411.7" r="0.6" fill="#cbc3c3"/><circle cx="138.6" cy="408.1" r="0.7" fill="#fff"/><circle cx="138.6" cy="408.1" r="0.7" fill="#eee"/><circle cx="139.4" cy="408.8" r="0.5" fill="#cbc3c3"/><circle cx="138.4" cy="407.9" r="0.6" fill="#4a2a2a"/><circle cx="140.1" cy="407.3" r="0.5" fill="#eee"/><circle cx="141.9" cy="409.0" r="0.8" fill="#fff"/><circle cx="141.9" cy="409.0" r="0.6" fill="#ddd"/><circle cx="143.8" cy="408.6" r="0.6" fill="#ddd"/><circle cx="140.0" cy="405.0" r="0.5" fill="#ddd"/><circle cx="143.3" cy="408.1" r="0.6" fill="#cbc3c3"/><circle cx="142.5" cy="405.2" r="0.8" fill="#cbc3c3"/><circle cx="141.8" cy="404.5" r="0.6" fill="#cbc3c3"/><circle cx="145.3" cy="407.8" r="0.5" fill="#cbc3c3"/><circle cx="144.6" cy="407.1" r="0.6" fill="#4a2a2a"/><circle cx="142.5" cy="402.9" r="0.7" fill="#eee"/><circle cx="142.5" cy="403.0" r="0.7" fill="#ddd"/><circle cx="142.6" cy="403.0" r="0.7" fill="#cbc3c3"/><circle cx="143.7" cy="404.1" r="0.6" fill="#4a2a2a"/><circle cx="146.6" cy="404.7" r="0.5" fill="#fff"/><circle cx="147.3" cy="405.3" r="0.8" fill="#fff"/><circle cx="143.4" cy="401.7" r="0.7" fill="#cbc3c3"/><circle cx="144.6" cy="402.8" r="0.6" fill="#4a2a2a"/><circle cx="146.2" cy="402.1" r="0.7" fill="#fff"/><circle cx="148.6" cy="404.3" r="0.7" fill="#ddd"/><circle cx="148.0" cy="403.8" r="0.7" fill="#fff"/><circle cx="146.7" cy="400.4" r="0.5" fill="#ddd"/><circle cx="148.2" cy="401.7" r="0.6" fill="#ddd"/><circle cx="149.3" cy="402.8" r="0.6" fill="#fff"/><circle cx="146.0" cy="399.6" r="0.6" fill="#4a2a2a"/><circle cx="150.3" cy="401.6" r="0.6" fill="#cbc3c3"/><circle cx="149.6" cy="400.9" r="0.8" fill="#eee"/><circle cx="150.4" cy="401.7" r="0.6" fill="#cbc3c3"/><circle cx="149.9" cy="398.9" r="0.6" fill="#fff"/><circle cx="151.4" cy="400.3" r="0.7" fill="#cbc3c3"/><circle cx="149.5" cy="398.5" r="0.5" fill="#cbc3c3"/><circle cx="149.3" cy="396.2" r="0.5" fill="#ddd"/><circle cx="152.6" cy="399.3" r="0.6" fill="#ddd"/><circle cx="150.6" cy="397.4" r="0.8" fill="#fff"/><circle cx="150.7" cy="397.5" r="0.6" fill="#4a2a2a"/><circle cx="153.1" cy="397.5" r="0.5" fill="#fff"/><circle cx="152.4" cy="396.9" r="0.7" fill="#fff"/><circle cx="150.2" cy="394.8" r="0.5" fill="#ddd"/><circle cx="152.7" cy="397.2" r="0.6" fill="#4a2a2a"/><circle cx="151.1" cy="393.5" r="0.6" fill="#eee"/><circle cx="154.0" cy="396.2" r="0.7" fill="#cbc3c3"/><circle cx="154.6" cy="396.8" r="0.7" fill="#fff"/><circle cx="153.0" cy="395.3" r="0.6" fill="#4a2a2a"/><circle cx="153.5" cy="393.5" r="0.7" fill="#fff"/><circle cx="154.0" cy="394.0" r="0.6" fill="#ddd"/><circle cx="156.2" cy="396.1" r="0.8" fill="#cbc3c3"/><circle cx="154.0" cy="394.0" r="0.6" fill="#4a2a2a"/><circle cx="154.3" cy="392.1" r="0.5" fill="#cbc3c3"/><circle cx="154.7" cy="392.5" r="0.5" fill="#cbc3c3"/><circle cx="153.2" cy="391.1" r="0.7" fill="#ddd"/><circle cx="155.8" cy="393.6" r="0.6" fill="#4a2a2a"/><circle cx="156.2" cy="391.7" r="0.7" fill="#cbc3c3"/><circle cx="154.8" cy="390.4" r="0.6" fill="#eee"/><circle cx="157.8" cy="393.2" r="0.7" fill="#eee"/><circle cx="158.0" cy="393.4" r="0.6" fill="#4a2a2a"/><circle cx="158.3" cy="391.5" r="0.5" fill="#fff"/><circle cx="158.8" cy="391.9" r="0.6" fill="#ddd"/><circle cx="156.8" cy="390.1" r="0.6" fill="#fff"/><circle cx="157.5" cy="390.8" r="0.6" fill="#4a2a2a"/><circle cx="157.7" cy="388.7" r="0.7" fill="#fff"/><circle cx="160.5" cy="391.3" r="0.8" fill="#ddd"/><circle cx="159.9" cy="390.8" r="0.5" fill="#cbc3c3"/><circle cx="159.5" cy="390.4" r="0.6" fill="#4a2a2a"/><circle cx="160.9" cy="389.5" r="0.5" fill="#ddd"/><circle cx="158.1" cy="386.9" r="0.8" fill="#fff"/><circle cx="160.9" cy="389.6" r="0.8" fill="#ddd"/><circle cx="159.8" cy="386.3" r="0.5" fill="#ddd"/><circle cx="160.0" cy="386.5" r="0.6" fill="#eee"/><circle cx="161.8" cy="388.2" r="0.6" fill="#fff"/><circle cx="161.8" cy="386.0" r="0.5" fill="#fff"/><circle cx="162.9" cy="387.1" r="0.7" fill="#eee"/><circle cx="161.4" cy="385.6" r="0.7" fill="#ddd"/><circle cx="162.7" cy="386.9" r="0.6" fill="#4a2a2a"/><circle cx="160.9" cy="382.9" r="0.5" fill="#fff"/><circle cx="164.9" cy="386.7" r="0.6" fill="#eee"/><circle cx="165.0" cy="386.8" r="0.6" fill="#fff"/><circle cx="162.3" cy="384.2" r="0.6" fill="#4a2a2a"/><circle cx="163.7" cy="383.4" r="0.6" fill="#eee"/><circle cx="165.7" cy="385.3" r="0.8" fill="#ddd"/><circle cx="163.9" cy="383.6" r="0.7" fill="#eee"/><circle cx="162.1" cy="381.8" r="0.6" fill="#4a2a2a"/><circle cx="164.4" cy="381.8" r="0.5" fill="#eee"/><circle cx="164.7" cy="382.1" r="0.7" fill="#eee"/><circle cx="164.3" cy="381.7" r="0.7" fill="#eee"/><circle cx="164.9" cy="380.1" r="0.7" fill="#cbc3c3"/><circle cx="165.1" cy="380.3" r="0.6" fill="#ddd"/><circle cx="167.2" cy="382.3" r="0.5" fill="#eee"/><circle cx="167.6" cy="382.7" r="0.6" fill="#4a2a2a"/><circle cx="168.1" cy="380.9" r="0.7" fill="#ddd"/><circle cx="167.7" cy="380.6" r="0.8" fill="#fff"/><circle cx="166.6" cy="379.5" r="0.7" fill="#eee"/><circle cx="166.7" cy="379.6" r="0.6" fill="#4a2a2a"/><circle cx="167.6" cy="378.2" r="0.6" fill="#ddd"/><circle cx="166.9" cy="377.6" r="0.6" fill="#eee"/><circle cx="169.6" cy="380.1" r="0.7" fill="#fff"/><circle cx="168.3" cy="376.7" r="0.7" fill="#eee"/><circle cx="168.6" cy="377.0" r="0.5" fill="#cbc3c3"/><circle cx="171.1" cy="379.3" r="0.6" fill="#ddd"/><circle cx="168.0" cy="376.4" r="0.6" fill="#4a2a2a"/><circle cx="169.6" cy="375.8" r="0.7" fill="#ddd"/><circle cx="172.1" cy="378.1" r="0.6" fill="#ddd"/><circle cx="168.9" cy="375.0" r="0.6" fill="#eee"/><circle cx="172.4" cy="378.4" r="0.6" fill="#4a2a2a"/><circle cx="174.0" cy="377.7" r="0.8" fill="#fff"/><circle cx="173.0" cy="376.8" r="0.8" fill="#fff"/><circle cx="170.5" cy="374.4" r="0.8" fill="#ddd"/><circle cx="172.6" cy="376.4" r="0.6" fill="#4a2a2a"/><circle cx="172.4" cy="374.0" r="0.7" fill="#eee"/><circle cx="174.8" cy="376.3" r="0.7" fill="#eee"/><circle cx="173.2" cy="374.8" r="0.8" fill="#fff"/><circle cx="175.0" cy="376.4" r="0.6" fill="#4a2a2a"/><circle cx="173.7" cy="373.0" r="0.6" fill="#eee"/><circle cx="175.2" cy="374.4" r="0.6" fill="#cbc3c3"/><circle cx="173.8" cy="373.1" r="0.7" fill="#eee"/><circle cx="174.9" cy="374.2" r="0.6" fill="#4a2a2a"/><circle cx="177.1" cy="374.1" r="0.5" fill="#cbc3c3"/><circle cx="175.8" cy="372.8" r="0.7" fill="#fff"/><circle cx="176.7" cy="373.7" r="0.5" fill="#cbc3c3"/><circle cx="175.9" cy="372.9" r="0.6" fill="#4a2a2a"/><circle cx="174.7" cy="369.5" r="0.5" fill="#fff"/><circle cx="177.7" cy="372.4" r="0.5" fill="#cbc3c3"/><circle cx="176.0" cy="370.8" r="0.5" fill="#fff"/><circle cx="176.6" cy="369.2" r="0.8" fill="#ddd"/><circle cx="178.3" cy="370.7" r="0.8" fill="#cbc3c3"/><circle cx="177.4" cy="369.9" r="0.8" fill="#ddd"/><circle cx="179.3" cy="371.7" r="0.6" fill="#4a2a2a"/><circle cx="177.7" cy="367.9" r="0.6" fill="#fff"/><circle cx="177.2" cy="367.5" r="0.7" fill="#ddd"/><circle cx="177.5" cy="367.8" r="0.6" fill="#eee"/><circle cx="176.6" cy="367.0" r="0.6" fill="#4a2a2a"/><circle cx="179.5" cy="367.5" r="0.8" fill="#eee"/><circle cx="178.8" cy="366.8" r="0.6" fill="#ddd"/><circle cx="179.3" cy="367.3" r="0.6" fill="#eee"/><circle cx="178.6" cy="366.7" r="0.6" fill="#4a2a2a"/><circle cx="179.5" cy="365.3" r="0.8" fill="#eee"/><circle cx="182.8" cy="368.4" r="0.5" fill="#cbc3c3"/><circle cx="179.6" cy="365.3" r="0.7" fill="#ddd"/><circle cx="181.3" cy="367.0" r="0.6" fill="#4a2a2a"/><circle cx="183.3" cy="366.7" r="0.5" fill="#ddd"/><circle cx="182.9" cy="366.3" r="0.7" fill="#eee"/><circle cx="180.9" cy="364.4" r="0.8" fill="#fff"/><circle cx="182.4" cy="365.8" r="0.6" fill="#4a2a2a"/><circle cx="182.3" cy="363.6" r="0.5" fill="#cbc3c3"/><circle cx="183.9" cy="365.0" r="0.8" fill="#fff"/><circle cx="182.0" cy="363.3" r="0.7" fill="#eee"/><circle cx="185.7" cy="364.6" r="0.5" fill="#ddd"/><circle cx="183.0" cy="362.0" r="0.6" fill="#fff"/><circle cx="183.7" cy="362.7" r="0.6" fill="#cbc3c3"/><circle cx="184.0" cy="363.0" r="0.6" fill="#4a2a2a"/><circle cx="183.2" cy="360.0" r="0.8" fill="#fff"/><circle cx="183.3" cy="360.1" r="0.5" fill="#cbc3c3"/><circle cx="185.1" cy="361.8" r="0.7" fill="#cbc3c3"/><circle cx="184.5" cy="361.2" r="0.6" fill="#4a2a2a"/><circle cx="184.6" cy="359.1" r="0.5" fill="#fff"/><circle cx="186.7" cy="361.0" r="0.6" fill="#cbc3c3"/><circle cx="185.4" cy="359.9" r="0.5" fill="#ddd"/><circle cx="186.2" cy="358.4" r="0.5" fill="#cbc3c3"/><circle cx="187.2" cy="359.3" r="0.5" fill="#fff"/><circle cx="187.7" cy="359.9" r="0.8" fill="#ddd"/><circle cx="188.0" cy="358.0" r="0.7" fill="#cbc3c3"/><circle cx="190.2" cy="360.0" r="0.7" fill="#fff"/><circle cx="187.2" cy="357.1" r="0.7" fill="#eee"/><circle cx="187.2" cy="357.2" r="0.6" fill="#4a2a2a"/><circle cx="187.5" cy="355.3" r="0.7" fill="#eee"/><circle cx="188.2" cy="355.9" r="0.8" fill="#cbc3c3"/><circle cx="189.8" cy="357.4" r="0.8" fill="#cbc3c3"/><circle cx="192.1" cy="357.4" r="0.6" fill="#cbc3c3"/><circle cx="189.7" cy="355.1" r="0.8" fill="#ddd"/><circle cx="191.3" cy="356.6" r="0.6" fill="#eee"/><circle cx="189.6" cy="355.0" r="0.6" fill="#4a2a2a"/><circle cx="192.3" cy="355.4" r="0.8" fill="#fff"/><circle cx="192.7" cy="355.8" r="0.6" fill="#eee"/><circle cx="193.2" cy="356.2" r="0.6" fill="#cbc3c3"/><circle cx="190.7" cy="353.8" r="0.6" fill="#4a2a2a"/><circle cx="192.4" cy="353.2" r="0.8" fill="#eee"/><circle cx="193.8" cy="354.6" r="0.8" fill="#fff"/><circle cx="192.1" cy="352.9" r="0.5" fill="#eee"/><circle cx="193.5" cy="352.1" r="0.7" fill="#cbc3c3"/><circle cx="194.6" cy="353.1" r="0.5" fill="#eee"/><circle cx="193.3" cy="351.9" r="0.6" fill="#fff"/><circle cx="193.1" cy="351.7" r="0.6" fill="#4a2a2a"/><circle cx="193.8" cy="350.1" r="0.5" fill="#ddd"/><circle cx="194.0" cy="350.3" r="0.8" fill="#cbc3c3"/><circle cx="194.2" cy="350.5" r="0.5" fill="#fff"/><circle cx="195.3" cy="349.4" r="0.5" fill="#cbc3c3"/><circle cx="195.4" cy="349.5" r="0.6" fill="#ddd"/><circle cx="194.5" cy="348.6" r="0.6" fill="#cbc3c3"/></g>
<path d="M113 423 q3 5 6 1 q2 5 5 0 q1 -3 3 -1" stroke="#d8d0d0" stroke-width="1.1" fill="none" stroke-dasharray="1.4 0.9"/>
<path d="M111 426 q4 6 8 3 q3 3 6 -2" stroke="#b0a0a0" stroke-width="0.9" fill="none" stroke-dasharray="1 1"/>
</g>
<text x="10.6" y="354.4" font-family="Liberation Serif, serif" font-weight="bold" font-size="10.4" fill="#fff">(f)</text>
<text x="91.2" y="451.7" font-family="Liberation Sans, sans-serif" font-weight="bold" font-size="9.5" fill="#fff"><tspan font-style="italic">λ</tspan><tspan font-size="7.6" dy="3">4</tspan><tspan dy="-3">=1528 nm</tspan></text>
<rect x="243.3" y="342.6" width="4.8" height="115" fill="url(#hot)" stroke="#222" stroke-width="0.6"/>
<text x="248.8" y="348.4" font-size="9.6" font-family="Liberation Sans, sans-serif" font-weight="bold" fill="#222">1</text>
<text x="248.8" y="462.2" font-size="9.6" font-family="Liberation Sans, sans-serif" font-weight="bold" fill="#222">0</text>
<text transform="translate(250.6 397.4) rotate(90)" text-anchor="middle" font-size="8.6" font-family="Liberation Sans, sans-serif" font-weight="bold" fill="#222">H</text>
</g>
<g id="pg">
<clipPath id="gclip"><rect x="310.1" y="350" width="192.9" height="93.6"/></clipPath>
<path d="M383.3 350.6 V442.6" stroke="#35a9e1" stroke-width="1.1" stroke-dasharray="2.6 1.2 0.9 1.2"/>
<path d="M395.1 350.6 V442.6" stroke="#35a9e1" stroke-width="1.1" stroke-dasharray="2.6 1.2 0.9 1.2"/>
<g clip-path="url(#gclip)">
<path d="M310.05,442.24 L310.37,442.24 L310.69,442.24 L311.01,442.24 L311.33,442.24 L311.65,442.24 L311.98,442.24 L312.30,442.24 L312.62,442.24 L312.94,442.24 L313.26,442.24 L313.59,442.24 L313.91,442.24 L314.23,442.24 L314.55,442.24 L314.87,442.24 L315.20,442.24 L315.52,442.24 L315.84,442.24 L316.16,442.24 L316.48,442.24 L316.81,442.24 L317.13,442.24 L317.45,442.24 L317.77,442.24 L318.09,442.24 L318.42,442.24 L318.74,442.24 L319.06,442.24 L319.38,442.24 L319.70,442.24 L320.03,442.24 L320.35,442.24 L320.67,442.24 L320.99,442.24 L321.31,442.24 L321.64,442.24 L321.96,442.24 L322.28,442.24 L322.60,442.24 L322.92,442.24 L323.25,442.24 L323.57,442.24 L323.89,442.24 L324.21,442.24 L324.53,442.24 L324.86,442.24 L325.18,442.24 L325.50,442.24 L325.82,442.24 L326.14,442.24 L326.47,442.24 L326.79,442.24 L327.11,442.24 L327.43,442.24 L327.75,442.24 L328.08,442.24 L328.40,442.24 L328.72,442.24 L329.04,442.24 L329.36,442.24 L329.69,442.24 L330.01,442.24 L330.33,442.24 L330.65,442.24 L330.97,442.24 L331.30,442.24 L331.62,442.24 L331.94,442.24 L332.26,442.24 L332.58,442.24 L332.91,442.24 L333.23,442.24 L333.55,442.24 L333.87,442.24 L334.19,442.24 L334.52,442.24 L334.84,442.24 L335.16,442.24 L335.48,442.24 L335.80,442.24 L336.13,442.24 L336.45,442.24 L336.77,442.24 L337.09,442.24 L337.41,442.24 L337.74,442.24 L338.06,442.24 L338.38,442.24 L338.70,442.24 L339.02,442.24 L339.35,442.24 L339.67,442.24 L339.99,442.24 L340.31,442.24 L340.63,442.24 L340.96,442.24 L341.28,442.24 L341.60,442.24 L341.92,442.24 L342.24,442.24 L342.57,442.24 L342.89,442.24 L343.21,442.24 L343.53,442.24 L343.85,442.24 L344.18,442.24 L344.50,442.24 L344.82,442.24 L345.14,442.24 L345.46,442.24 L345.79,442.24 L346.11,442.24 L346.43,442.24 L346.75,442.24 L347.07,442.24 L347.40,442.24 L347.72,442.24 L348.04,442.24 L348.36,442.24 L348.68,442.24 L349.01,442.24 L349.33,442.24 L349.65,442.24 L349.97,442.24 L350.29,442.24 L350.62,442.24 L350.94,442.24 L351.26,442.24 L351.58,442.24 L351.90,442.24 L352.23,442.24 L352.55,442.24 L352.87,442.24 L353.19,442.24 L353.51,442.24 L353.84,442.24 L354.16,442.24 L354.48,442.24 L354.80,442.24 L355.12,442.24 L355.45,442.24 L355.77,442.24 L356.09,442.24 L356.41,442.24 L356.73,442.24 L357.06,442.24 L357.38,442.24 L357.70,442.24 L358.02,442.24 L358.34,442.24 L358.67,442.24 L358.99,442.24 L359.31,442.24 L359.63,442.24 L359.95,442.24 L360.28,442.24 L360.60,442.24 L360.92,442.24 L361.24,442.24 L361.56,442.24 L361.89,442.24 L362.21,442.24 L362.53,442.24 L362.85,442.24 L363.17,442.24 L363.50,442.24 L363.82,442.24 L364.14,442.24 L364.46,442.24 L364.78,442.24 L365.11,442.24 L365.43,442.24 L365.75,442.24 L366.07,442.24 L366.39,442.24 L366.72,442.24 L367.04,442.24 L367.36,442.24 L367.68,442.24 L368.00,442.24 L368.33,442.24 L368.65,442.24 L368.97,442.24 L369.29,442.24 L369.61,442.24 L369.94,442.24 L370.26,442.24 L370.58,442.24 L370.90,442.24 L371.22,442.24 L371.55,442.24 L371.87,442.24 L372.19,442.24 L372.51,442.24 L372.83,442.24 L373.16,442.24 L373.48,442.24 L373.80,442.24 L374.12,442.24 L374.44,442.24 L374.77,442.24 L375.09,442.24 L375.41,442.24 L375.73,442.24 L376.05,442.24 L376.38,442.24 L376.70,442.24 L377.02,442.24 L377.34,442.24 L377.66,442.23 L377.99,442.21 L378.31,442.16 L378.63,442.05 L378.95,441.83 L379.27,441.41 L379.60,440.62 L379.92,439.26 L380.24,437.05 L380.56,433.69 L380.88,428.93 L381.21,422.63 L381.53,414.90 L381.85,406.18 L382.17,397.24 L382.49,389.11 L382.82,382.89 L383.14,379.51 L383.46,379.51 L383.78,382.89 L384.10,389.11 L384.43,397.24 L384.75,406.18 L385.07,414.90 L385.39,422.63 L385.71,428.93 L386.04,433.69 L386.36,437.05 L386.68,439.26 L387.00,440.62 L387.32,441.41 L387.65,441.83 L387.97,442.05 L388.29,442.16 L388.61,442.21 L388.93,442.23 L389.26,442.23 L389.58,442.22 L389.90,442.19 L390.22,442.12 L390.54,441.96 L390.87,441.65 L391.19,441.07 L391.51,440.02 L391.83,438.28 L392.15,435.53 L392.48,431.50 L392.80,425.97 L393.12,418.92 L393.44,410.62 L393.76,401.68 L394.09,393.00 L394.41,385.69 L394.73,380.80 L395.05,379.07 L395.37,380.80 L395.70,385.69 L396.02,393.00 L396.34,401.68 L396.66,410.62 L396.98,418.92 L397.31,425.97 L397.63,431.50 L397.95,435.53 L398.27,438.28 L398.59,440.02 L398.92,441.07 L399.24,441.65 L399.56,441.96 L399.88,442.12 L400.20,442.19 L400.53,442.22 L400.85,442.23 L401.17,442.24 L401.49,442.24 L401.81,442.24 L402.14,442.24 L402.46,442.24 L402.78,442.24 L403.10,442.24 L403.42,442.24 L403.75,442.24 L404.07,442.24 L404.39,442.24 L404.71,442.24 L405.03,442.24 L405.36,442.24 L405.68,442.24 L406.00,442.24 L406.32,442.24 L406.64,442.24 L406.97,442.24 L407.29,442.24 L407.61,442.24 L407.93,442.24 L408.25,442.24 L408.58,442.24 L408.90,442.24 L409.22,442.24 L409.54,442.24 L409.86,442.24 L410.19,442.24 L410.51,442.24 L410.83,442.24 L411.15,442.24 L411.47,442.24 L411.80,442.24 L412.12,442.24 L412.44,442.24 L412.76,442.24 L413.08,442.24 L413.41,442.24 L413.73,442.24 L414.05,442.24 L414.37,442.24 L414.69,442.24 L415.02,442.24 L415.34,442.24 L415.66,442.24 L415.98,442.24 L416.30,442.24 L416.63,442.24 L416.95,442.24 L417.27,442.24 L417.59,442.24 L417.91,442.24 L418.24,442.24 L418.56,442.24 L418.88,442.24 L419.20,442.24 L419.52,442.24 L419.85,442.24 L420.17,442.24 L420.49,442.24 L420.81,442.24 L421.13,442.24 L421.46,442.24 L421.78,442.24 L422.10,442.24 L422.42,442.24 L422.74,442.24 L423.07,442.24 L423.39,442.24 L423.71,442.24 L424.03,442.24 L424.35,442.24 L424.68,442.24 L425.00,442.24 L425.32,442.24 L425.64,442.24 L425.96,442.24 L426.29,442.24 L426.61,442.24 L426.93,442.24 L427.25,442.24 L427.57,442.24 L427.90,442.24 L428.22,442.24 L428.54,442.24 L428.86,442.24 L429.18,442.24 L429.51,442.24 L429.83,442.24 L430.15,442.24 L430.47,442.24 L430.79,442.24 L431.12,442.24 L431.44,442.24 L431.76,442.24 L432.08,442.24 L432.40,442.24 L432.73,442.24 L433.05,442.24 L433.37,442.24 L433.69,442.24 L434.01,442.24 L434.34,442.24 L434.66,442.24 L434.98,442.24 L435.30,442.24 L435.62,442.24 L435.95,442.24 L436.27,442.24 L436.59,442.24 L436.91,442.24 L437.23,442.24 L437.56,442.24 L437.88,442.24 L438.20,442.24 L438.52,442.24 L438.84,442.24 L439.17,442.24 L439.49,442.24 L439.81,442.24 L440.13,442.24 L440.45,442.24 L440.78,442.24 L441.10,442.24 L441.42,442.24 L441.74,442.24 L442.06,442.24 L442.39,442.24 L442.71,442.24 L443.03,442.24 L443.35,442.24 L443.67,442.24 L444.00,442.24 L444.32,442.24 L444.64,442.24 L444.96,442.24 L445.28,442.24 L445.61,442.24 L445.93,442.24 L446.25,442.24 L446.57,442.24 L446.89,442.24 L447.22,442.24 L447.54,442.24 L447.86,442.24 L448.18,442.24 L448.50,442.24 L448.83,442.24 L449.15,442.24 L449.47,442.24 L449.79,442.24 L450.11,442.24 L450.44,442.24 L450.76,442.24 L451.08,442.24 L451.40,442.24 L451.72,442.24 L452.05,442.24 L452.37,442.24 L452.69,442.24 L453.01,442.24 L453.33,442.24 L453.66,442.24 L453.98,442.24 L454.30,442.24 L454.62,442.24 L454.94,442.24 L455.27,442.24 L455.59,442.24 L455.91,442.24 L456.23,442.24 L456.55,442.24 L456.88,442.24 L457.20,442.24 L457.52,442.24 L457.84,442.24 L458.16,442.24 L458.49,442.24 L458.81,442.24 L459.13,442.24 L459.45,442.24 L459.77,442.24 L460.10,442.24 L460.42,442.24 L460.74,442.24 L461.06,442.24 L461.38,442.24 L461.71,442.24 L462.03,442.24 L462.35,442.24 L462.67,442.24 L462.99,442.24 L463.32,442.24 L463.64,442.24 L463.96,442.24 L464.28,442.24 L464.60,442.24 L464.93,442.24 L465.25,442.24 L465.57,442.24 L465.89,442.24 L466.21,442.24 L466.54,442.24 L466.86,442.24 L467.18,442.24 L467.50,442.24 L467.82,442.24 L468.15,442.24 L468.47,442.24 L468.79,442.24 L469.11,442.24 L469.43,442.24 L469.76,442.24 L470.08,442.24 L470.40,442.24 L470.72,442.24 L471.04,442.24 L471.37,442.24 L471.69,442.24 L472.01,442.24 L472.33,442.24 L472.65,442.24 L472.98,442.24 L473.30,442.24 L473.62,442.24 L473.94,442.24 L474.26,442.24 L474.59,442.24 L474.91,442.24 L475.23,442.24 L475.55,442.24 L475.87,442.24 L476.20,442.24 L476.52,442.24 L476.84,442.24 L477.16,442.24 L477.48,442.24 L477.81,442.24 L478.13,442.24 L478.45,442.24 L478.77,442.24 L479.09,442.24 L479.42,442.24 L479.74,442.24 L480.06,442.24 L480.38,442.24 L480.70,442.24 L481.03,442.24 L481.35,442.24 L481.67,442.24 L481.99,442.24 L482.31,442.24 L482.64,442.24 L482.96,442.24 L483.28,442.24 L483.60,442.24 L483.92,442.24 L484.25,442.24 L484.57,442.24 L484.89,442.24 L485.21,442.24 L485.53,442.24 L485.86,442.24 L486.18,442.24 L486.50,442.24 L486.82,442.24 L487.14,442.24 L487.47,442.24 L487.79,442.24 L488.11,442.24 L488.43,442.24 L488.75,442.24 L489.08,442.24 L489.40,442.24 L489.72,442.24 L490.04,442.24 L490.36,442.24 L490.69,442.24 L491.01,442.24 L491.33,442.24 L491.65,442.24 L491.97,442.24 L492.30,442.24 L492.62,442.24 L492.94,442.24 L493.26,442.24 L493.58,442.24 L493.91,442.24 L494.23,442.24 L494.55,442.24 L494.87,442.24 L495.19,442.24 L495.52,442.24 L495.84,442.24 L496.16,442.24 L496.48,442.24 L496.80,442.24 L497.13,442.24 L497.45,442.24 L497.77,442.24 L498.09,442.24 L498.41,442.24 L498.74,442.24 L499.06,442.24 L499.38,442.24 L499.70,442.24 L500.02,442.24" stroke="#1c1c2c" stroke-width="1.5" stroke-dasharray="2.6 1.7" fill="none"/>
<path d="M310.05,441.52 L310.53,441.52 L311.01,441.52 L311.49,441.52 L311.98,441.52 L312.46,441.52 L312.94,441.52 L313.43,441.52 L313.91,441.52 L314.39,441.52 L314.88,441.52 L315.36,441.52 L315.84,441.52 L316.32,441.52 L316.81,441.52 L317.29,441.52 L317.77,441.52 L318.26,441.52 L318.74,441.52 L319.22,441.52 L319.71,441.52 L320.19,441.52 L320.67,441.52 L321.15,441.52 L321.64,441.52 L322.12,441.52 L322.60,441.52 L323.09,441.52 L323.57,441.52 L324.05,441.52 L324.54,441.52 L325.02,441.52 L325.50,441.52 L325.98,441.52 L326.47,441.52 L326.95,441.52 L327.43,441.52 L327.92,441.52 L328.40,441.52 L328.88,441.52 L329.37,441.52 L329.85,441.52 L330.33,441.52 L330.81,441.52 L331.30,441.52 L331.78,441.52 L332.26,441.52 L332.75,441.52 L333.23,441.52 L333.71,441.52 L334.20,441.52 L334.68,441.52 L335.16,441.52 L335.64,441.52 L336.13,441.52 L336.61,441.52 L337.09,441.52 L337.58,441.52 L338.06,441.52 L338.54,441.52 L339.03,441.52 L339.51,441.52 L339.99,441.52 L340.47,441.52 L340.96,441.52 L341.44,441.52 L341.92,441.52 L342.41,441.52 L342.89,441.52 L343.37,441.52 L343.86,441.52 L344.34,441.52 L344.82,441.52 L345.30,441.52 L345.79,441.52 L346.27,441.52 L346.75,441.52 L347.24,441.52 L347.72,441.52 L348.20,441.52 L348.69,441.52 L349.17,441.52 L349.65,441.52 L350.13,441.52 L350.62,441.52 L351.10,441.52 L351.58,441.52 L352.07,441.52 L352.55,441.52 L353.03,441.52 L353.52,441.52 L354.00,441.52 L354.48,441.52 L354.96,441.52 L355.45,441.52 L355.93,441.52 L356.41,441.52 L356.90,441.52 L357.38,441.52 L357.86,441.52 L358.35,441.52 L358.83,441.52 L359.31,441.52 L359.79,441.52 L360.28,441.52 L360.76,441.52 L361.24,441.52 L361.73,441.52 L362.21,441.52 L362.69,441.52 L363.18,441.52 L363.66,441.52 L364.14,441.52 L364.62,441.52 L365.11,441.52 L365.59,441.52 L366.07,441.52 L366.56,441.51 L367.04,441.48 L367.52,441.44 L368.01,441.35 L368.49,441.19 L368.97,440.93 L369.45,440.54 L369.94,440.03 L370.42,439.41 L370.90,438.74 L371.39,438.13 L371.87,437.68 L372.35,437.47 L372.84,437.54 L373.32,437.87 L373.80,438.35 L374.28,438.87 L374.77,439.28 L375.25,439.47 L375.73,439.32 L376.22,438.76 L376.70,437.70 L377.18,436.06 L377.67,433.75 L378.15,430.67 L378.63,426.77 L379.11,422.03 L379.60,416.50 L380.08,410.32 L380.56,403.75 L381.05,397.10 L381.53,390.78 L382.01,385.22 L382.50,380.80 L382.98,377.86 L383.46,376.59 L383.94,377.01 L384.43,379.01 L384.91,382.30 L385.39,386.50 L385.88,391.19 L386.36,395.93 L386.84,400.36 L387.33,404.22 L387.81,407.34 L388.29,409.63 L388.77,411.07 L389.26,411.65 L389.74,411.35 L390.22,410.15 L390.71,408.02 L391.19,404.96 L391.67,401.05 L392.16,396.44 L392.64,391.44 L393.12,386.44 L393.60,381.91 L394.09,378.33 L394.57,376.14 L395.05,375.65 L395.54,377.00 L396.02,380.13 L396.50,384.84 L396.99,390.74 L397.47,397.41 L397.95,404.35 L398.43,411.16 L398.92,417.47 L399.40,423.05 L399.88,427.76 L400.37,431.58 L400.85,434.54 L401.33,436.76 L401.82,438.37 L402.30,439.48 L402.78,440.22 L403.26,440.70 L403.75,441.00 L404.23,441.18 L404.71,441.28 L405.20,441.34 L405.68,441.36 L406.16,441.38 L406.65,441.38 L407.13,441.38 L407.61,441.38 L408.09,441.37 L408.58,441.36 L409.06,441.36 L409.54,441.35 L410.03,441.35 L410.51,441.34 L410.99,441.33 L411.48,441.32 L411.96,441.32 L412.44,441.31 L412.92,441.30 L413.41,441.29 L413.89,441.27 L414.37,441.25 L414.86,441.21 L415.34,441.14 L415.82,441.02 L416.31,440.84 L416.79,440.58 L417.27,440.20 L417.75,439.71 L418.24,439.13 L418.72,438.48 L419.20,437.83 L419.69,437.26 L420.17,436.85 L420.65,436.67 L421.14,436.75 L421.62,437.06 L422.10,437.56 L422.58,438.17 L423.07,438.81 L423.55,439.40 L424.03,439.90 L424.52,440.29 L425.00,440.57 L425.48,440.76 L425.97,440.87 L426.45,440.93 L426.93,440.96 L427.41,440.97 L427.90,440.96 L428.38,440.96 L428.86,440.94 L429.35,440.93 L429.83,440.92 L430.31,440.91 L430.80,440.89 L431.28,440.88 L431.76,440.87 L432.24,440.86 L432.73,440.84 L433.21,440.83 L433.69,440.82 L434.18,440.80 L434.66,440.79 L435.14,440.78 L435.63,440.77 L436.11,440.75 L436.59,440.74 L437.07,440.73 L437.56,440.72 L438.04,440.70 L438.52,440.69 L439.01,440.68 L439.49,440.67 L439.97,440.66 L440.46,440.64 L440.94,440.63 L441.42,440.62 L441.90,440.61 L442.39,440.60 L442.87,440.59 L443.35,440.58 L443.84,440.57 L444.32,440.56 L444.80,440.55 L445.29,440.55 L445.77,440.54 L446.25,440.53 L446.73,440.52 L447.22,440.51 L447.70,440.51 L448.18,440.50 L448.67,440.49 L449.15,440.49 L449.63,440.48 L450.12,440.48 L450.60,440.47 L451.08,440.47 L451.56,440.47 L452.05,440.46 L452.53,440.46 L453.01,440.46 L453.50,440.45 L453.98,440.45 L454.46,440.45 L454.95,440.45 L455.43,440.45 L455.91,440.45 L456.39,440.45 L456.88,440.45 L457.36,440.45 L457.84,440.45 L458.33,440.46 L458.81,440.46 L459.29,440.46 L459.78,440.46 L460.26,440.47 L460.74,440.47 L461.22,440.48 L461.71,440.48 L462.19,440.49 L462.67,440.49 L463.16,440.50 L463.64,440.51 L464.12,440.51 L464.61,440.52 L465.09,440.53 L465.57,440.53 L466.05,440.54 L466.54,440.55 L467.02,440.56 L467.50,440.57 L467.99,440.58 L468.47,440.59 L468.95,440.60 L469.44,440.61 L469.92,440.62 L470.40,440.63 L470.88,440.64 L471.37,440.65 L471.85,440.66 L472.33,440.68 L472.82,440.69 L473.30,440.70 L473.78,440.71 L474.27,440.72 L474.75,440.74 L475.23,440.75 L475.71,440.76 L476.20,440.77 L476.68,440.79 L477.16,440.80 L477.65,440.81 L478.13,440.82 L478.61,440.84 L479.10,440.85 L479.58,440.86 L480.06,440.88 L480.54,440.89 L481.03,440.90 L481.51,440.92 L481.99,440.93 L482.48,440.94 L482.96,440.95 L483.44,440.97 L483.93,440.98 L484.41,440.99 L484.89,441.01 L485.37,441.02 L485.86,441.03 L486.34,441.04 L486.82,441.05 L487.31,441.07 L487.79,441.08 L488.27,441.09 L488.76,441.10 L489.24,441.11 L489.72,441.13 L490.20,441.14 L490.69,441.15 L491.17,441.16 L491.65,441.17 L492.14,441.18 L492.62,441.19 L493.10,441.20 L493.59,441.21 L494.07,441.22 L494.55,441.23 L495.03,441.24 L495.52,441.25 L496.00,441.26 L496.48,441.27 L496.97,441.27 L497.45,441.28 L497.93,441.29 L498.42,441.30 L498.90,441.31 L499.38,441.31 L499.86,441.32" stroke="#f0605a" stroke-width="0.95" fill="none"/>
</g>
<rect x="310.1" y="353" width="192.9" height="89.6" stroke="#4a4a4a" stroke-width="1" fill="none"/>
<path d="M310.1 442.6 h2.4" stroke="#4a4a4a" stroke-width="1" fill="none"/>
<text x="307.5" y="445.5" text-anchor="end" font-size="8.1" font-family="Liberation Sans, sans-serif" fill="#333">0.0</text>
<path d="M310.1 424.7 h2.4" stroke="#4a4a4a" stroke-width="1" fill="none"/>
<text x="307.5" y="427.6" text-anchor="end" font-size="8.1" font-family="Liberation Sans, sans-serif" fill="#333">0.2</text>
<path d="M310.1 406.8 h2.4" stroke="#4a4a4a" stroke-width="1" fill="none"/>
<text x="307.5" y="409.7" text-anchor="end" font-size="8.1" font-family="Liberation Sans, sans-serif" fill="#333">0.4</text>
<path d="M310.1 388.8 h2.4" stroke="#4a4a4a" stroke-width="1" fill="none"/>
<text x="307.5" y="391.7" text-anchor="end" font-size="8.1" font-family="Liberation Sans, sans-serif" fill="#333">0.6</text>
<path d="M310.1 370.9 h2.4" stroke="#4a4a4a" stroke-width="1" fill="none"/>
<text x="307.5" y="373.8" text-anchor="end" font-size="8.1" font-family="Liberation Sans, sans-serif" fill="#333">0.8</text>
<path d="M310.1 353.0 h2.4" stroke="#4a4a4a" stroke-width="1" fill="none"/>
<text x="307.5" y="355.9" text-anchor="end" font-size="8.1" font-family="Liberation Sans, sans-serif" fill="#333">1.0</text>
<path d="M335.0 442.6 v-2.4" stroke="#4a4a4a" stroke-width="1" fill="none"/>
<text x="335.0" y="451.9" text-anchor="middle" font-size="8.1" font-family="Liberation Sans, sans-serif" fill="#333">1549</text>
<path d="M415.5 442.6 v-2.4" stroke="#4a4a4a" stroke-width="1" fill="none"/>
<text x="415.5" y="451.9" text-anchor="middle" font-size="8.1" font-family="Liberation Sans, sans-serif" fill="#333">1550</text>
<path d="M496.0 442.6 v-2.4" stroke="#4a4a4a" stroke-width="1" fill="none"/>
<text x="496.0" y="451.9" text-anchor="middle" font-size="8.1" font-family="Liberation Sans, sans-serif" fill="#333">1551</text>
<text x="405" y="461.6" text-anchor="middle" font-size="8.1" font-family="Liberation Sans, sans-serif" fill="#333">Wavelength (nm)</text>
<text transform="translate(291.6 397.7) rotate(-90)" text-anchor="middle" font-size="7.3" font-family="Liberation Sans, sans-serif" fill="#333">Intensity (a.u.)</text>
<text x="281.4" y="353.6" font-family="Liberation Serif, serif" font-size="11" fill="#222">(g)</text>
<text x="357.5" y="350.4" text-anchor="middle" font-size="8.3" font-family="Liberation Sans, sans-serif" fill="#333">1549.61 nm</text>
<text x="423" y="350.4" text-anchor="middle" font-size="8.3" font-family="Liberation Sans, sans-serif" fill="#333">1549.75 nm</text>
<path d="M372 361.2 H394.2" stroke="#1c1c2c" stroke-width="1.6" stroke-dasharray="9.2 3.8"/>
<path d="M372 370.4 H394" stroke="#f0703a" stroke-width="1.3"/>
<text x="397.5" y="364.4" font-size="8.3" textLength="101" lengthAdjust="spacingAndGlyphs" font-family="Liberation Sans, sans-serif" fill="#333">Conventional spectrometer</text>
<text x="397.5" y="373.4" font-size="8.3" font-family="Liberation Sans, sans-serif" fill="#333">Reconstruction</text>
</g>
</svg>
</body></html>
